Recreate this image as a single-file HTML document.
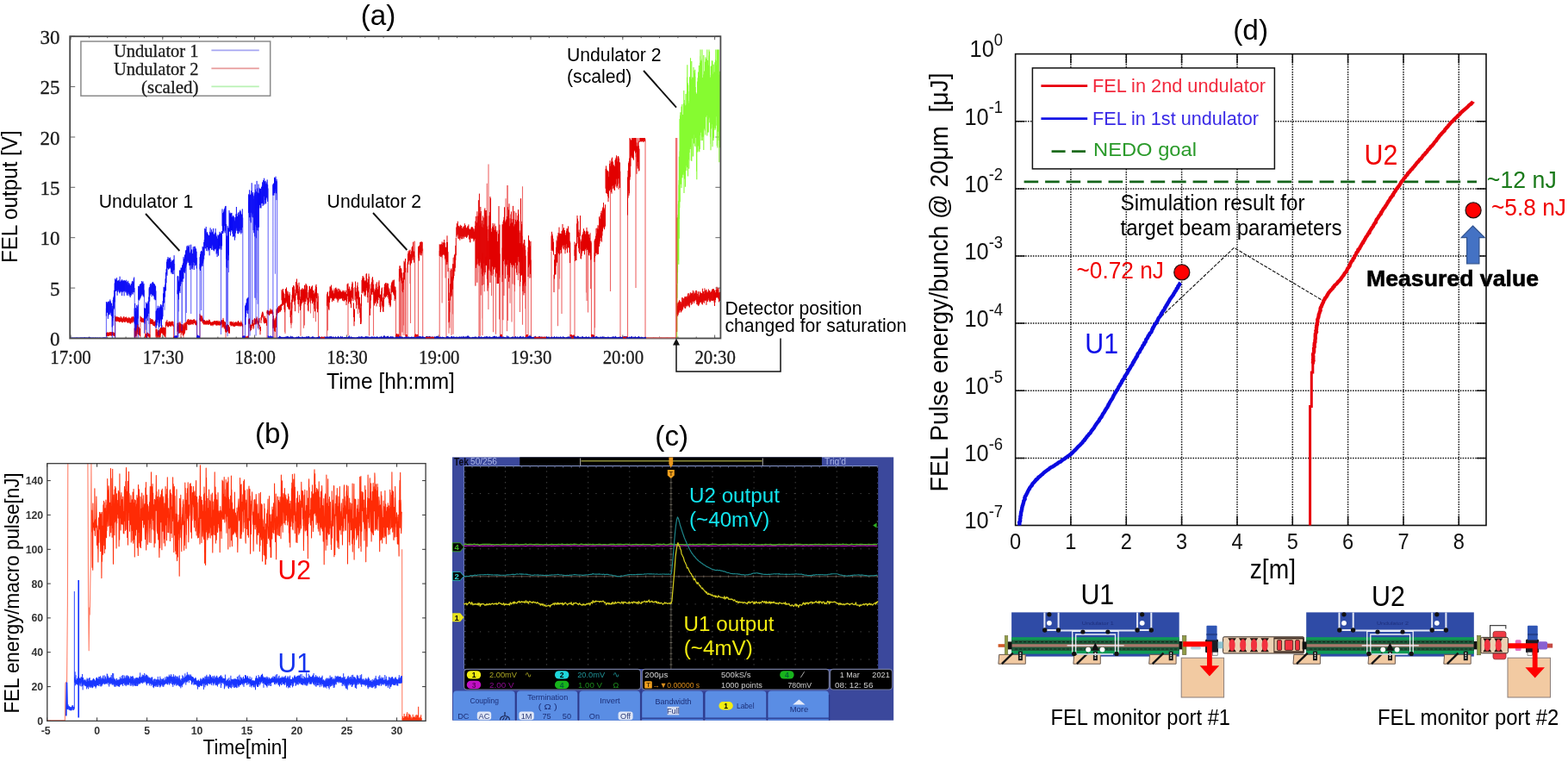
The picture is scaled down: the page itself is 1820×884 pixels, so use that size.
<!DOCTYPE html>
<html lang="en"><head><meta charset="utf-8"><title>FEL output figure</title>
<style>
html,body{margin:0;padding:0;background:#fff}
body{width:1820px;height:884px;overflow:hidden}
svg{display:block;filter:blur(.45px)}
.s{font-family:"Liberation Sans",Arial,Helvetica,sans-serif}
.r{font-family:"Liberation Serif","Times New Roman",Times,serif}
.t{fill:#1a1a1a;stroke:#1a1a1a;stroke-width:.3px}
.j{font-family:"Liberation Sans","Noto Sans CJK JP",sans-serif}
</style></head><body>
<svg width="1820" height="884" viewBox="0 0 1820 884">
<rect width="1820" height="884" fill="#fff"/>
<g id="pa">
<path d="M82 392.5v-4M82 42.2v4M188.8 392.5v-4M188.8 42.2v4M295.6 392.5v-4M295.6 42.2v4M402.4 392.5v-4M402.4 42.2v4M509.2 392.5v-4M509.2 42.2v4M616 392.5v-4M616 42.2v4M722.8 392.5v-4M722.8 42.2v4M829.6 392.5v-4M829.6 42.2v4M82 392.5v-2M82 42.2v2M103.4 392.5v-2M103.4 42.2v2M124.7 392.5v-2M124.7 42.2v2M146.1 392.5v-2M146.1 42.2v2M167.4 392.5v-2M167.4 42.2v2M188.8 392.5v-2M188.8 42.2v2M210.2 392.5v-2M210.2 42.2v2M231.5 392.5v-2M231.5 42.2v2M252.9 392.5v-2M252.9 42.2v2M274.2 392.5v-2M274.2 42.2v2M295.6 392.5v-2M295.6 42.2v2M317 392.5v-2M317 42.2v2M338.3 392.5v-2M338.3 42.2v2M359.7 392.5v-2M359.7 42.2v2M381 392.5v-2M381 42.2v2M402.4 392.5v-2M402.4 42.2v2M423.8 392.5v-2M423.8 42.2v2M445.1 392.5v-2M445.1 42.2v2M466.5 392.5v-2M466.5 42.2v2M487.8 392.5v-2M487.8 42.2v2M509.2 392.5v-2M509.2 42.2v2M530.6 392.5v-2M530.6 42.2v2M551.9 392.5v-2M551.9 42.2v2M573.3 392.5v-2M573.3 42.2v2M594.6 392.5v-2M594.6 42.2v2M616 392.5v-2M616 42.2v2M637.4 392.5v-2M637.4 42.2v2M658.7 392.5v-2M658.7 42.2v2M680.1 392.5v-2M680.1 42.2v2M701.4 392.5v-2M701.4 42.2v2M722.8 392.5v-2M722.8 42.2v2M744.2 392.5v-2M744.2 42.2v2M765.5 392.5v-2M765.5 42.2v2M786.9 392.5v-2M786.9 42.2v2M808.2 392.5v-2M808.2 42.2v2M829.6 392.5v-2M829.6 42.2v2M81.2 392.5h6M836.4 392.5h-6M81.2 334.1h6M836.4 334.1h-6M81.2 275.7h6M836.4 275.7h-6M81.2 217.3h6M836.4 217.3h-6M81.2 159h6M836.4 159h-6M81.2 100.6h6M836.4 100.6h-6M81.2 42.2h6M836.4 42.2h-6" stroke="#666" stroke-width="1" fill="none"/>
<path d="M133.6 392.5V371.5M156.5 392.5V371.5M159 392.5V375M163 392.5V371.5M168.7 392.5V371.5M174.3 392.5V373.8M181.1 392.5V375M186 392.5V380.8M192.4 392.5V376.2M201.5 392.5V376.2M206 392.5V378.5M210 392.5V380.8M213 392.5V377.3M228.6 392.5V373.8M232 392.5V369.1M262 392.5V378.5M281.8 392.5V376.2M288.6 392.5V375M310 392.5V362.1M316.9 392.5V362.1M319 392.5V369.1M321 392.5V359.8M369.5 392.5V343.5M379.5 392.5V348.1M459.5 392.5V336.5M463.4 392.5V322.4M465.5 392.5V320.1M468 389V316.6M471 392.5V310.8M473 392.5V306.1M476.5 375V303.8M481.6 392.5V296.8M485.5 392.5V292.1M490.7 392.5V288.6M510.2 392.5V290.9M518 392.5V294.4M521 386.7V310.8M524 389V310.8M526 387.8V299.1M556 392.5V293.2M560 389V293.2M580.5 392.5V294.4M583 392.5V287.4M610.4 392.5V296.8M613 392.5V292.1M616.5 392.5V301.4M567 275.7V190.5M565.2 275.7V212.7M606.5 287.4V216.2M587 287.4V230.2M640 392.5V292.1M662 392.5V281.6M667 392.5V289.7M686.5 392.5V281.6M690 392.5V293.2M720 392.5V198.7M728.5 392.5V234.9M749 392.5V161.3M330.5 385V362.3M331 387V360.1M338 380.7V377M339 374.7V357.8M346.5 363.2V353M349 389.7V358.7M352.5 380.8V350.7M353.5 377.4V350.4M360.5 363.6V352.3M364 369.1V350.4M366.5 373.2V344.5M380.5 383.4V350.5M404 389.5V347M415.5 364.2V347.9M419.5 375.7V355.1M428.5 389.5V335M433.5 389.6V341.6M464.4 390.1V321.9M464.9 378.7V322.8M466.9 385.4V337.9M468.5 377.6V327.8M470 388.9V316.2M476 328.9V307.3M513.1 351.5V299.1M517 322.4V302M521.5 346.4V372.9M522 380.4V362.1M525.5 364.4V335.7M555.9 316.3V308.3M557.3 389.7V301.7M558.3 342.5V310.4M559.8 369.5V331M561.3 330V316.5M562.3 338.3V308.8M563.8 297.4V307.8M566.9 359V334.5M570.5 343.2V317.7M572.5 385.2V318.5M575.5 387.7V315.9M578.5 317.5V328.9M579.5 370.4V314.3M583 358V327.1M584 371.2V301.3M585 343V296.9M588.5 384.3V307.2M589 323.5V318.9M589.5 371.9V302.2M591 334.4V311.7M592 351.8V310.2M594 373.6V304.3M595 329.4V310.7M597 391.7V330.5M597.5 338.3V306.1M601.5 324.9V298.4M603.5 361.9V332.6M606.5 376.7V325.5M609.9 358.2V331.8M614.5 322.8V306M647.5 378.2V292.9M649 335.5V288.1M649.5 323.4V295.8M652 364V289.3M680.5 339.5V287.8M681 349.1V287.6M682.5 362.5V290.3M685.5 335.1V301.8M690.5 380.3V298.9M708.5 338V219.9M738 333.9V182.3" fill="none" stroke="#e20000" stroke-width="1.1" opacity="0.6"/>
<path d="M123.6 385.9V390.3M124.1 385.8V389.6M124.6 385.5V389.8M125.1 386.2V389.6M125.6 385.5V390M126.1 386.2V389.8M126.6 385.8V389.6M127.1 385.7V389.1M127.6 385.1V389.1M128.1 385.5V389.5M128.6 385.6V389.3M129.1 385.2V389.2M129.6 385.5V389.8M130.1 385V388.6M130.6 385.4V388.7M131.1 385.7V389.2M131.6 385.4V389.3M132.1 385.7V389.5M132.6 386.4V389.9M133.1 386.2V390.3M133.6 366.1V372.9M134.1 367.6V372.7M134.6 367.8V372.3M135.1 367.8V372.3M135.6 367.2V373.3M136.1 367.5V371.7M136.6 367.8V372.6M137.1 368.5V372.6M137.6 367.8V373.1M138.1 368.9V373.3M138.6 368.2V373.7M139.1 368.9V373.4M139.6 369V373.4M140.1 367V372.9M140.6 367.5V373.1M141.1 368.4V373.1M141.6 369.2V374M142.1 369.7V374.4M142.6 369.4V373.7M143.1 367.6V373.2M143.6 367.3V373.1M144.1 367.4V373M144.6 369.3V373.9M145.2 368.9V374M145.7 368.1V372.7M146.2 367.8V372.6M146.7 367.6V372.7M147.2 368.8V373.6M147.7 369.4V374.3M148.2 369.3V374.1M148.7 369.4V374.8M149.2 367.8V373.5M149.7 369.4V374.3M150.2 369.1V373.1M150.7 368.5V374.9M151.2 369.6V375.6M151.7 369.6V375.5M152.2 369.1V374.1M152.7 367.6V373.8M153.2 368.9V374.8M153.7 367.8V373.7M154.2 366.9V373.7M154.7 367.4V372.4M155.2 367.8V372.2M155.7 368.6V373.7M156.2 380.7V391.3M156.7 380.5V392.2M157.2 381.6V390.2M157.7 382.1V390.4M158.1 379.9V389.9M158.6 380.3V388.5M159.1 376.2V387.6M159.6 377.5V385.2M160.1 375.8V386.8M160.6 379.7V388.1M161.1 379.2V387.7M161.5 379.8V388.9M162 381.1V388.8M162.5 381V389.8M163 366.6V372.8M163.5 367.6V373M164 368.2V372.9M164.6 368.3V374.1M165.1 369.1V373.4M165.6 369.5V373.5M166.1 369.4V374M166.6 369.8V374.3M167.1 368.5V373.7M167.7 369.2V373.8M168.2 369.1V373.4M168.7 388.1V391.5M169.2 386.9V391.1M169.7 387.4V392.5M170.2 387.7V391.6M170.7 385.4V392.4M171.2 386.5V389.9M171.8 386.1V390.3M172.3 387.1V390.4M172.8 387.5V390.5M173.3 387.2V392M173.8 388V391.5M174.3 369V375.6M174.8 371.2V375.6M175.3 371V375.6M175.8 370.2V375.9M176.2 370.1V375.7M176.7 370.7V376.2M177.2 371.5V376.4M177.7 370.9V377.5M178.2 372.9V377.7M178.7 373.8V378.1M179.2 372.8V378M179.6 373.1V378.7M180.1 372.6V376.6M180.6 371.2V377.4M181.1 382.1V390.6M181.6 381.8V389.1M182.1 382.2V391.8M182.6 384.6V392.5M183.1 385V391.4M183.6 383.1V390.4M184 383.3V389.7M184.5 383.3V392.5M185 384.8V391.1M185.5 381.7V390.8M186 383V391.2M186.5 380V388.4M187 380.2V386.2M187.5 377.4V386.3M188 377.3V386.7M188.5 380.2V386.7M189 381.5V388.3M189.5 379.6V388.3M189.9 381.3V388.5M190.4 379.6V388.9M190.9 381V390.4M191.4 380V390.8M191.9 380.4V387.4M192.4 373.8V379.5M192.9 373.1V378.1M193.4 372.8V377.2M193.9 371.1V377.9M194.4 373.9V378.8M194.9 374.1V379.6M195.4 374.8V379.2M195.9 373.2V378.4M196.4 372.7V378.2M196.9 372.9V378.1M197.5 373.6V378.4M198 373.6V378.1M198.5 373.9V378.9M199 372.6V377.8M199.5 373.2V377.2M200 373.1V377.7M200.5 372.7V377.7M201 373.3V379M201.5 390.8V392.5M202 390.5V392.4M202.5 390.1V392M203 389.9V392.3M203.5 389.9V392M204 390.3V392.4M204.5 390.6V392.5M205 390.7V392.5M205.5 390.4V392.4M206 374.9V384.9M206.5 374.4V383.9M207 374.9V384.3M207.5 376.8V386.8M208 373.9V386.6M208.5 375V386.3M208.9 373.3V384.1M209.4 375.1V386M209.9 376.1V384.4M210.4 375.9V385.8M210.9 378.8V388.3M211.4 376.2V386M211.9 378.6V386.5M212.4 377.2V389.4M212.9 375.7V389M213.4 378.8V387.6M213.9 374.8V387.7M214.4 376.5V386.7M214.8 374.5V384.4M215.3 374.4V382.7M215.8 373.5V380.9M216.3 373.7V383.2M216.8 373.2V382.9M217.3 371.2V375.9M217.8 371.9V375.8M218.3 370V376.1M218.8 370.3V376.9M219.3 371.6V377.3M219.8 372V375.8M220.2 370.8V376.3M220.7 370.9V376.5M221.2 370.7V376.9M221.7 371.2V375.7M222.2 370.8V376.3M222.7 371.5V375.5M223.2 371.3V376.2M223.7 371.6V376M224.2 371.1V376.8M224.7 370.7V375.2M225.2 370.2V374.8M225.7 370.7V375.1M226.1 371.6V375.1M226.6 371.9V376.4M227.1 372.3V377.2M227.6 373.4V377.3M228.1 371.4V376.6M228.6 389.9V392.2M229.1 389.9V391.9M229.6 390.4V392.5M230.1 390.6V392.5M230.5 390V392.5M231 390.6V392.5M231.5 390.1V392.2M232 364.2V371.5M232.5 365.7V372.6M233 366.2V372.6M233.5 366.6V372.9M234 365.9V371.5M234.5 366.8V372.6M235 368.4V374.3M235.5 369.6V375.1M236 372.2V375.6M236.5 371.2V376.6M237 371V375.2M237.5 371.5V376.4M238 372.3V376.3M238.5 372.6V376.1M239 372.5V376.8M239.5 372.5V376.5M240 371.6V376.5M240.5 371.7V375.5M241 372.5V376M241.5 372V377M242 372.2V376.7M242.5 370.6V375.9M243 372.1V375.6M243.5 371V375.8M244 372.9V377.2M244.5 373.8V377.4M245 373.6V377.7M245.5 373.9V377.4M246 373.8V377.3M246.5 373.4V377M247 373.6V378.3M247.5 373.4V377.1M248 372.7V376.4M248.5 372.2V376.3M249 373V376.5M249.5 372.3V376.4M250 372.3V376.2M250.5 372.5V376.7M251 373.2V377.8M251.5 372.1V377.1M252 373.6V377.7M252.5 372.6V376.6M253 371.8V377.3M253.5 373.4V377.2M254 373.2V376.4M254.5 372.6V377.5M255 372.4V377.2M255.5 373.7V377.2M256 373.1V377.5M256.5 372.4V376.2M257 371.1V376.7M257.5 371.5V375.7M258 372.6V380.4M258.5 371.4V379.3M259 368.9V377.9M259.5 371V378.9M260 373V380.8M260.5 372.8V380.5M261 373V382M261.5 374V384.5M262 377.2V385.1M262.5 378.3V386M263 377.3V384.4M263.5 376.5V384.8M264 376.5V384.4M264.5 376.8V383.9M265 377.4V384.7M265.5 377.3V386.4M266 378.8V386.5M266.5 379.6V386.8M267 373.1V377.2M267.5 373.3V376.7M268 373.6V378.6M268.5 372.9V377.7M269 373.2V378M269.5 373.9V377.2M270 374.3V378.4M270.5 374.6V377.7M270.9 373V378.6M271.4 374.8V378.4M271.9 374.9V379M272.4 373.9V378.8M272.9 373.9V378.4M273.4 373.5V378.1M273.9 373.5V377.2M274.4 373.9V377.9M274.9 373.8V378M275.4 374.4V377.7M275.9 373.2V378.2M276.4 372.1V378.1M276.9 372.7V378.6M277.4 373.8V377.6M277.9 374.8V377.8M278.3 374V378.4M278.8 374.6V378.6M279.3 374.1V378.3M279.8 372.4V378.1M280.3 374.2V377.5M280.8 374.3V378.2M281.3 375.7V379.3M281.8 390.8V392.5M282.3 389.4V392.1M282.8 390V392M283.3 390.4V392M283.7 390.4V392.5M284.2 390.4V392.1M284.7 390.7V392.3M285.2 390.4V392.5M285.7 390.6V392.5M286.2 390.6V392.5M286.7 390.5V392.5M287.1 390.5V392.5M287.6 389.7V392.2M288.1 389.8V392.1M288.6 370.6V375.5M289.1 369.9V375.3M289.6 369.4V375.9M290.1 375.7V380.6M290.6 376.5V384.3M291.1 377.1V382.5M291.6 376.8V383.1M292.1 376.6V380.9M292.6 373.5V378.4M293.1 371.3V375.9M293.6 371.2V378.2M294.1 375.3V381.8M294.6 375.2V380.5M295.1 369.8V376.7M295.6 369.1V376.4M296.1 369.8V374.5M296.6 370.5V376.3M297.1 371.4V376.3M297.6 369.2V375.3M298.1 367.5V375.5M298.6 369.5V373.9M299.1 371.5V376.4M299.5 372.9V380.7M300 373.4V377.7M300.5 369.3V375.6M301 368.9V374.5M301.5 376.6V382M302 381.8V388.3M302.5 379V384.1M303 367.9V374.9M303.5 365.7V371.4M304 363.5V368.6M304.5 361.8V367.1M305 361.7V367.5M305.5 363.4V369.4M306 366.3V373.7M306.5 369.6V374.7M307 368.8V375.4M307.5 366.7V374.7M308 369.1V374.8M308.5 368.9V374.7M309 369.6V374.3M309.5 371.2V377.8M310 360.3V363.4M310.5 359.8V364.4M311 359.9V364.7M311.5 361.2V364.5M312 360.3V364.8M312.5 361.2V366M313 361.1V365.1M313.4 359.9V363.7M313.9 358.1V364M314.4 360.2V364.1M314.9 359.6V363.7M315.4 360.1V363.6M315.9 358.9V364.1M316.4 360.4V365.3M316.9 370.1V380.9M317.4 366.1V378.8M317.9 370.2V380.7M318.4 371.4V384.3M318.9 373.4V383.2M319.5 370.6V384.9M320 368.6V377.2M320.5 366.6V379.9M321 358.2V366.1M321.5 359.5V365.8M322 357.7V364.2M322.5 356.7V362.8M323 356.4V362.9M323.5 355V362.8M324 355.8V362.2M324.5 355.4V360.9M325 354V362.1M325.5 354V361.2M326 353V360.2M326.5 352.7V359.7M327 335.8V348.3M327.5 337.3V355M328 339.6V354.2M328.5 335V353.5M329 338.4V350.9M329.5 339.9V353.6M330 341V359.3M330.5 346V362.3M331 345.3V360.1M331.5 335.2V351.4M332 335.5V351.9M332.5 333.4V349.8M333 337.3V351.2M333.5 339.3V355.8M334 337.8V352.4M334.5 341.4V357.3M335 344.4V358.7M335.5 343V359.2M336 338.9V356.9M336.5 341.2V358.9M337 350.8V368M337.5 361V374.8M338 359.6V377M338.5 347.7V365.3M339 342.1V357.8M339.5 333.4V350.4M340 333.3V350M340.5 331.3V345.8M341 331.2V347.7M341.5 332.4V349.5M342 340.2V353.7M342.5 342.7V361.2M343 335.8V348.7M343.5 327V342.9M344 326.7V339.6M344.5 323.5V340.1M345 328.5V342.5M345.5 330.8V347.7M346 335.2V352.7M346.5 337.8V353M347 327.7V348M347.5 332.6V347.6M348 336.2V355.6M348.5 346.8V360.1M349 344.1V358.7M349.5 335.9V354.5M350 335.3V350.9M350.5 336.4V352.2M351 334.1V350.9M351.5 335.3V348.5M352 336.6V350.3M352.5 335.7V350.7M353 334.8V347.1M353.5 330.8V350.4M354 331V352.9M354.5 335.5V350.1M355 328.9V349.7M355.5 330V345.4M356 331V346.6M356.5 332V347.6M357 339.1V354.2M357.5 345.6V360.2M358 347.5V361.3M358.5 336.6V351.6M359 332.1V346.3M359.5 331.8V345.1M360 334.5V350.1M360.5 335.9V352.3M361 335V348.7M361.5 332.6V346.3M362 332.9V348.5M362.5 331.3V352.3M363 336.6V350.8M363.5 336.9V349.6M364 337.2V350.4M364.5 341.2V353.6M365 340.2V358.3M365.5 339.4V361.3M366 335.3V350.5M366.5 331.5V344.5M367 329.8V345.6M367.5 333.2V346.1M368 339.8V358.3M368.5 350V362.3M369 340.4V358.9M369.5 391.4V392.5M370 391.4V392.5M370.5 391.2V392.5M371 391.5V392.5M371.5 391.5V392.5M372 391.4V392.5M372.5 391.6V392.5M373 391.7V392.5M373.5 391.6V392.5M374 391.4V392.5M374.5 391.4V392.4M375 391.3V392.5M375.5 391.2V392.5M376 391.2V392.5M376.5 391.4V392.5M377 391.4V392.5M377.5 391.1V392.5M378 391.2V392.5M378.5 390.9V392.5M379 391.2V392.3M379.5 341.3V354.8M380 339.2V350.3M380.5 338.5V350.5M381 343V356M381.5 344.1V358.6M382 347.6V359.8M382.5 337.6V351.1M383 332.4V347.7M383.5 332.6V345.7M384 333.6V343.9M384.5 330.6V345.9M385 334.3V346.2M385.5 338.1V350.2M386 336.4V345.9M386.5 337.4V348.1M387 339.8V348.7M387.5 340.6V348.9M388 334.6V346.8M388.5 337.2V345.8M389 336.2V346.6M389.5 334V345.5M390 333.5V344.7M390.5 335.5V346.2M391 337.5V347.5M391.5 336.1V346.8M392 334.6V350.9M392.5 338.7V349.1M393 337.8V348.2M393.5 334.9V345.9M394 338.4V347.1M394.5 337V346.3M395 336.2V347.1M395.5 338V345.8M396 338.2V346.2M396.5 339V346.3M397 338.8V345.8M397.5 337.7V348.3M398 336.6V349.2M398.5 338.8V346.2M399 338.2V349.1M399.5 337.1V349.5M400 339.8V348.4M400.5 339V348.1M401 338.8V348M401.5 336.8V348.3M402 342V354.1M402.5 341V349.8M403 329.6V343.2M403.5 329.6V343.6M404 328.6V347M404.5 335V352.3M405 335.4V349.7M405.5 332.5V350.1M406 335.1V348.5M406.5 337.4V352.4M407 338.4V351.2M407.5 336.8V357.2M408 332.8V349M408.5 329.4V345.4M409 326.8V342.3M409.5 328.5V346.9M410 334.1V349.4M410.5 351.4V368M411 362.9V378.3M411.5 358.6V373M412 333.1V347.8M412.5 326.5V343.6M413 333.9V349.7M413.5 339V358.1M414 337.9V353.9M414.5 331.4V346.6M415 327.5V345.7M415.5 333V347.9M416 337.1V357.8M416.5 338.6V353.6M417 344.5V359.2M417.5 345.1V362.8M418 351.7V368.8M418.5 357.5V376M419 352.8V373.4M419.5 341.4V355.1M420 325V340.3M420.5 323V339.1M421 320.3V340.3M421.5 320.4V338M422 323.4V337.6M422.5 322.1V338.8M423 325V343.2M423.5 326.3V342.4M424 331V344.2M424.5 325.5V342.1M425 317.7V336.6M425.5 317.3V334.2M426 323.1V337.5M426.5 327.5V345M427 328.4V351.1M427.5 324.1V339.3M428 317.5V335.8M428.5 320.8V335M429 329.7V345.6M429.5 345.8V365.9M430 342.5V357.8M430.5 334.7V348.4M431 328.7V341M431.5 327.1V341.7M432 322.7V338.5M432.5 321.2V339M433 324.7V342.2M433.5 329.8V341.6M434 334.8V351.8M434.5 338.7V354.5M435 337.3V352M435.5 336V351.8M436 329.3V346.4M436.5 334.2V349.8M437 336.3V355.4M437.5 327.3V347.7M438 335.2V351M438.5 335.9V352.1M439 332.7V348M439.5 327.3V344.8M440 325.3V341.3M440.5 331.5V345.9M441 343.8V356M441.5 341.7V362.1M442 341.7V359.3M442.5 337.8V349.7M443 334.5V347.7M443.5 333.5V354.6M444 344.9V356.6M444.5 348.8V361.4M445 345.6V362M445.5 340.6V355.7M446 333.1V347M446.5 329.4V343.9M447 330.3V341.6M447.5 328.2V345.3M448 328.6V343.1M448.5 330.6V343.9M449 328.1V341.7M449.5 329V342.1M450 329.7V345M450.5 328.9V342.6M451 333.4V346.9M451.5 336.7V351.5M452 334.7V354.1M452.5 338.8V352.1M453 341.3V356.3M453.5 341.5V354.6M454 331.2V348.1M454.5 328.4V339.7M455 326.8V337.8M455.5 326.6V338.8M456 324.8V338M456.5 325.9V340.4M457 325.3V342M457.5 324.5V343.1M458 332V349.2M458.5 333.4V346.7M459 332.7V347.2M459.5 388.5V391.6M460 387.7V390.9M460.5 387.3V390.8M461 387.1V391.5M461.4 388.2V392.3M461.9 388.3V392.1M462.4 387.5V392.5M462.9 388.1V391.3M463.4 312V326.6M463.9 308.4V320.5M464.4 308.4V321.9M464.9 311.3V322.8M465.4 311V324.9M465.9 312.3V325.6M466.4 316.4V328.6M466.9 321.9V337.9M467.5 326.1V339.2M468 322.6V336M468.5 316V327.8M469 302.6V320.3M469.5 304.4V324.4M470 304.6V316.2M470.5 300V316.2M471 388.5V390.4M471.5 388V390.3M472 388.1V390.5M472.5 388.6V391M473 304.2V316.3M473.5 294.3V305.7M474 291.3V306.8M474.5 292.7V303.2M475 290.4V301.8M475.5 291.3V302.3M476 289.7V307.3M476.5 294.9V307.6M477 295V305.1M477.6 291.3V305.5M478.1 286.8V302.3M478.6 285.7V299M479.1 287V300.8M479.6 280.7V297.7M480.1 291.3V302M480.6 291.9V304.7M481.1 279.7V297.5M481.6 388.3V391.2M482.1 388.6V390.9M482.6 387.4V391.6M483.1 389V391.6M483.6 388.3V390.6M484 387.8V390.7M484.5 388.1V390.4M485 388.4V390.9M485.5 286.3V296.9M486 285.8V299.4M486.5 284.8V302.6M487.1 285.4V295.8M487.6 281.1V293M488.1 280.7V294.7M488.6 281V296.4M489.1 280.1V296.3M489.7 280.9V293.9M490.2 280.8V291.4M490.7 391.4V392.4M491.2 391.5V392.3M491.7 391V392.5M492.2 391.3V392.3M492.7 391.2V392.5M493.2 391.5V392.5M493.7 391.3V392.5M494.2 391.2V392.4M494.7 391.3V392.5M495.2 391.5V392.5M495.7 391.6V392.5M496.2 391.8V392.6M496.7 391.7V392.5M497.2 391.6V392.5M497.7 391.5V392.5M498.2 391.6V392.4M498.7 391.5V392.5M499.2 391.6V392.5M499.7 391.7V392.5M500.2 391.5V392.5M500.7 391.3V392.5M501.2 391.5V392.4M501.7 391.5V392.4M502.2 391.4V392.5M502.7 391.4V392.4M503.2 391.4V392.5M503.7 391.5V392.5M504.2 391.5V392.5M504.7 391.6V392.5M505.2 391.2V392.5M505.7 391.7V392.5M506.2 391.6V392.5M506.7 391.6V392.5M507.2 391.5V392.5M507.7 391.5V392.5M508.2 391.7V392.5M508.7 391.5V392.5M509.2 391.4V392.5M509.7 391.7V392.5M510.2 283.3V296.8M510.7 283.8V297.3M511.2 284.1V295.3M511.7 283.7V298.1M512.1 282.9V295.3M512.6 283.3V297.6M513.1 280.4V299.1M513.6 284.1V296.3M514.1 281.9V295.7M514.6 281.7V295.3M515.1 280.9V293.8M515.6 278V295.6M516 281.5V296.6M516.5 281.8V300.3M517 286.9V302M517.5 287V299.8M518 286.6V307.2M518.5 281V304M519 273.4V306.6M519.5 280.9V303.9M520 292.2V315.2M520.5 322.9V349.1M521 349.9V374.2M521.5 351.9V372.9M522 339.6V362.1M522.5 329.4V348.6M523 313.8V343.3M523.5 311.8V339.1M524 320.6V344.3M524.5 321.7V342.7M525 312.9V334.2M525.5 306.2V335.7M526 308.9V325.4M526.5 306.4V323M527 298.4V320.1M527.4 296V313.8M527.9 294.9V315.2M528.4 294.1V310.8M528.8 284.9V301.9M529.3 275.8V296.3M529.8 263.5V275.4M530.3 259.1V273.5M530.8 260.2V272M531.3 256.7V271.5M531.8 261.9V276.9M532.3 262.5V273.4M532.8 262.2V277.1M533.3 264.2V276.6M533.8 262.8V278.8M534.3 260.8V276.4M534.8 262.3V274.2M535.3 262.1V274.2M535.8 261.8V277.4M536.3 264.6V277.1M536.8 265.1V277.2M537.3 264.9V274.6M537.8 263V274.2M538.3 263.8V276.8M538.8 262.1V275.1M539.3 259.2V274.7M539.8 261.5V272.7M540.3 261.3V274.5M540.8 263.9V274.7M541.4 264.4V276M541.9 265.8V275.3M542.4 263.5V274.6M542.9 262.2V272.6M543.4 262.2V271.8M543.9 260.4V273.1M544.4 264.9V277.6M544.9 266.1V275.6M545.4 266.2V280.9M545.9 265.9V281.4M546.4 265.4V276.5M546.9 264V275.2M547.4 263.1V276.9M547.9 263.9V275.2M548.4 263.4V276.8M548.9 264.2V275.9M549.4 265.4V277.4M549.9 266.5V280.3M550.4 268.5V278.7M550.9 265.4V277.4M551.4 262V277M551.9 256.5V331.7M552.4 250.9V310.9M552.9 258.5V307.7M553.4 258.3V306.5M553.9 245.3V327.8M554.4 250.6V300.3M554.9 256.5V306.6M555.4 232.2V305.4M555.9 247.4V308.3M556.4 224.6V308.4M556.9 261.4V303.1M557.3 247.3V301.7M557.8 240V304.8M558.3 245V310.4M558.8 259.3V311.6M559.3 263.1V318M559.8 255.9V331M560.3 250.4V320.4M560.8 264V313.9M561.3 260.3V316.5M561.8 252.4V305.6M562.3 243.3V308.8M562.8 241.4V318.6M563.3 244.1V316M563.8 246.9V307.8M564.4 244V307.4M564.9 250.5V308.3M565.4 262.6V323.6M565.9 275.8V337.6M566.4 279.4V331.2M566.9 266.1V334.5M567.4 261.6V311.8M567.9 250.3V313.8M568.5 246V300.9M569 228.1V327.9M569.5 229.9V315.2M570 273.2V319.2M570.5 268.9V317.7M571 264.9V319.8M571.5 262.9V309.4M572 258.9V308.4M572.5 264.5V318.5M573 261.4V303.5M573.5 263.7V312.5M574 259.4V305.1M574.5 266.7V310.3M575 270.3V321.5M575.5 262.3V315.9M576 272V315.1M576.5 269.1V317.3M577 267.3V329.1M577.5 280.1V329.1M578 281.3V329M578.5 271.3V328.9M579 239.1V319.3M579.5 266.7V314.3M580 260.6V322M580.5 388.8V392.5M581 388.9V392.5M581.5 387.8V392.2M582 388.1V392.5M582.5 388.1V391.1M583 260.3V327.1M583.5 260.3V318.8M584 257.1V301.3M584.5 255.3V303M585 251.8V296.9M585.5 240.3V301.1M586 256.2V306.6M586.5 257.7V323.3M587 259.6V309M587.5 255.4V307.1M588 254.2V303.5M588.5 251V307.2M589 215V318.9M589.5 240.2V302.2M590 253V306.9M590.5 243.5V326.8M591 236.3V311.7M591.5 262.3V322M592 253.3V310.2M592.5 259.3V305.2M593 248.5V302.3M593.5 245.4V307.3M594 254V304.3M594.5 258.5V310.3M595 258.3V310.7M595.5 238.9V307.4M596 254V302.1M596.5 262.5V308.3M597 244.7V330.5M597.5 260.3V306.1M598 260.3V311.6M598.5 254.9V304.7M599 246.7V305M599.5 256.8V316.3M600 267V319.1M600.5 255.1V307.7M601 250.1V294.8M601.5 243.2V298.4M602 248.2V303.1M602.5 256.7V304.2M603 267.4V317.2M603.5 282.1V332.6M604 269.8V327M604.5 230.2V320M605 256.8V307.4M605.5 260V319.4M606 273.8V316.1M606.5 287.1V325.5M606.9 283.3V338.1M607.4 283.6V331.5M607.9 281.9V342.4M608.4 278.1V328.9M608.9 278.3V340M609.4 285V327.2M609.9 289.8V331.8M610.4 388.9V391.3M610.9 388.7V391.5M611.4 388.1V391.4M612 388.4V390.8M612.5 388.1V390.5M613 286.7V321M613.5 273.2V310.2M614 278.6V308.3M614.5 278.8V306M615 280.3V306.9M615.5 285.3V317.8M616 279.9V322.4M616.5 391.5V392.5M617 391.4V392.3M617.5 391.5V392.4M618 391.4V392.4M618.5 391.4V392.4M619 391.5V392.5M619.5 391.5V392.5M620 391.6V392.5M620.5 391.5V392.5M621 391.5V392.5M621.5 391.5V392.5M622 391.2V392.4M622.5 391.2V392.4M623 391.3V392.4M623.5 391.6V392.4M624 391.7V392.5M624.5 391.7V392.5M625 391.6V392.5M625.5 391.4V392.4M626 391.6V392.5M626.5 391.6V392.4M627 391.6V392.5M627.5 391.7V392.5M628 391.6V392.5M628.5 391.7V392.5M629 391.7V392.5M629.5 391.8V392.6M630 391.7V392.5M630.5 391.5V392.5M631 391.6V392.5M631.5 391.5V392.5M632 391.4V392.5M632.5 391V392.5M633 391.3V392.3M633.5 391.3V392.5M634 391.4V392.4M634.5 391.4V392.5M635 391.6V392.5M635.5 391.5V392.5M636 391.3V392.5M636.5 391.7V392.5M637 391.8V392.6M637.5 391.7V392.5M638 391.7V392.5M638.5 391.6V392.5M639 391.1V392.5M639.5 391.7V392.5M640 273.4V291.2M640.5 268.8V289.4M641 271.5V291.6M641.5 273.6V290.6M642 276.8V290.6M642.5 280.7V295.7M643 318.7V339.1M643.5 301.3V323.6M644 295.1V315.2M644.5 295V318.5M645 298.8V318.5M645.5 286.8V308.5M646 278.6V300.5M646.5 280.1V304.6M647 273.4V295.1M647.5 275.1V292.9M648 269.9V289.9M648.5 270.7V294.1M649 263.6V288.1M649.5 270.8V295.8M650 274.8V294.3M650.5 270.9V290M651 271.1V288.7M651.5 271.3V293.7M652 268.1V289.3M652.5 267.6V286.5M653 260V282.9M653.5 266.5V284.6M654 265.3V288.2M654.5 264.2V289.4M655 267.4V287.2M655.5 267.2V284.4M656 272.5V294.3M656.5 272.7V290.2M657 270V288.6M657.5 267.7V283.3M658 264.9V288M658.5 265.5V293.3M659 265.9V286.1M659.5 262.4V287.3M660 268.5V283.8M660.5 269.7V287.7M661 269.9V293M661.5 279.7V305.1M662 388V390.4M662.5 388.5V390.8M663 388.4V391.1M663.5 388.3V391.1M664 388.7V391.4M664.5 389.4V391.4M665 389.2V391.9M665.5 388.7V391.6M666 388.7V391.7M666.5 388.7V391.2M667 280.6V296.9M667.5 284V303.1M668 284.5V299.4M668.5 282.3V302M669 283.3V302M669.5 259.4V285.4M670 250V274.7M670.5 253.6V274.8M671 256.6V282.6M671.5 268.9V287.8M672 266.5V292.2M672.5 275.4V294M673 269.9V289.5M673.5 250.1V273.9M674 277.7V300M674.5 279.9V300.5M675 280.1V297.1M675.5 273V293.8M676 271.9V290.8M676.5 271.5V291.3M677 269.1V288.9M677.5 265.2V290.9M678 268.9V291.5M678.5 267.7V295.4M679 273.1V288M679.5 271.5V289.1M680 268.8V290.6M680.5 268.2V287.8M681 263.9V287.6M681.5 268.9V289.8M682 267.8V287.3M682.5 269.1V290.3M683 273.2V292.3M683.5 271.9V295.8M684 272.1V296.7M684.5 275.9V293.4M685 270.3V291.4M685.5 279.6V301.8M686 279.6V300.8M686.5 388.1V390.6M687 387.8V390.7M687.5 388.3V390.7M688 387.9V391.7M688.5 388.5V391M689 388.9V391M689.5 388.8V391M690 279.2V303.9M690.5 277.6V298.9M691 276.8V297M691.5 273.7V293.6M692 265V289.9M692.5 270.8V293.8M693 264.3V295.6M693.5 265.5V294.7M694 261.1V289.1M694.5 265.7V294.9M695 262V283.2M695.5 251.4V286.1M696 263.1V282.7M696.5 253.7V280M697 249.8V272.7M697.5 247V275.9M698 244.8V279.5M698.5 248.1V280.6M699 244.1V273.5M699.5 241.5V268.4M700 240.1V263.3M700.5 235.1V263.3M701 240.9V264.9M701.5 242.7V266.2M702 243.5V263.7M702.5 237.3V262.3M703 195.9V218.8M703.5 192.4V223.9M704 195.7V223.7M704.5 197.5V224.8M705 198V220.8M705.5 198.2V227.7M706 199.4V234.1M706.5 205V229.7M707 198.6V220M707.5 190V221.4M708 186.3V217.2M708.5 192.7V219.9M709 189.3V217.5M709.5 187.7V222.9M710 184.1V224.7M710.5 182.6V216.1M711 187V219.4M711.5 188.3V215.1M712 194.8V218.4M712.5 191.4V218.4M713 196.9V220.5M713.5 192.9V221M714 185.9V214.5M714.5 184.7V213.5M715 182.9V216.5M715.5 180.3V207.6M716 183.7V217.9M716.5 187.4V215.8M717 181.7V213.8M717.5 181V207.4M718 182.1V219.6M718.5 183.9V207.1M719 188.4V212.7M719.5 188.5V218M720 390.6V392.4M720.5 390.9V392.4M721 391V392.5M721.5 391V392.3M722 391.1V392.5M722.5 390.9V392.5M723 391.2V392.3M723.5 390.8V392.5M724 390.6V392.5M724.5 391V392.3M725 390.7V392.5M725.5 390.7V392.4M726 390.8V392.5M726.5 390.8V392.1M727 390.4V391.9M727.5 390.4V392M728 390.4V392.3M728.5 205.4V249.6M729 197.9V229.6M729.5 189.2V221.1M730 187.3V226.9M730.5 183.6V224.3M731 160.1V208.7M731.5 160.7V205.3M732 164.3V192.9M732.5 162.4V180.6M733 163V182.9M733.5 160.1V181.8M734 160.1V183.4M734.5 160.7V183.6M735 160.1V178.4M735.5 160.1V185.7M736 160.1V174.9M736.5 160.1V174.4M737 160.1V175.8M737.5 160.1V177.6M738 160.1V182.3M738.5 160.1V176.6M739 169V201.8M739.5 170V192.9M740 165.4V195.5M740.5 160.1V187.8M741 163.6V195.5M741.5 169.4V198.6M742 172.6V197.9M742.5 160.1V164.9M743 160.1V164.4M743.5 160.1V163.8M744 160.1V163.4M744.5 160.1V164.6M745 160.4V164M745.5 160.1V163.6M746 160.1V163.6M746.5 160.1V165.1M747 160.1V164.4M747.5 160.1V163.1M748 160.1V164M748.5 160.1V164.3M749 391.5V392.3M749.5 391.6V392.4M750 391.6V392.4M750.5 391.6V392.4M751 391.6V392.4M751.5 391.6V392.4M752 391.5V392.4M752.5 391.7V392.5M753 391.6V392.5M753.5 391.8V392.6M754 391.7V392.5M754.5 391.8V392.6M755 391.6V392.4M755.5 391.7V392.5M756 391.7V392.5M756.5 391.7V392.5M757 391.7V392.5M757.5 391.7V392.5M758 391.5V392.3M758.5 391.1V392.4M759 391.6V392.4M759.5 391.5V392.5M760 391.6V392.4M760.5 391.6V392.4M761 391.5V392.5M761.5 391.6V392.4M762 391.7V392.5M762.5 391.8V392.6M763 391.8V392.6M763.5 391.8V392.6M764 391.8V392.6M764.5 391.7V392.5M765 391.8V392.6M765.5 391.7V392.5M766 391.5V392.5M766.5 391.4V392.3M767 391.6V392.4M767.5 391.4V392.3M768 391.6V392.4M768.5 391.6V392.5M769 391.6V392.4M769.5 391.7V392.5M770 391.7V392.5M770.5 391.6V392.5M771 391.7V392.5M771.5 391.7V392.5M772 391.7V392.5M772.5 391.7V392.5M773 391.4V392.5M773.5 391.6V392.4M774 391.5V392.4M774.5 391.4V392.2M775 391.5V392.3M775.5 391.6V392.5M776 391.5V392.4M776.5 391.7V392.5M777 391.8V392.6M777.5 391.6V392.5M778 391.8V392.6M778.5 391.7V392.5M779 391.8V392.6M779.5 391.6V392.4M780 391.6V392.4M780.5 391.6V392.4M781 391.6V392.4M781.5 391.5V392.3M782 391.5V392.3M782.5 391.7V392.5M783 391.7V392.5M783.5 391.7V392.5M784 391.7V392.5" fill="none" stroke="#e20000" stroke-width="1"/>
<path d="M123.4 392.5V357.5M130.2 392.5V357.5M133.6 392.5V331.8M156.2 392.5V334.1M158 392.5V363.3M160.7 392.5V335.3M167.5 386.7V336.5M170.5 392.5V359.8M173.2 387.8V335.3M181.1 380.8V337.6M184 389V366.8M202.6 392.5V306.1M206 392.5V336.5M228.6 392.5V299.1M232 392.5V306.1M264.5 348.1V287.4M281.8 392.5V252.4M284.5 392.5V363.3M288.6 392.5V233.7M296 345.8V264.1M297.5 348.1V264.1M311.2 392.5V218.5M316.9 392.5V215M321.6 392.5V210.3M130.7 392.3V372.4M131.2 377.6V369M131.7 377.7V361.3M156.7 377.4V375.7M157.2 384.1V380M158.2 370.2V375.9M168 374.1V375.4M169.1 382.8V369.5M172.7 376.1V364M191 359.7V351.1M207 391.2V344.5M207.5 361.4V347.7M211 384V326.4M211.5 374.9V325.9M215.4 373.4V311.5M216.3 362.9V307.2M221.7 363.9V307.4M233.6 360.1V310.3M236.1 372.7V303.3M256.5 388V288.1M262.6 383.3V300.9M263.6 372.7V311M264.1 390.3V302.1M264.5 378.1V294.4M265.5 316V296.6M290.1 389.5V256.2M290.6 376.2V252.3M292.7 375.4V249M295.7 345.5V274.5M296.6 279.8V261.1M297.1 389.5V263.2M297.6 339.8V276.3M299.1 352.7V261.6M300 382.5V260.9M319.5 317.7V219.8" fill="none" stroke="#0a0af5" stroke-width="1.1" opacity="0.6"/>
<path d="M82 391.8V392.6M82.5 391.8V392.6M83 391.8V392.6M83.5 391.8V392.6M84 391.7V392.5M84.5 391.6V392.4M85 391.7V392.5M85.5 391.8V392.6M86 391.8V392.6M86.5 391.6V392.5M87 391.8V392.6M87.5 391.7V392.5M88 391.7V392.5M88.5 391.6V392.4M89 391.7V392.5M89.5 391.6V392.5M90 391.7V392.5M90.5 391.7V392.5M91 391.7V392.5M91.5 391.8V392.6M92 391.6V392.5M92.5 391.7V392.5M93 391.8V392.6M93.5 391.5V392.5M94 391.7V392.5M94.5 391.6V392.4M95 391.6V392.4M95.5 391.6V392.4M96 391.6V392.4M96.5 391.7V392.5M97 391.6V392.4M97.5 391.5V392.3M98 391.5V392.3M98.5 391.4V392.3M99 391.4V392.5M99.5 391.7V392.5M100 391.8V392.6M100.5 391.5V392.5M101 391.7V392.5M101.5 391.7V392.5M102 391.7V392.5M102.5 391.6V392.4M102.9 391.6V392.4M103.4 391.5V392.3M103.9 391.6V392.4M104.4 391.4V392.4M104.9 391.6V392.4M105.4 391.5V392.5M105.9 391.8V392.6M106.4 391.7V392.5M106.9 391.8V392.6M107.4 391.7V392.5M107.9 391.5V392.5M108.4 391.7V392.5M108.9 391.7V392.5M109.4 391.8V392.6M109.9 391.7V392.5M110.4 391.6V392.5M110.9 391.7V392.5M111.4 391.6V392.5M111.9 391.8V392.6M112.4 391.7V392.5M112.9 391.8V392.6M113.4 391.6V392.5M113.9 391.7V392.5M114.4 391.8V392.6M114.9 391.8V392.6M115.4 391.7V392.5M115.9 391.6V392.5M116.4 391.7V392.5M116.9 391.8V392.6M117.4 391.8V392.6M117.9 391.8V392.6M118.4 391.8V392.6M118.9 391.7V392.5M119.4 391.7V392.5M119.9 391.5V392.4M120.4 391.5V392.5M120.9 391.6V392.4M121.4 391.5V392.5M121.9 391.5V392.4M122.4 391.6V392.4M122.9 391.6V392.5M123.4 350.1V366.7M123.9 350.3V362.4M124.4 352.2V362.6M124.9 351V362.7M125.3 350V369.9M125.8 349.7V366.6M126.3 350.9V364.9M126.8 349.5V364.7M127.3 349.5V362.8M127.8 347.4V365.1M128.3 349.3V361.5M128.7 351.1V363.2M129.2 352V366.4M129.7 351.8V366.9M130.2 359V379.5M130.7 354.9V372.4M131.2 347.8V369M131.7 345.2V361.3M132.1 343.5V358.8M132.6 336.8V357.5M133.1 328.4V350.5M133.6 323.4V337.9M134.1 323.5V338M134.6 324.9V338M135.1 324.7V336.5M135.6 322.2V337.2M136.1 326V342.8M136.6 325.6V338.9M137.1 326V338.3M137.6 325.3V336.5M138.1 324.6V336.6M138.6 326.2V339.3M139.1 320.7V340.5M139.6 327V338.7M140.1 326.5V337.2M140.6 325.5V338.2M141.1 325.6V339M141.6 324.1V343.1M142.1 325.5V339.1M142.6 325.6V337.9M143.1 326V338.5M143.6 325.3V337.6M144.1 326.5V343.3M144.6 325.1V337.8M145.2 325.7V337.3M145.7 325.8V338.7M146.2 327V339.6M146.7 324.7V338M147.2 328.2V342.6M147.7 326.8V340.9M148.2 330.5V342.9M148.7 325.8V339.4M149.2 328V339.4M149.7 329.6V341.2M150.2 328.7V343.4M150.7 330.3V342.3M151.2 331.1V345M151.7 331.1V342.3M152.2 329.2V342.9M152.7 329.2V340.2M153.2 326.9V341.3M153.7 325.9V338.8M154.2 326.5V341.5M154.7 327.4V339.1M155.2 323.1V337.4M155.7 321.5V339.2M156.2 357.6V375.3M156.7 351.9V375.7M157.2 361.2V380M157.7 357.2V382.7M158.2 357.7V375.9M158.7 353.9V380.4M159.2 358.8V376.8M159.7 355.4V376.6M160.2 353.4V369.5M160.7 331.8V347.7M161.2 332.4V347.3M161.7 332V348.6M162.2 330.3V347.4M162.6 330V345.7M163.1 329V345.7M163.6 328.8V343.9M164.1 329.4V343.3M164.6 326.1V341.5M165.1 328.2V341.6M165.6 327.6V341.7M166 326.4V343.6M166.5 329.8V343.2M167 328.9V344.7M167.5 357.3V372.6M168 357.3V375.4M168.5 358V371.3M169.1 357.7V369.5M169.6 350.6V369.7M170.1 354.1V368M170.6 352.2V368.6M171.1 352.7V372.1M171.6 350.4V367.1M172.2 349.1V363.3M172.7 344.5V364M173.2 333.6V347.1M173.7 333V349.8M174.2 330.6V342.7M174.7 329.1V341M175.2 328.8V341.2M175.7 330.3V341.2M176.2 330.4V344.3M176.7 327.7V341.8M177.1 327.8V342M177.6 326.9V342.8M178.1 328.4V341.7M178.6 328.9V344M179.1 329.4V347.3M179.6 329.9V346.3M180.1 331.4V348.3M180.6 331.9V348M181.1 360.8V380.2M181.6 360.2V378.1M182.1 358.4V377.5M182.6 357.7V374M183.1 354.7V371.5M183.6 357.3V371.1M184.1 357.2V374.6M184.6 358.5V379M185 355.1V379.8M185.5 356.4V375.3M186 357.1V372.4M186.5 353.1V370.6M187 354.2V378.4M187.5 355.6V380.3M188 353.6V366.3M188.5 356.6V370.5M189 349.2V367.3M189.5 340.3V355.9M190 332.7V351.9M190.5 333.3V351.2M191 335.9V351.1M191.5 330.3V344.6M192 323.3V337.9M192.5 316.1V337M193 312.1V328.2M193.5 303.6V317.8M194 301.1V319.8M194.5 300.3V311.2M195 298V311.1M195.5 301V312.5M196 299.1V312.3M196.5 299.9V311.1M197 299.7V311.4M197.5 298.6V310.3M198.1 300.9V311.7M198.6 304V315.9M199.1 304.3V317.7M199.6 302.9V316.1M200.1 301.7V314.2M200.6 302.2V318M201.1 301.8V318.1M201.6 300.8V313.7M202.1 296.2V313.1M202.6 390.4V392.5M203.1 389.7V392.5M203.6 389.8V392.2M204.1 389.3V392.1M204.5 389.7V392.2M205 389.4V391.8M205.5 389.6V392.5M206 320.7V341.2M206.5 319.9V341.3M207 324.8V344.5M207.5 326.5V347.7M208 320.7V338.3M208.5 313.5V337.6M209 313.9V340.1M209.5 313.5V331.9M210 310.5V329.6M210.5 310.7V326.8M211 311.1V326.4M211.5 307.8V325.9M212 306.8V327.1M212.5 305V323.5M213 298.1V323.3M213.4 300.6V315.6M213.9 299.8V315.5M214.4 296V316.8M214.9 295.1V314.7M215.4 291.2V311.5M215.9 290.1V309.1M216.3 290V307.2M216.8 285.6V306.4M217.3 288V302.8M217.8 284.7V304.7M218.3 285.8V302.4M218.8 285.8V304.7M219.3 286.2V304.8M219.8 284.2V308.2M220.2 293.2V307.6M220.7 293.7V313M221.2 291.5V308.1M221.7 283.7V307.4M222.2 289.6V305M222.7 289.5V311.8M223.2 294.4V312.5M223.7 294.1V310.3M224.2 286.4V307.9M224.7 289.4V304M225.2 286V313.1M225.7 289.2V305M226.1 285.6V305.3M226.6 286.6V308.3M227.1 292.2V305.8M227.6 288.4V307.5M228.1 291.7V311.6M228.6 390V392.5M229.1 389.8V392.5M229.6 388.6V392M230.1 389.2V391.6M230.5 389.7V392M231 390.1V392.3M231.5 389.7V392.4M232 298.2V312.4M232.5 294.8V314M233 292.2V310.3M233.6 290.9V310.3M234.1 292V308.7M234.6 291.5V307.7M235.1 285.8V308.9M235.6 287V305.5M236.1 286.3V303.3M236.7 280.9V300.8M237.2 278.2V296.4M237.7 265V288.2M238.2 267.8V284.8M238.7 265.5V288.3M239.2 263V288.4M239.7 270.7V291.1M240.2 269.6V286.8M240.7 269.3V287M241.2 271.4V291.4M241.7 272.4V288.9M242.2 273.7V289.5M242.7 273V290.3M243.1 273.5V296.4M243.6 268.9V288M244.1 264.3V287.2M244.6 270V288.1M245.1 269.8V285.7M245.6 266.2V289.9M246.1 268.7V289.7M246.6 270V284.5M247.1 268.9V286.1M247.6 264.9V290.4M248.1 271.8V287.8M248.6 271.5V291.4M249.1 272.2V289.1M249.6 269.7V289.3M250.1 265.1V289.2M250.6 270V288.1M251.1 274.3V294.7M251.6 274.5V293.4M252.1 272.3V298.1M252.6 276.7V290.9M253 277.2V294.3M253.5 273.2V296.7M254 272.4V288.8M254.5 271.7V288.2M255 268.9V289.6M255.5 270.6V285.3M256 269.5V288.2M256.5 270.9V288.1M257 272.5V289.8M257.5 268V285.4M258 242.4V262.4M258.5 247.1V270.9M259 248.1V270.7M259.5 245.5V267.7M260 243.2V268.7M260.6 242.2V262M261.1 240.5V270.4M261.6 239.2V267.6M262.1 238.9V262.4M262.6 260V300.9M263.1 277.7V309.8M263.6 273.5V311M264.1 262V302.1M264.5 264.3V294.4M265 263.9V301.8M265.5 265.2V296.6M266 244V266.6M266.5 247.4V268.7M267 246.5V264.1M267.5 247.6V273.5M268 248V268.9M268.5 247.2V267.1M269 246.9V267.2M269.5 252V267.5M269.9 251.3V271.1M270.4 250.3V274.8M270.9 250.3V268.5M271.4 251.5V274.3M271.9 254.5V273.7M272.4 256.3V278.7M272.9 252.2V275.6M273.4 252V270.6M273.9 248.3V266.6M274.4 240V264.7M274.9 248V267.8M275.4 251V267.6M275.9 251.9V271M276.4 246.5V271.3M276.9 249.3V270.6M277.4 249.4V268.3M277.9 246.2V267.5M278.3 245.1V269.8M278.8 243.6V265.4M279.3 245.2V267.1M279.8 247.8V271.5M280.3 248.6V266.8M280.8 249V270.2M281.3 242.4V263.9M281.8 390V392.5M282.3 389.9V392.5M282.9 389.6V392.4M283.4 389.9V392.2M284 389.3V391.9M284.5 354.4V376.9M285 355.5V376.7M285.5 352.3V367.9M286 350.9V363.2M286.6 346.6V360.3M287.1 346.5V359.4M287.6 345.6V364M288.1 344.8V359.8M288.6 225.3V247.1M289.1 226.8V245.8M289.6 220.3V252.3M290.1 226.7V256.2M290.6 226V252.3M291.1 224.7V258.4M291.7 221.3V246.9M292.2 212.2V251.6M292.7 225.4V249M293.2 224.3V247.7M293.7 223V252.4M294.2 230.7V267M294.7 227.3V270.3M295.2 225.4V267.2M295.7 223.5V274.5M296.1 213.9V259.5M296.6 219.7V261.1M297.1 226.1V263.2M297.6 222.3V276.3M298.1 209.9V267.1M298.6 218.4V264M299.1 223.1V261.6M299.5 224.1V267.7M300 213.6V260.9M300.5 224.2V263.7M301 217.8V238.1M301.5 219.1V237.8M302 221.5V241.5M302.5 218.8V241M303 222.2V241.5M303.6 217V236M304.1 215.6V236.1M304.6 211.3V235.4M305.1 216.9V239M305.6 209.1V236.5M306.1 212.5V237.8M306.6 206.7V227.9M307.1 210V236.9M307.6 210.9V232.1M308.1 209.6V235.1M308.6 213.3V236.4M309.2 211.3V229.2M309.7 213.2V229.5M310.2 208.4V231.6M310.7 214.2V234M311.2 389.3V392M311.7 389.8V392.2M312.2 390.1V392.5M312.8 390.3V392.5M313.3 390.5V392.5M313.8 389.4V392.5M314.3 390.2V392.3M314.8 389.8V392.4M315.3 390.3V392.4M315.9 390.4V392.5M316.4 390.7V392.5M316.9 213.8V226.7M317.4 212.7V226.4M317.9 212.8V226.6M318.5 205.8V224.1M319 206.5V223.7M319.5 206.6V219.8M320 204.7V222M320.6 209.9V224.3M321.1 207.8V232.1" fill="none" stroke="#0a0af5" stroke-width="1"/>
<path d="M785.7 392V330M786 345.8V252.4M786.3 268.2V328.8M786.5 262.5V316.3M786.8 251.7V302.2M787 249.1V294.8M787.3 236.7V301.7M787.5 233V287.8M787.8 214.6V306.8M788 209V266.8M788.3 181.7V276.8M788.5 191.5V254M788.8 175.5V241.3M789 138.1V208.7M789.3 153.6V234.2M789.5 133.8V206.2M789.8 130.2V207.3M790 151.2V213.7M790.3 145.8V210.5M790.5 142.6V206M790.8 135.4V202.8M791 123.6V218M791.3 153.9V195.7M791.5 146.2V203.7M791.8 121.1V191.1M792 133.8V206.3M792.3 136.9V198.6M792.5 154.4V196.1M792.8 133.1V202.8M793 146.8V198.9M793.3 151.1V191.2M793.5 120.1V200.1M793.8 104.9V196.4M794 124.5V224M794.3 116.1V174.1M794.5 120.3V174.1M794.8 125.4V196.1M795 122.3V207.4M795.3 136.7V205.2M795.5 139.9V216.7M795.8 140.7V189.2M796 109.1V189.2M796.3 136.9V184.3M796.5 135V192.2M796.8 126.8V197.9M797 121.6V183.7M797.3 107.4V163M797.5 89.5V194.2M797.8 75.2V158.5M798 111.6V168.8M798.3 96.2V167.6M798.5 98.5V204.6M798.8 120.3V177.8M799 119.5V178.1M799.3 129V185.3M799.5 128.5V172.5M799.8 116.9V195.7M800 106.1V186.4M800.3 98.8V176.9M800.5 89.2V155.5M800.8 112.5V162.3M801 116.9V172.9M801.3 102.8V170.4M801.5 67.3V164.1M801.8 124.3V166.7M802 125.9V167.5M802.3 91.9V186M802.5 99.2V182.1M802.8 71.1V187M803 96.6V181.4M803.3 89.4V158.7M803.5 90.8V153.3M803.8 95.7V160.7M804 92.3V154.7M804.3 98.9V149.4M804.5 89.8V181.4M804.8 90V158M805 78.1V149.8M805.3 101.2V166.5M805.5 81.8V151.8M805.8 84.8V150.6M806 92V148.6M806.3 94.1V156.3M806.5 96.3V169.7M806.8 80.8V144M807 89V143.2M807.3 100.9V155.5M807.5 107.1V160.1M807.8 108.1V159.7M808 107.4V169.7M808.3 118.9V171M808.5 114.7V198.7M808.8 109.1V208.2M809 117.8V165.3M809.3 110.1V167.3M809.5 94.4V147.9M809.8 104.1V176.4M810 90.2V147.9M810.3 96.1V161.4M810.5 83.6V154.1M810.8 98.5V169.4M811 87.7V169.4M811.3 76.1V175.3M811.5 100.4V162.8M811.8 96.3V176.3M812 91.7V138.4M812.3 88.2V172.9M812.5 72.8V156.9M812.8 65.3V138.5M813 57.4V153.2M813.3 69.7V127M813.5 76V153.7M813.8 76.8V151.8M814 89.9V163.1M814.3 70.4V154.6M814.5 97.5V156.6M814.8 68.2V158.5M815 57.4V154.8M815.3 105.3V163.1M815.5 99.5V140.6M815.8 97.1V154.1M816 89.9V152.4M816.3 91.4V158.7M816.5 86.6V145.4M816.8 64.1V174.1M817 93.7V145.8M817.3 95.7V148M817.5 82.5V148.3M817.8 100V149.6M818 83.5V144.2M818.3 84.2V151.6M818.5 71.7V141.1M818.8 72.3V156.4M819 66.3V124.8M819.3 68V124.3M819.5 71.2V135.8M819.8 68.6V133.8M820 70.8V134.1M820.3 84V127.7M820.5 76.3V132.4M820.8 57.4V157.5M821 82.4V154.4M821.3 90.2V153.4M821.5 69.9V150.7M821.8 82.4V140.1M822 85.7V147.1M822.3 79.6V153.5M822.5 75.7V138.6M822.8 64.4V133.2M823 57.4V136.5M823.3 71.1V125.2M823.5 59.7V130.4M823.8 76.9V142.1M824 87.1V133.1M824.3 90.1V142.9M824.5 104.7V158.8M824.8 110.6V167M825 107.8V174.3M825.3 89.3V145.6M825.5 76.4V149.6M825.8 81V140.4M826 78.9V144.3M826.3 70.2V135.9M826.5 86.7V134.9M826.8 90.7V148.3M827 70.6V170.2M827.3 85.8V149.5M827.5 87.5V157.2M827.8 99.2V154.4M828 106.3V163.1M828.3 74.7V153.8M828.5 96.1V160.3M828.8 83.5V148.8M829 88.1V144.1M829.3 84.3V131.3M829.5 83.6V146.4M829.8 72.3V143.6M830 98.6V151M830.3 86V147.8M830.5 69.2V149.2M830.8 57.5V135.2M831 78.7V134.1M831.3 89.6V133.2M831.5 84.8V126.9M831.8 75.8V145.6M832 70.2V145.7M832.3 57.4V169.3M832.5 98.3V143.9M832.8 72.3V171.4M833 90.2V152M833.3 57.4V152.8M833.5 79.3V135.4M833.8 79V147.8M834 70.5V144.3M834.3 57.4V163.1M834.5 86.8V146.7M834.8 90.8V188.2M835 96.7V147.1M835.3 89.4V153.8M835.5 82.8V156.9M835.8 95.8V171.3M836 83V162.7" fill="none" stroke="#86fb30" stroke-width="1.1"/>
<path d="M784.6 392V160.1M785.6 160.1V385" fill="none" stroke="#e20000" stroke-width="1.5" opacity=".55"/>
<path d="M786.2 351.8V364.7M786.7 354.6V366.8M787.2 350.5V365.1M787.7 350.9V362.4M788.2 349.3V362.9M788.7 348.1V361.6M789.2 349.4V359.9M789.7 350.1V360.1M790.2 352.6V362.5M790.7 350.3V362.2M791.2 351.9V361M791.7 345.2V359.4M792.2 345.2V359.6M792.7 348.8V358.5M793.2 346.4V355.1M793.7 346.3V356.4M794.2 345.9V355M794.8 344.1V357.3M795.3 345V358M795.8 343.9V357.5M796.3 344.1V355.1M796.8 345.7V354.2M797.3 344.9V355.6M797.8 343.3V353.1M798.3 340.5V354.7M798.8 344.2V353.4M799.3 340.1V354.6M799.8 343.9V355.7M800.3 342.9V356.7M800.8 341.5V351.9M801.3 339.3V351.3M801.8 339.6V350.9M802.3 341.1V353.9M802.8 340.1V349.6M803.3 340.4V352.7M803.8 339.6V352.3M804.3 336.8V349.6M804.8 342.4V349.6M805.3 340.5V350.1M805.8 338.3V351.8M806.3 340.7V348.9M806.8 340.2V349.3M807.3 339.3V347.8M807.8 337V347.8M808.3 336.9V349.9M808.8 339.4V352.9M809.3 341V353.5M809.8 343.7V352.1M810.3 337.9V354.3M810.8 338.9V355.1M811.4 343.9V353.5M811.9 342.1V352.6M812.4 338.1V350.8M812.9 340V350.8M813.4 339.5V350.5M813.9 340.3V349.8M814.4 340.1V352.6M814.9 340.9V350.5M815.4 334.7V353.5M815.9 340.9V351M816.4 338.4V348.7M816.9 337.9V350.6M817.4 340.7V351.8M817.9 334.4V349.1M818.4 337.2V348.6M818.9 339.8V348M819.4 336.3V349M819.9 335.8V353.9M820.4 339.3V347.8M820.9 337.7V349.5M821.4 339.4V350.2M821.9 338.8V348.4M822.4 335.4V346.1M822.9 337.3V347.8M823.4 337.5V349.2M823.9 337V350.5M824.4 339.3V350.2M824.9 339V348.6M825.4 338.5V348.7M825.9 337.8V346.3M826.4 336.1V348.9M826.9 335.5V348.6M827.4 335V349.1M828 337.2V348.3M828.5 335.1V348.5M829 337.6V350.9M829.5 336.8V355M830 340V350.9M830.5 339.2V348.1M831 335.8V345.8M831.5 335.8V345.2M832 332.7V343.2M832.5 335.6V344.9M833 334.5V345.7M833.5 335.9V345.6M834 334.1V347.2M834.5 339.8V350.4M835 338.9V348.2M835.5 338.8V348.9M836 339.1V349.2" fill="none" stroke="#e20000" stroke-width="1"/>
<rect x="81.2" y="42.2" width="755.2" height="350.3" fill="none" stroke="#4a4a4a" stroke-width="1.8"/>
<rect x="93.9" y="48" width="219.8" height="63.2" fill="#fff" stroke="#8a8a8a" stroke-width="1.5"/>
<text class="r t" x="230.6" y="65.6" font-size="21.5" text-anchor="end" textLength="98.6" lengthAdjust="spacingAndGlyphs">Undulator 1</text>
<path d="M245.4 58.4H300.8" stroke="#a6a6f2" stroke-width="1.6"/>
<text class="r t" x="230.6" y="86.7" font-size="21.5" text-anchor="end" textLength="98.6" lengthAdjust="spacingAndGlyphs">Undulator 2</text>
<path d="M245.4 79.4H300.8" stroke="#e79a9a" stroke-width="1.6"/>
<text class="r t" x="230.6" y="107.8" font-size="21.5" text-anchor="end" textLength="66.5" lengthAdjust="spacingAndGlyphs">(scaled)</text>
<path d="M245.4 100.4H300.8" stroke="#b9f2b4" stroke-width="1.6"/>
<text class="r t" x="69.6" y="401" font-size="23" text-anchor="end">0</text>
<text class="r t" x="69.6" y="342.6" font-size="23" text-anchor="end">5</text>
<text class="r t" x="69.6" y="284.2" font-size="23" text-anchor="end">10</text>
<text class="r t" x="69.6" y="225.8" font-size="23" text-anchor="end">15</text>
<text class="r t" x="69.6" y="167.5" font-size="23" text-anchor="end">20</text>
<text class="r t" x="69.6" y="109.1" font-size="23" text-anchor="end">25</text>
<text class="r t" x="69.6" y="50.7" font-size="23" text-anchor="end">30</text>
<text class="r t" x="82" y="421.5" font-size="23" text-anchor="middle" textLength="47.5" lengthAdjust="spacingAndGlyphs">17:00</text>
<text class="r t" x="189.4" y="421.5" font-size="23" text-anchor="middle" textLength="47.5" lengthAdjust="spacingAndGlyphs">17:30</text>
<text class="r t" x="296.2" y="421.5" font-size="23" text-anchor="middle" textLength="47.5" lengthAdjust="spacingAndGlyphs">18:00</text>
<text class="r t" x="403" y="421.5" font-size="23" text-anchor="middle" textLength="47.5" lengthAdjust="spacingAndGlyphs">18:30</text>
<text class="r t" x="509.8" y="421.5" font-size="23" text-anchor="middle" textLength="47.5" lengthAdjust="spacingAndGlyphs">19:00</text>
<text class="r t" x="616.6" y="421.5" font-size="23" text-anchor="middle" textLength="47.5" lengthAdjust="spacingAndGlyphs">19:30</text>
<text class="r t" x="723.4" y="421.5" font-size="23" text-anchor="middle" textLength="47.5" lengthAdjust="spacingAndGlyphs">20:00</text>
<text class="r t" x="830.2" y="421.5" font-size="23" text-anchor="middle" textLength="47.5" lengthAdjust="spacingAndGlyphs">20:30</text>
<text class="s" transform="translate(19.8 228.2) rotate(-90) scale(1 1.05)" font-size="24.2" text-anchor="middle">FEL output [V]</text>
<text transform="translate(453.5 450.5) scale(1 1.05)" class="s" font-size="24.5" text-anchor="middle">Time [hh:mm]</text>
<text class="s n" x="439" y="28.8" font-size="33.2" text-anchor="middle">(a)</text>
<text class="s n" x="114.8" y="240.6" font-size="21.2">Undulator 1</text>
<text class="s n" x="379.6" y="240.6" font-size="21.2">Undulator 2</text>
<text class="s n" x="658" y="71.2" font-size="21.2">Undulator 2</text>
<text class="s n" x="658" y="96" font-size="21.2">(scaled)</text>
<text transform="translate(841.5 365) scale(1 1.05)" class="s" font-size="21.2">Detector position</text>
<text transform="translate(841.5 385) scale(1 1.05)" class="s" font-size="21.2">changed for saturation</text>
<path d="M169 248L208.4 291M433 247L472.4 290M747 82L785 124.6" stroke="#111" stroke-width="1.9" fill="none"/>
<path d="M785 398V431H906V392.5" stroke="#111" stroke-width="1.5" fill="none"/>
<path d="M785 392.5l-4 8h8z" fill="#111"/>
<path d="M322.5 392.6L322.5 391.3L323.5 390.9L324.5 389.6L325.5 390.3L326.5 391.1L327.5 390.8L328.5 391.2L329.5 390.7L330.5 391.1L331.5 390.6L332.5 390.6L333.5 389.7L334.5 390.6L335.5 390.4L336.5 391.2L337.5 389.2L338.5 390.9L339.5 390L340.5 391L341.5 391.4L342.5 391.3L343.5 391.3L344.5 390.5L345.5 390.9L346.5 389.8L347.5 390.9L348.5 390.8L349.5 391.4L350.5 390.3L351.5 390.7L352.5 391L353.5 390.7L354.5 391.2L355.5 390.1L356.5 390.7L357.5 390.1L358.5 390.1L359.5 391.5L360.5 391.4L361.5 390.9L362.5 390.3L363.5 390.2L364.5 391.3L365.5 391.2L366.5 391.4L367.5 391.2L368.5 391L369.5 390.9L370.5 389.4L371.5 391.2L372.5 391L373.5 390.5L374.5 391.5L375.5 391.1L376.5 390.8L377.5 390.3L378.5 391.3L379.5 389.8L380.5 391L381.5 390.7L382.5 390.2L383.5 390.3L384.5 390.1L385.5 390.7L386.5 390.8L387.5 390.6L388.5 391.5L389.5 389.9L390.5 391.3L391.5 391.3L392.5 389.4L393.5 390.9L394.5 391.4L395.5 389.5L396.5 391L397.5 390.1L398.5 391.4L399.5 391L400.5 391L401.5 390.9L402.5 391.5L403.5 390.9L404.5 390.2L405.5 389.1L406.5 391.5L407.5 390.1L408.5 391.2L409.5 390.9L410.5 391.2L411.5 391.2L412.5 391.3L413.5 391.4L414.5 390.8L415.5 391.3L416.5 389.9L417.5 390.7L418.5 390.7L419.5 390L420.5 390.4L421.5 390.8L422.5 390.9L423.5 390.9L424.5 390L425.5 390.3L426.5 390.5L427.5 390.2L428.5 391.2L429.5 390.4L430.5 391.2L431.5 389.9L432.5 390.7L433.5 390.7L434.5 390.4L435.5 390.8L436.5 391L437.5 390L438.5 390.7L439.5 391.4L440.5 390.5L441.5 391L442.5 389.6L443.5 390.9L444.5 390.8L445.5 389.2L446.5 389.3L447.5 390.7L448.5 390.4L449.5 390L450.5 389.6L451.5 390.9L452.5 390.7L453.5 389.9L454.5 390.6L455.5 390.3L456.5 390.4L457.5 391.4L458.5 391.4L459.5 390.4L460.5 391L461.5 389.9L462.5 391.4L463.5 389.9L464.5 390.1L465.5 390.8L466.5 390.8L467.5 390.7L468.5 391.4L469.5 391L470.5 390.8L471.5 390.4L472.5 390.2L473.5 391.3L474.5 390.2L475.5 391.3L476.5 390.9L477.5 390.5L478.5 390.8L479.5 390.9L480.5 390.6L481.5 391.2L482.5 391.3L483.5 390.9L484.5 390.1L485.5 390.9L486.5 389.5L487.5 390.6L488.5 390.1L489.5 391.1L490.5 389.6L491.5 390.8L492.5 391.1L493.5 391.4L494.5 389.9L495.5 390.1L496.5 390.3L497.5 390.5L498.5 389.8L499.5 390.2L500.5 391.3L501.5 390.3L502.5 390.7L503.5 390.9L504.5 390.3L505.5 390.8L506.5 390.1L507.5 389.7L508.5 390.1L509.5 390.9L510.5 391.1L511.5 390.6L512.5 391.3L513.5 390.6L514.5 391L515.5 391L516.5 391.4L517.5 391.3L518.5 390L519.5 389.9L520.5 390.4L521.5 390.8L522.5 391.4L523.5 390.3L524.5 389.7L525.5 391.1L526.5 390L527.5 390.7L528.5 391L529.5 390.5L530.5 391.2L531.5 391.1L532.5 390.7L533.5 390.2L534.5 391.1L535.5 389.9L536.5 391.3L537.5 389.6L538.5 390.7L539.5 390.6L540.5 390.4L541.5 390.6L542.5 389.5L543.5 389.3L544.5 390.4L545.5 390.9L546.5 391.4L547.5 391.3L548.5 390.8L549.5 390.9L550.5 390.8L551.5 390.8L552.5 390.5L553.5 391.3L554.5 391.5L555.5 390L556.5 390.2L557.5 391.2L558.5 389.9L559.5 391.3L560.5 391L561.5 390.9L562.5 390.2L563.5 390.8L564.5 390L565.5 390.3L566.5 390.7L567.5 390.7L568.5 390L569.5 390.9L570.5 390.9L571.5 390.7L572.5 390.2L573.5 390.1L574.5 389.4L575.5 390.8L576.5 389.9L577.5 391.2L578.5 390.4L579.5 390.7L580.5 389.6L581.5 390.3L582.5 391.1L583.5 390.4L584.5 390.5L585.5 391L586.5 391L587.5 391.4L588.5 388.8L589.5 390.7L590.5 390.1L591.5 391.4L592.5 391.5L593.5 390.9L594.5 390.9L595.5 390.2L596.5 391.5L597.5 390.4L598.5 389.7L599.5 391.4L600.5 390.1L601.5 391.4L602.5 390.5L603.5 390.5L604.5 389.5L605.5 391.2L606.5 390.6L607.5 390L608.5 391.4L609.5 390.8L610.5 391.4L611.5 391.3L612.5 390.3L613.5 390.3L614.5 389L615.5 389.8L616.5 389.9L617.5 390.9L618.5 391L619.5 390.7L620.5 390.6L621.5 389.6L622.5 391.2L623.5 391.5L624.5 391.1L625.5 390.2L626.5 389.9L627.5 391L628.5 390.5L629.5 390.8L630.5 391.5L631.5 390.7L632.5 390.8L633.5 391.1L634.5 390L635.5 391.1L636.5 390.6L637.5 391.5L638.5 391.4L639.5 391.3L640.5 390.3L641.5 391.3L642.5 390.9L643.5 389.7L644.5 391.3L645.5 390.8L646.5 390.3L647.5 391.2L648.5 390.5L649.5 391.2L650.5 390.3L651.5 390.7L652.5 391.4L653.5 389.8L654.5 390.9L655.5 391L656.5 391.4L657.5 391.1L658.5 390.9L659.5 390.7L660.5 390L661.5 391.3L662.5 391L663.5 390L664.5 390.7L665.5 390.5L666.5 389.7L667.5 390.6L668.5 390.5L669.5 390.8L670.5 389.6L671.5 390.1L672.5 391.3L673.5 390.4L674.5 391.4L675.5 390L676.5 390.3L677.5 390.9L678.5 391.1L679.5 390.9L680.5 390.3L681.5 390.9L682.5 391L683.5 390.3L684.5 391.3L685.5 391.2L686.5 391.3L687.5 391.3L688.5 389.1L689.5 390.9L690.5 391L691.5 390.2L692.5 390L693.5 390.8L694.5 390.8L695.5 391.5L696.5 390.5L697.5 390.8L698.5 390.8L699.5 390.2L700.5 390.6L701.5 391.2L702.5 390.9L703.5 390.9L704.5 391.3L705.5 390.6L706.5 390.7L707.5 391.2L708.5 391L709.5 391.2L710.5 390.6L711.5 390.4L712.5 390.2L713.5 391L714.5 389.5L715.5 391.1L716.5 391.2L717.5 390.7L718.5 391L719.5 390.6L720.5 390.8L721.5 391.3L722.5 390.5L723.5 391.4L724.5 389.7L725.5 390.4L726.5 389.9L727.5 391.3L728.5 391L729.5 391.5L730.5 390.6L731.5 390.9L732.5 390.6L733.5 389.7L734.5 391.5L735.5 390.4L736.5 391.1L737.5 390.1L738.5 391.2L739.5 390.9L740.5 390.8L741.5 389.7L742.5 390.9L743.5 391.2L744.5 391.3L745.5 390.7L746.5 391.5L747.5 391.2L748.5 390.9L749.5 390.4L750 392.6z" fill="#1414c8" stroke="none"/>
<path d="M372 391.6h5M494 391.6h10M620 391.6h14M663 391.6h3M723 391.6h4" stroke="#d01010" stroke-width="1.6" fill="none"/>
<path d="M750 391.8h34" stroke="#e07a7a" stroke-width="1.2" fill="none"/>
</g>
<g id="pb">
<path d="M106.5 592.9L106.7 592L106.9 616.3L107.1 658.2L107.3 604.3L107.5 614.4L107.7 661.2L107.9 584L108.1 606.4L108.3 611.5L108.5 606.6L108.7 608.6L108.9 607.9L109.1 612.3L109.3 615.3L109.5 604.6L109.7 607.2L109.9 566.7L110.1 609L110.3 620.5L110.5 621.6L110.7 603L110.9 608.4L111.1 605.7L111.3 611.9L111.5 607.9L111.7 587.4L111.9 576.1L112.1 598.5L112.3 610.4L112.5 632.1L112.7 632.5L112.9 610L113.1 616.2L113.3 615.3L113.5 636.3L113.7 618.1L113.9 651.9L114.1 636.1L114.3 627.3L114.5 600.7L114.7 623.6L114.9 629.3L115.1 605.5L115.3 612.7L115.5 594.3L115.7 606.2L115.9 607.7L116.1 613.9L116.3 596.7L116.5 623.2L116.7 639.5L116.9 594.6L117.1 621.5L117.3 612.9L117.5 603.6L117.7 596.7L117.9 670.6L118.1 635.9L118.3 594.3L118.5 651.2L118.7 610.1L118.9 624.2L119.1 631L119.3 614.3L119.5 643.3L119.7 602.6L119.9 585.8L120.1 632.5L120.3 616.5L120.5 581.2L120.7 598.9L120.9 614.8L121.1 582.9L121.3 641.6L121.5 613.4L121.7 604.4L121.9 610.9L122.1 589.7L122.3 636.8L122.5 603.6L122.7 618.3L122.9 579.9L123.1 583L123.3 617.3L123.5 623.7L123.7 602.3L123.9 615.4L124.1 607L124.3 585.7L124.5 600.5L124.7 555.6L124.9 588.2L125.1 599.3L125.3 610.6L125.5 599.4L125.7 568.8L125.9 579.5L126.1 563.7L126.3 567.9L126.5 584.6L126.7 609.6L126.9 598.6L127.1 592L127.3 622.1L127.5 583.2L127.7 609.4L127.9 592.2L128.1 601.1L128.3 581L128.5 543.4L128.7 617.7L128.9 596.1L129.1 555.1L129.3 609.2L129.5 595.3L129.7 594.3L129.9 587.4L130.1 623.2L130.3 585L130.5 578.7L130.7 544.3L130.9 599L131.1 612.6L131.3 601.2L131.5 654.3L131.7 598.5L131.9 573.9L132.1 602L132.3 600.1L132.5 602.2L132.7 594.1L132.9 620.7L133.1 568.1L133.3 606.1L133.5 605.4L133.7 564.3L133.9 595.1L134.1 604.2L134.3 566L134.5 595L134.7 582.1L134.9 612.4L135.1 636.1L135.3 598.7L135.5 572.8L135.7 606.8L135.9 590.5L136.1 584.4L136.3 593.8L136.5 596.4L136.7 580.6L136.9 588.9L137.1 601.1L137.3 569.2L137.5 572.8L137.7 579.5L137.9 571.1L138.1 633.8L138.3 579.6L138.5 585.8L138.7 625.9L138.9 549.7L139.1 583.4L139.3 600.4L139.5 600.9L139.7 588.1L139.9 589.8L140.1 615.1L140.3 589.4L140.5 574.8L140.7 574.8L140.9 571.5L141.1 607.8L141.3 598.7L141.5 579.8L141.7 600.8L141.9 587.8L142.1 608.2L142.3 579.4L142.5 586.9L142.7 576.2L142.9 588.6L143.1 607.8L143.3 618.4L143.5 594.1L143.7 604.5L143.9 618.9L144.1 599.7L144.3 573.1L144.5 564.4L144.7 575.4L144.9 567.9L145.1 604.5L145.3 601.9L145.5 615.4L145.7 607.9L145.9 558.5L146.1 579.1L146.3 576.2L146.5 542.5L146.7 559.1L146.9 614.3L147.1 578.3L147.3 607.3L147.5 570.3L147.7 623.5L147.9 606.9L148.1 610.1L148.3 558.3L148.5 632.1L148.7 577.2L148.9 577.4L149.1 594.6L149.3 580.2L149.5 547.3L149.7 592.6L149.9 603.5L150.1 572.4L150.3 581.9L150.5 616.2L150.7 587.8L150.9 583.6L151.1 608.8L151.3 603.2L151.5 596.5L151.7 606.8L151.9 574.7L152.1 579.8L152.3 629L152.5 595L152.7 584L152.9 613L153.1 592.1L153.3 579.8L153.5 615.4L153.7 586.9L153.9 626.9L154.1 571L154.3 604.4L154.5 621.8L154.7 630.2L154.9 625.1L155.1 567.4L155.3 607.4L155.5 603L155.7 601.8L155.9 625.4L156.1 583.3L156.3 646L156.5 579.7L156.7 610.5L156.9 595.4L157.1 591.1L157.3 580.5L157.5 620.9L157.7 587.7L157.9 604.5L158.1 610.6L158.3 614.2L158.5 584.7L158.7 593.1L158.9 574.6L159.1 579.9L159.3 635.3L159.5 599.4L159.7 577.9L159.9 614.7L160.1 630.8L160.3 644.4L160.5 562.6L160.7 617.5L160.9 594.5L161.1 617L161.3 588.8L161.5 567.7L161.7 629.8L161.9 602.7L162.1 614.4L162.3 634.2L162.5 614.5L162.7 597.5L162.9 576L163.1 577.1L163.3 603.5L163.5 635.4L163.7 589.9L163.9 602L164.1 602.7L164.3 627.2L164.5 611.6L164.7 572.1L164.9 579.2L165.1 578.7L165.3 585.6L165.5 603.4L165.7 595.6L165.9 593.6L166.1 589.1L166.3 602.5L166.5 611.9L166.7 574.8L166.9 606.6L167.1 586.6L167.3 608.3L167.5 591.2L167.7 591.8L167.9 584.7L168.1 584.6L168.3 616.5L168.5 625.6L168.7 600.2L168.9 566.1L169.1 613.8L169.3 617.5L169.5 559.6L169.7 637.9L169.9 620.4L170.1 614.5L170.3 614.7L170.5 609.7L170.7 574.2L170.9 591.5L171.1 594.1L171.3 631.6L171.5 585.4L171.7 598.2L171.9 599.6L172.1 587.4L172.3 597L172.5 603L172.7 593.8L172.9 615.5L173.1 620L173.3 628.9L173.5 582.8L173.7 612.3L173.9 595.4L174.1 577.3L174.3 564.4L174.5 607.3L174.7 598.7L174.9 601.7L175.1 629.4L175.3 612.5L175.5 547.7L175.7 601.5L175.9 565.9L176.1 585.2L176.3 564.8L176.5 570.6L176.7 588.5L176.9 614L177.1 561.5L177.3 575.4L177.5 579.7L177.7 572.1L177.9 603.6L178.1 585L178.3 586.7L178.5 614.9L178.7 610.3L178.9 591.9L179.1 634.7L179.3 579.6L179.5 579.4L179.7 595.3L179.9 588.7L180.1 630.1L180.3 592.3L180.5 580.4L180.7 583.8L180.9 574.5L181.1 592.3L181.3 551.4L181.5 580.7L181.7 574.5L181.9 570.5L182.1 607.9L182.3 616.3L182.5 580L182.7 618.7L182.9 606L183.1 576.2L183.3 617.8L183.5 618.2L183.7 625.9L183.9 623.9L184.1 568L184.3 592L184.5 582L184.7 636.8L184.9 646.4L185.1 623.1L185.3 580.8L185.5 576.9L185.7 635.5L185.9 629.3L186.1 581.4L186.3 586.7L186.5 580.1L186.7 573.7L186.9 605.7L187.1 584.9L187.3 594.7L187.5 569L187.7 603.2L187.9 637.8L188.1 578.7L188.3 567.2L188.5 580.8L188.7 604.3L188.9 616.2L189.1 578.6L189.3 606.5L189.5 583.3L189.7 576L189.9 593.1L190.1 630L190.3 583.8L190.5 614.2L190.7 625L190.9 595.1L191.1 591.2L191.3 596.3L191.5 583.7L191.7 633.3L191.9 584.7L192.1 564.6L192.3 599.1L192.5 608.9L192.7 602.6L192.9 573.8L193.1 598.6L193.3 609L193.5 626.8L193.7 567.7L193.9 567.3L194.1 594.3L194.3 553.8L194.5 600.3L194.7 577.9L194.9 617.4L195.1 613.2L195.3 597.2L195.5 591L195.7 589.7L195.9 618.1L196.1 609.1L196.3 598.5L196.6 600L196.8 598.3L197 576.3L197.2 568.9L197.4 627.4L197.6 567.9L197.8 590.5L198 587.1L198.2 585.4L198.4 572.3L198.6 575.8L198.8 618.6L199 573.9L199.2 614.7L199.4 587.7L199.6 591.4L199.8 623.6L200 591.4L200.2 595.7L200.4 604.4L200.6 553.7L200.8 590.3L201 601L201.2 561.8L201.4 598.3L201.6 602.9L201.8 640.6L202 591L202.2 582.7L202.4 564.4L202.6 620.7L202.8 581.8L203 575.6L203.2 590.2L203.4 605.6L203.6 638.9L203.8 605.2L204 620.3L204.2 642.7L204.4 596.1L204.6 608.3L204.8 609.6L205 567.8L205.2 617.3L205.4 647.9L205.6 650.6L205.8 596.9L206 609.9L206.2 619.9L206.4 646.1L206.6 621L206.8 626.2L207 605.7L207.2 619L207.4 619L207.6 603.6L207.8 618.5L208 597.1L208.2 668.2L208.4 625.7L208.6 578.4L208.8 597.7L209 623.2L209.2 607.1L209.4 614.3L209.6 609.2L209.8 574.3L210 610.1L210.2 600L210.4 624.1L210.6 624.4L210.8 639.6L211 620.6L211.2 612.3L211.4 605.9L211.6 596.7L211.8 596.6L212 588.6L212.2 608.8L212.4 581.4L212.6 594.7L212.8 579.6L213 608L213.2 585L213.4 606.5L213.6 638.3L213.8 604.8L214 607.1L214.2 632.6L214.4 624.9L214.6 617.5L214.8 560.1L215 595.6L215.2 566.2L215.4 585L215.6 585.7L215.8 593.2L216 636.2L216.2 580.2L216.4 620.2L216.6 591.7L216.8 603.6L217 572.2L217.2 580.2L217.4 566.8L217.6 591.7L217.8 601.2L218 588.5L218.2 559.7L218.4 596.7L218.6 605.7L218.8 628.8L219 617.5L219.2 602.4L219.4 585.9L219.6 585.6L219.8 598.3L220 593.3L220.2 566.6L220.4 561.4L220.6 574.9L220.8 569.2L221 573.9L221.2 560.8L221.4 617.1L221.6 601.1L221.8 585.7L222 582.4L222.2 564.2L222.4 624.3L222.6 586.3L222.8 584.7L223 603.8L223.2 594.1L223.4 571.5L223.6 578.3L223.8 585.1L224 576.1L224.2 582.6L224.4 564.4L224.6 587.9L224.8 571.1L225 602L225.2 592.3L225.4 611.7L225.6 591.9L225.8 569.8L226 603.6L226.2 590.6L226.4 583.4L226.6 595.2L226.8 575.2L227 616L227.2 575.2L227.4 564.7L227.6 557.5L227.8 590.7L228 605.7L228.2 621.1L228.4 578.3L228.6 576.3L228.8 587.9L229 588.6L229.2 583L229.4 602.8L229.6 624.1L229.8 623.1L230 610.2L230.2 611.5L230.4 623.4L230.6 600.8L230.8 612L231 579.1L231.2 591.8L231.4 575.4L231.6 618.6L231.8 618.7L232 631.1L232.2 595L232.4 539.7L232.6 590.3L232.8 601.4L233 590L233.2 595.7L233.4 576.6L233.6 593.9L233.8 609.5L234 629.4L234.2 588.9L234.4 580.3L234.6 600.2L234.8 622.1L235 613.2L235.2 610L235.4 593L235.6 606.7L235.8 585.8L236 614.3L236.2 623.2L236.4 573.7L236.6 625.5L236.8 619.9L237 564.9L237.2 600L237.4 571.9L237.6 653.3L237.8 581.1L238 604.5L238.2 601.8L238.4 593.6L238.6 655.5L238.8 621.1L239 596.4L239.2 543.1L239.4 617.1L239.6 554.3L239.8 584L240 575.3L240.2 614.6L240.4 587.3L240.6 618.1L240.8 626.1L241 578.2L241.2 615.4L241.4 612.3L241.6 589.7L241.8 617.3L242 623.8L242.2 593.5L242.4 591.9L242.6 568.1L242.8 618.1L243 581.4L243.2 580.6L243.4 603.9L243.6 601.4L243.8 600L244 620.6L244.2 624.1L244.4 581.8L244.6 612.1L244.8 608L245 573.8L245.2 600.7L245.4 600.5L245.6 620.7L245.8 617.6L246 620.5L246.2 621.1L246.4 572.1L246.6 615.1L246.8 640.9L247 617.5L247.2 582.1L247.4 616L247.6 591.7L247.8 605.8L248 620L248.2 598.1L248.4 609.3L248.6 587.9L248.8 579.2L249 596.5L249.2 547.7L249.4 620.5L249.6 574.6L249.8 588.6L250 565.1L250.2 578L250.4 630.1L250.6 595.2L250.8 574L251 597.4L251.2 626.2L251.4 613.4L251.6 597L251.8 579.8L252 613.6L252.2 597.7L252.4 614.4L252.6 617.6L252.8 604.8L253 571.4L253.2 586.4L253.4 607.4L253.6 603.5L253.8 593.2L254 605.7L254.2 612.1L254.4 611.1L254.6 595.3L254.8 616.1L255 592.6L255.2 640.6L255.4 616.7L255.6 608L255.8 587.6L256 616.1L256.2 608.4L256.4 592.4L256.6 601.6L256.8 614.2L257 610.2L257.2 624.6L257.4 593.7L257.6 600L257.8 588.3L258 557.1L258.2 573.6L258.4 588.7L258.6 602.3L258.8 558.4L259 595.5L259.2 602.3L259.4 573.4L259.6 590.3L259.8 601.9L260 585.8L260.2 553.6L260.4 585.8L260.6 580.8L260.8 606L261 600.4L261.2 576.4L261.4 596L261.6 590.2L261.8 567.7L262 591.9L262.2 556.6L262.4 600.5L262.6 604.6L262.8 606.1L263 618.3L263.2 577.7L263.4 586.8L263.6 560.4L263.8 599.1L264 570L264.2 558.9L264.4 589.7L264.6 590.9L264.8 636.9L265 553.7L265.2 593L265.4 577.1L265.6 599.3L265.8 583L266 613L266.2 579.5L266.4 594L266.6 604.1L266.8 589.9L267 634.2L267.2 599.5L267.4 612L267.6 575.3L267.8 587.1L268 606.3L268.2 611.5L268.4 552L268.6 626.8L268.8 568.1L269 582.3L269.2 582.6L269.4 633.6L269.6 583.4L269.8 610.6L270 619.4L270.2 591.6L270.4 617L270.6 592.5L270.8 620.3L271 590.4L271.2 592.6L271.4 616.7L271.6 618.8L271.8 613.1L272 610L272.2 613.3L272.4 571L272.6 601.9L272.8 616.8L273 613.3L273.2 617.8L273.4 595.1L273.6 603.3L273.8 617.7L274 619.4L274.2 613.1L274.4 622.7L274.6 597.7L274.8 615.9L275 588.9L275.2 607.2L275.4 593.5L275.6 616.6L275.8 640.6L276 627.8L276.2 605.2L276.4 588.9L276.6 585.3L276.8 581.3L277 578.7L277.2 587.2L277.4 589.1L277.6 603.9L277.8 589.7L278 602.4L278.2 601.3L278.4 595.6L278.6 554.6L278.8 624.4L279 604.6L279.2 599.6L279.4 585.6L279.6 592.5L279.8 562.3L280 624.4L280.2 561.8L280.4 619.8L280.6 608.1L280.8 582.6L281 591.1L281.2 593L281.4 590.8L281.6 584.6L281.8 573.9L282 584.8L282.2 617.1L282.4 607.2L282.6 567.4L282.8 558.2L283 578.6L283.2 577.1L283.4 591L283.6 556.4L283.8 605.8L284 602.4L284.2 612.4L284.4 569L284.6 609.2L284.8 590.3L285 627.3L285.2 630.3L285.4 583.8L285.6 586.8L285.8 580L286 588.3L286.2 595.9L286.4 598.8L286.6 613.5L286.8 600.4L287 567.7L287.2 596.9L287.4 620.4L287.6 601.7L287.8 616.6L288 620.2L288.2 601.4L288.4 614.2L288.6 623.2L288.8 569.2L289 564.1L289.2 593.3L289.4 567.7L289.6 603.8L289.8 594.5L290 567.6L290.2 585.8L290.4 575.4L290.6 642.2L290.8 585.1L291 599.3L291.2 593.3L291.4 619.5L291.6 605.7L291.8 581.1L292 583.3L292.2 581.1L292.4 578.6L292.6 570.8L292.8 580.7L293 590.8L293.2 597.4L293.4 595.4L293.6 606.9L293.8 608.8L294 594.1L294.2 639.2L294.4 623.2L294.6 617.5L294.8 592.2L295 580.1L295.2 592.9L295.4 599.6L295.6 608.6L295.8 579.5L296 587.9L296.2 613.8L296.4 601.7L296.6 593.9L296.8 584.7L297 608.2L297.2 573.6L297.4 579.7L297.6 611.5L297.8 611.2L298 629.4L298.2 631.3L298.4 608.5L298.6 586.6L298.8 584.8L299 607L299.2 616.3L299.4 620.5L299.6 600L299.8 617.5L300 595.8L300.2 610.9L300.4 602.2L300.6 618.1L300.8 572.5L301 593.6L301.2 618.4L301.4 639.4L301.6 610.6L301.8 602.2L302 632.7L302.2 607.4L302.4 571.3L302.6 609.2L302.8 622.9L303 606.6L303.2 584.5L303.4 626.1L303.6 623L303.8 615.7L304 607.1L304.2 585.5L304.4 602.1L304.6 650.9L304.8 601.9L305 605L305.2 603.7L305.4 614.2L305.6 624.2L305.8 611.2L306 629.4L306.2 643.6L306.4 616.6L306.6 633.1L306.8 584.4L307 621L307.2 589.9L307.4 644.8L307.6 643.6L307.8 614.5L308 654.7L308.2 632.7L308.4 654.5L308.6 607.7L308.8 646.9L309 616.8L309.2 648.2L309.4 606.8L309.6 595.9L309.8 612.1L310 630.5L310.2 601.9L310.4 591.6L310.6 597.4L310.8 590.1L311 579.1L311.2 610.5L311.4 618.8L311.6 624.6L311.8 611.9L312 616.2L312.2 622.9L312.4 607.2L312.6 575.5L312.8 626.3L313 619.9L313.2 618.9L313.4 634.3L313.6 596.9L313.8 619.8L314 605L314.2 646.5L314.4 606.7L314.6 621.1L314.8 646.6L315 601.5L315.2 596.8L315.4 606.5L315.6 599L315.8 624.9L316 587.9L316.2 611.1L316.4 595.5L316.6 591.4L316.8 593.3L317 617.5L317.2 600.3L317.4 603.7L317.6 583.7L317.8 618.7L318 584.1L318.2 589.9L318.4 595.2L318.6 560.9L318.8 584.4L319 614.4L319.2 601.6L319.4 621.8L319.6 628.4L319.8 615L320 614.8L320.2 573.1L320.4 589.5L320.6 648.7L320.8 603.6L321 612.9L321.2 603.5L321.4 599.9L321.6 605.1L321.8 598.9L322 620.2L322.2 576L322.4 603L322.6 576.6L322.8 602.9L323 593.3L323.2 621.1L323.4 580.4L323.6 593L323.8 602.5L324 585L324.2 582.7L324.4 621.5L324.6 607L324.8 611.3L325 576.4L325.2 588.2L325.4 603.2L325.6 601.7L325.8 585.6L326 624.7L326.2 582.6L326.4 551L326.6 609.7L326.8 607.3L327 607.3L327.2 579.5L327.4 604.6L327.6 557.8L327.8 599.5L328 606L328.2 617.3L328.4 583.9L328.6 577.1L328.8 594L329 572.6L329.2 574.1L329.4 590.8L329.6 596.2L329.8 606.8L330 590L330.2 599.6L330.4 566.5L330.6 583.1L330.8 603.4L331 608.7L331.2 591.5L331.4 576.2L331.6 588.3L331.8 574L332 603.5L332.2 593.3L332.4 587.3L332.6 596.5L332.8 591.9L333 578.7L333.2 597.8L333.4 580L333.6 609.1L333.8 589.5L334 605.5L334.2 603.5L334.4 585.2L334.6 573.1L334.8 600.4L335 597.6L335.2 576.2L335.4 617.9L335.6 584.8L335.8 620.2L336 629.3L336.2 584.5L336.4 595.9L336.6 600L336.8 634.7L337 581.3L337.2 596.6L337.4 610.5L337.6 590.7L337.8 610.4L338 600.8L338.2 600.4L338.4 566.8L338.6 587.4L338.8 560.2L339 598.7L339.2 604.9L339.4 550.3L339.6 613.5L339.8 568.5L340 614.8L340.2 580.5L340.4 606.5L340.6 563.6L340.8 556.1L341 574.4L341.2 586.1L341.4 597.2L341.6 573.4L341.8 549.8L342 601.8L342.2 618.5L342.4 565.2L342.6 602.7L342.8 583.5L343 593.9L343.2 593.7L343.4 604.6L343.6 601.5L343.8 629.1L344 607.7L344.2 614.9L344.4 578L344.6 606L344.8 596.8L345 629.4L345.2 596.3L345.4 570.1L345.6 596.8L345.8 583.2L346 605.7L346.2 612L346.4 583L346.6 609.9L346.8 620.1L347 599.9L347.2 603.1L347.4 574.5L347.6 579L347.8 618.1L348 579.8L348.2 614.9L348.4 589.2L348.6 585.5L348.8 608L349 607.8L349.2 581.3L349.4 599.2L349.6 613L349.8 559.2L350 571.5L350.2 577.8L350.4 580.6L350.6 569.2L350.8 588.5L351 575.8L351.2 583.7L351.4 602L351.6 569.7L351.8 588.7L352 609.8L352.2 603.5L352.4 638.4L352.6 621.2L352.8 615L353 574.8L353.2 578.9L353.4 574L353.6 591L353.8 568.2L354 609.7L354.2 614.4L354.4 616.1L354.6 593L354.8 606.5L355 609.5L355.2 600.5L355.4 586.4L355.6 615.1L355.8 594.9L356 599.3L356.2 569.3L356.4 597.3L356.6 621.2L356.8 588.3L357 586.8L357.2 613.2L357.4 647.8L357.6 578L357.8 597.7L358 607.4L358.2 594.2L358.4 564.4L358.6 555.7L358.8 600.1L359 565.5L359.2 597.1L359.4 595.9L359.6 597.2L359.8 596.3L360 597.2L360.2 606.2L360.4 591.3L360.6 609.1L360.8 578.1L361 600L361.2 578.3L361.4 590.8L361.6 624.1L361.8 570.6L362 590.1L362.2 598.5L362.4 603.7L362.6 562.8L362.8 600.2L363 576.3L363.2 589.7L363.4 616.4L363.6 573.6L363.8 612L364 572.7L364.2 573.5L364.4 577.6L364.6 595.9L364.8 553.6L365 544.7L365.2 595.1L365.4 586.3L365.6 549.8L365.8 589.2L366 562.3L366.2 598.1L366.4 590.9L366.6 574.2L366.8 571.2L367 608.6L367.2 604L367.4 578L367.6 566.5L367.8 581.3L368 581.9L368.2 577.2L368.4 606.3L368.6 575.5L368.8 567.7L369 577L369.2 613.3L369.4 610.4L369.6 570.6L369.8 616.2L370 608.8L370.2 558.8L370.4 606.3L370.6 603.2L370.8 578L371 576.9L371.2 596.3L371.4 620.7L371.6 603.3L371.8 589.9L372 610.1L372.2 611.6L372.4 570.1L372.6 584.5L372.8 581.4L373 579.6L373.2 613.3L373.4 581.1L373.6 563.6L373.8 570.4L374 605.5L374.2 615.9L374.4 606.2L374.6 586.5L374.8 605.4L375 598.9L375.2 627.9L375.4 586.9L375.6 614.6L375.8 578.4L376 599.7L376.2 654.7L376.5 600.9L376.7 611.9L376.9 609.7L377.1 596.4L377.3 574.7L377.5 581.1L377.7 572.9L377.9 601.9L378.1 638.3L378.3 612.9L378.5 618.5L378.7 613.9L378.9 551.1L379.1 588.9L379.3 625.4L379.5 585.8L379.7 613.5L379.9 632.6L380.1 583.7L380.3 612.8L380.5 598.7L380.7 555.8L380.9 617.9L381.1 579.1L381.3 605.3L381.5 620L381.7 601.3L381.9 590L382.1 587.3L382.3 619.4L382.5 576.6L382.7 612.7L382.9 593.6L383.1 595.1L383.3 606.8L383.5 582.4L383.7 606.5L383.9 611.9L384.1 622.7L384.3 631.5L384.5 608.8L384.7 637.6L384.9 604.3L385.1 609.3L385.3 569.7L385.5 624L385.7 580.3L385.9 594L386.1 593.6L386.3 608.5L386.5 610.2L386.7 599.3L386.9 592.5L387.1 579.8L387.3 600.8L387.5 563.4L387.7 564.4L387.9 645.8L388.1 596.7L388.3 599.6L388.5 613.4L388.7 643.5L388.9 625.7L389.1 598.9L389.3 584.5L389.5 589.2L389.7 586.2L389.9 598.3L390.1 574.7L390.3 587.2L390.5 577.3L390.7 602.5L390.9 612.1L391.1 626.9L391.3 566.6L391.5 605.1L391.7 613.1L391.9 635.1L392.1 587.8L392.3 628.9L392.5 604.2L392.7 600L392.9 575.9L393.1 613.8L393.3 636.4L393.5 584.3L393.7 596.9L393.9 613.8L394.1 601.6L394.3 564.4L394.5 599.3L394.7 614.9L394.9 606.9L395.1 596.3L395.3 599.6L395.5 597L395.7 593.3L395.9 619.9L396.1 588.1L396.3 583.7L396.5 594.3L396.7 609.4L396.9 608.4L397.1 600.1L397.3 599.9L397.5 632.1L397.7 604.5L397.9 579L398.1 608.7L398.3 611.6L398.5 589.8L398.7 600.6L398.9 616L399.1 598.2L399.3 566.9L399.5 562.8L399.7 594.4L399.9 601.2L400.1 576.3L400.3 590L400.5 586.5L400.7 594.3L400.9 613.9L401.1 615.5L401.3 591.5L401.5 614.7L401.7 582L401.9 580.4L402.1 569.6L402.3 595.9L402.5 563L402.7 577.4L402.9 593.8L403.1 584L403.3 605.8L403.5 654L403.7 575.3L403.9 586.6L404.1 564L404.3 586.4L404.5 598.8L404.7 604.7L404.9 607L405.1 591.7L405.3 628.6L405.5 615.2L405.7 577.9L405.9 632.2L406.1 623.4L406.3 606.2L406.5 604.2L406.7 596.6L406.9 583.4L407.1 595.9L407.3 591.8L407.5 614.8L407.7 602.1L407.9 613.8L408.1 599.9L408.3 584.5L408.5 585L408.7 630.8L408.9 618.2L409.1 561.1L409.3 640L409.5 601.7L409.7 626L409.9 608.2L410.1 614.8L410.3 601.8L410.5 624.1L410.7 583.3L410.9 561.4L411.1 649.1L411.3 618.3L411.5 631.8L411.7 602.2L411.9 578.9L412.1 579.1L412.3 579.8L412.5 599.1L412.7 612.5L412.9 579.6L413.1 611.9L413.3 615.3L413.5 600.1L413.7 626.1L413.9 607.7L414.1 624.1L414.3 606.2L414.5 590.2L414.7 617.9L414.9 596.3L415.1 586L415.3 620.4L415.5 610.1L415.7 618.6L415.9 579L416.1 622.3L416.3 608.6L416.5 635.8L416.7 624.7L416.9 594.2L417.1 610.2L417.3 590.5L417.5 603L417.7 553.4L417.9 606.1L418.1 582.9L418.3 615.4L418.5 611.9L418.7 633.5L418.9 552.6L419.1 639.6L419.3 597.1L419.5 609.4L419.7 588.6L419.9 616.2L420.1 570.3L420.3 583.2L420.5 592.7L420.7 591.7L420.9 579.8L421.1 591.7L421.3 571.3L421.5 587L421.7 605.3L421.9 595.6L422.1 599.3L422.3 580.1L422.5 607.7L422.7 601.4L422.9 627.1L423.1 589.2L423.3 596L423.5 611.4L423.7 563.6L423.9 593.1L424.1 613.2L424.3 568.6L424.5 594.5L424.7 651.8L424.9 589.1L425.1 598.1L425.3 597.2L425.5 603.2L425.7 615.8L425.9 599.1L426.1 633.9L426.3 604.8L426.5 583L426.7 577.3L426.9 601.5L427.1 551L427.3 579.6L427.5 594.6L427.7 586.3L427.9 606L428.1 578.5L428.3 612.3L428.5 605.7L428.7 612L428.9 604.3L429.1 594.2L429.3 554.7L429.5 587.2L429.7 571L429.9 593L430.1 576.3L430.3 614.2L430.5 616.3L430.7 560.7L430.9 589.7L431.1 627.9L431.3 587.7L431.5 603.2L431.7 603.6L431.9 580.8L432.1 617.8L432.3 570.4L432.5 589.2L432.7 603.7L432.9 619.8L433.1 560.6L433.3 601L433.5 620.4L433.7 596.8L433.9 584.2L434.1 581.2L434.3 564.8L434.5 581.7L434.7 592.8L434.9 548.8L435.1 553.8L435.3 615.2L435.5 576.8L435.7 607.4L435.9 567.9L436.1 613.7L436.3 588.2L436.5 561.8L436.7 584.1L436.9 569.1L437.1 603.6L437.3 614.2L437.5 612.8L437.7 578.1L437.9 601.7L438.1 561.5L438.3 596.1L438.5 565.3L438.7 586.1L438.9 615.3L439.1 595.5L439.3 588L439.5 587.7L439.7 599L439.9 576.4L440.1 580L440.3 581.4L440.5 615.1L440.7 639.7L440.9 586.6L441.1 611.1L441.3 602.6L441.5 595.5L441.7 585.6L441.9 626.7L442.1 597.3L442.3 570.3L442.5 625.5L442.7 605.6L442.9 575L443.1 588.3L443.3 592.2L443.5 600.4L443.7 630.1L443.9 600.6L444.1 621.1L444.3 600.7L444.5 616.8L444.7 623.3L444.9 600.5L445.1 580.9L445.3 611.5L445.5 598.6L445.7 587.8L445.9 590.5L446.1 623.7L446.3 610.8L446.5 594.7L446.7 601.8L446.9 569.2L447.1 592.4L447.3 621.9L447.5 593.2L447.7 584.9L447.9 592.9L448.1 594.6L448.3 630.8L448.5 605.6L448.7 593.7L448.9 611.3L449.1 606.9L449.3 588.4L449.5 607.3L449.7 611.8L449.9 599.2L450.1 600.3L450.3 583.7L450.5 602.5L450.7 620.3L450.9 589.2L451.1 614.4L451.3 586.7L451.5 612.6L451.7 590L451.9 592.8L452.1 600.3L452.3 619.8L452.5 603L452.7 568.2L452.9 590.7L453.1 571.5L453.3 591.7L453.5 593.3L453.7 613.2L453.9 588.7L454.1 612L454.3 611.3L454.5 574.3L454.7 611.4L454.9 547.8L455.1 591L455.3 602.4L455.5 569.1L455.7 617.1L455.9 600.1L456.1 604.4L456.3 587L456.5 570.2L456.7 594.5L456.9 625.1L457.1 626.6L457.3 612.1L457.5 588.6L457.7 602L457.9 599.4L458.1 610.3L458.3 577.6L458.5 623L458.7 564.4L458.9 578.6L459.1 588.8L459.3 602.6L459.5 606.9L459.7 600.3L459.9 611.3L460.1 611.8L460.3 622.4L460.5 594.7L460.7 607.3L460.9 599.7L461.1 621L461.3 630.7L461.5 626.1L461.7 605.1L461.9 631.3L462.1 597.2L462.3 626.5L462.5 618.3L462.7 605.9L462.9 631.9L463.1 645.1L463.3 580.5L463.5 603.7L463.7 611.9L463.9 569.1L464.1 557.4L464.3 596.8L464.5 590.8L464.7 548.3L464.9 612.3L465.1 580L465.3 584.8L465.5 613L465.7 618.8L465.9 613.5L466.1 596.4L466.3 593.7" fill="none" stroke="#ff2b05" stroke-width="1.05" stroke-linejoin="round"/>
<path d="M55 835.8L75.4 835.8L76 792.6L77.6 790.6L78.4 701L78.8 537.7M101.9 537.7L102.6 697L103.2 754.8L103.8 705L104.3 712.9L104.8 677.1L105.4 643.2L105.9 537.7L106.4 617.4M466.6 637.3L466.8 835.4" fill="none" stroke="#ff2b05" stroke-width="1.1" stroke-linejoin="round" opacity=".6"/>
<path d="M467.2 833.5V835.8M467.7 830.9V835.8M468.2 832.9V835.8M468.7 833.1V835.8M469.2 828V835.8M469.7 831.4V835.8M470.2 831.9V835.8M470.7 831.1V835.8M471.2 830.6V835.8M471.7 832.6V835.8M472.2 828V835.8M472.7 826.2V835.8M473.2 831.3V835.8M473.7 832.8V835.8M474.2 833.2V835.8M474.7 827.8V835.8M475.2 829.1V835.8M475.7 829.1V835.8M476.2 829.5V835.8M476.7 833.3V835.8M477.2 831.5V835.8M477.7 833.9V835.8M478.2 832.4V835.8M478.7 833.7V835.8M479.2 828.8V835.8M479.7 832.1V835.8M480.2 832.2V835.8M480.7 831.5V835.8M481.2 832.6V835.8M481.7 831.8V835.8M482.2 829.6V835.8M482.7 832.8V835.8M483.2 831.7V835.8M483.7 829.1V835.8M484.2 833.2V835.8M484.7 829.7V835.8M485.2 830V835.8M485.7 819.8V835.8M486.2 832.3V835.8M486.7 833.3V835.8M487.2 833.5V835.8M487.7 831.6V835.8M488.2 833.9V835.8M488.7 829.3V835.8M489.2 833.1V835.8" fill="none" stroke="#ff2b05" stroke-width="1"/>
<path d="M86.6 785.4V791.6M87.1 779.3V792.4M87.6 787.6V795.3M88.1 783.2V793.1M88.6 788.9V793.5M89.1 789V793.9M89.6 787V794.1M90.1 787.5V794.8M90.6 785V793.2M91.1 785.7V794M91.6 787.4V794M92.1 786.8V794.7M92.6 786.6V792.4M93.1 787.5V795.8M93.6 786.8V793.3M94.1 785V796.5M94.6 786.1V791.7M95.1 786.1V793.3M95.6 782V796.1M96.1 786.4V800.4M96.6 786.1V794.5M97.1 789.1V794.7M97.6 789.5V793.5M98.1 788V795.6M98.6 789.1V795.4M99.1 789.3V794.8M99.6 790.3V796.2M100.1 788.3V796.1M100.6 791V799.4M101.1 786.5V795.8M101.6 788V797.5M102.1 787.3V796.3M102.6 789.9V799.3M103.1 791.2V796.7M103.6 786.6V795.6M104.1 786.1V796.9M104.6 789.7V797.8M105.1 789.5V797.5M105.6 789.2V796M106.1 790.8V796.7M106.6 789.3V797.5M107.1 790.1V798.3M107.6 788.6V797.7M108.1 787.7V797.2M108.6 786.9V794.6M109.1 789V795.8M109.6 788V796.1M110.1 789.7V796.5M110.6 789.7V796.4M111.1 789.4V798.6M111.6 786.5V797.1M112.1 786.8V793.7M112.6 785.7V795.5M113.1 787V795M113.6 787.7V795.1M114.2 787.6V794.3M114.7 785.1V796M115.2 788V793.4M115.7 785.1V793.9M116.2 788.2V796.1M116.7 784.2V793.6M117.2 786.1V796.6M117.7 788.1V794.9M118.2 788.3V795.8M118.7 786.9V794.4M119.2 785.5V793M119.7 783.6V793.7M120.2 787.6V792.4M120.7 787.5V792.7M121.2 783.4V794.1M121.7 788.3V793.7M122.2 786.2V793.6M122.7 784.7V792.8M123.2 787V792.9M123.7 788.6V792.7M124.2 781.5V793.9M124.7 782V792.3M125.2 786V792.1M125.7 784.3V792.1M126.2 786.2V794.8M126.7 787.6V796.6M127.2 786.2V793.4M127.7 786.7V791.7M128.2 785.5V793.7M128.7 785.6V793.2M129.2 783V792M129.7 787.1V793.3M130.2 787.7V794.6M130.7 780.9V794.3M131.2 787.8V792.5M131.7 781.2V794.5M132.2 786.4V793.8M132.7 788.3V796.2M133.2 787.6V797M133.7 788V793.7M134.2 789.6V795.1M134.7 789.6V796.5M135.2 786.9V794.7M135.7 787.4V794.8M136.2 788.9V796.1M136.7 788.9V794.6M137.2 789.4V796.1M137.7 788.4V796.1M138.2 788.3V796.8M138.7 788.5V796.6M139.2 785.4V794.7M139.7 788V794.6M140.2 786.6V793.4M140.7 787.1V793.8M141.2 784V794.4M141.7 788.1V793.8M142.2 787.1V793.5M142.7 783V796M143.2 787.2V792.4M143.7 787.3V793.1M144.2 783.6V792.2M144.7 786.5V794.6M145.2 785.7V794.8M145.7 787.4V793.6M146.2 783.9V796.1M146.7 786.5V794.7M147.2 783.3V792.8M147.7 785.1V794.3M148.2 783.7V794.9M148.7 786.5V793.6M149.2 784.4V794.3M149.7 785.1V794.4M150.2 787.5V792M150.7 787.3V792.1M151.2 786.3V795.7M151.7 784.3V793.7M152.2 788.4V795.6M152.7 785V793.1M153.2 785.1V792.4M153.7 784.5V794.8M154.2 784.3V796.4M154.7 787.6V793.4M155.2 786.3V795.1M155.7 789.3V793.1M156.2 788.2V795.7M156.7 787.1V794.9M157.2 788.5V795.8M157.7 786.4V795.6M158.2 786V795.7M158.7 787.2V793.1M159.2 786V796M159.7 786.5V795.8M160.2 786.8V792.5M160.7 786.8V794.3M161.2 786.7V793.1M161.7 785.2V792.9M162.2 784.7V793.7M162.7 780.4V792.8M163.2 786V791.2M163.7 785.6V792.2M164.2 785.5V792.4M164.7 784.7V792M165.2 782.6V791.1M165.7 785V793.1M166.2 783.1V791.7M166.7 783.7V791.1M167.2 785.3V792M167.7 781V790.3M168.3 784.1V790.5M168.8 785.5V791.3M169.3 782.4V791.6M169.8 784V793.4M170.3 783.1V795.1M170.8 783.3V793M171.3 785.6V793M171.8 784.3V791.7M172.3 786.4V792.7M172.8 785.5V792.3M173.3 786.7V795.3M173.8 785.9V792.5M174.3 786.8V793.5M174.8 787.8V792.9M175.3 786.1V795.8M175.8 788.2V793.4M176.3 785.2V793.4M176.8 785.9V794.5M177.3 789.9V794.9M177.8 789.4V797.1M178.3 788V798.2M178.8 791V796.6M179.3 788.1V795.4M179.8 787.1V796.1M180.3 791V795.1M180.8 788.1V796.8M181.3 788.4V794.6M181.8 788.8V795.6M182.3 788.9V797M182.8 787.9V794.9M183.3 784.9V793.5M183.8 788.8V796.8M184.3 788.3V793.4M184.8 789.4V795.2M185.3 789.8V794.9M185.8 784.7V797.5M186.3 789.1V796.5M186.8 787V796M187.3 790.3V794.3M187.8 788V794.1M188.3 788.1V794.9M188.8 788.3V796.5M189.3 786.8V794.1M189.8 786.8V797M190.3 789.4V795.4M190.8 788.7V794.3M191.3 789.5V794.1M191.8 785.4V793.5M192.3 788.8V792.9M192.8 787.7V793.3M193.3 785.1V792.9M193.8 784.5V793.5M194.3 785.3V794.3M194.8 786V794.2M195.3 785.9V792.4M195.8 784.8V791.4M196.3 782.6V793.4M196.8 784.5V794.7M197.3 784.6V792.9M197.8 784.6V791.9M198.3 782.3V790.5M198.8 782.6V793M199.3 785.4V791.2M199.8 784.9V794.1M200.3 786.5V794.4M200.8 785V796.9M201.3 782.2V793.3M201.8 784.7V793.4M202.3 785.3V794.4M202.8 785.7V795.2M203.3 783.5V793.5M203.8 787.8V793.2M204.3 784.5V792.6M204.8 787V795.7M205.3 784.8V794.6M205.8 787.9V794.6M206.3 786.1V793.8M206.8 784.5V794.6M207.3 786.5V795.7M207.8 787.9V795.1M208.3 783.5V796.1M208.8 787V796.6M209.3 788.8V796.3M209.8 788.7V798.4M210.3 790.1V795.4M210.8 787.1V795.3M211.3 787.3V797.2M211.8 783.3V794.5M212.3 787.5V794.1M212.8 784.3V792.2M213.3 786.7V791.6M213.8 785.9V793.1M214.3 786.2V791M214.8 781.3V791.7M215.3 785V790.3M215.8 784.8V794.6M216.3 783.4V791M216.8 783.7V791.7M217.3 779.7V791.2M217.8 782.8V790.5M218.3 782.5V789.7M218.8 784.1V789M219.3 783.5V792.2M219.8 782.4V788.8M220.3 785V789.1M220.8 783.5V788.9M221.3 782.4V789.4M221.8 783.9V790.1M222.4 784.6V794.2M222.9 785.7V793.8M223.4 785.1V791.9M223.9 785.7V790.6M224.4 785.7V790.7M224.9 787.4V794.7M225.4 787.5V793.6M225.9 787.3V794.4M226.4 787V794M226.9 785.7V793.6M227.4 786.9V794.1M227.9 788.9V794.7M228.4 789.9V794.4M228.9 789.7V796M229.4 790.2V799.6M229.9 789.2V795.4M230.4 788.5V796.3M230.9 790.1V797.1M231.4 790.4V797.1M231.9 790V794.4M232.4 788.3V795.4M232.9 786.7V794.8M233.4 789.7V795.7M233.9 787.6V796M234.4 788.2V794.3M234.9 789.2V795.6M235.4 786.6V793.2M235.9 786.1V793.2M236.4 787.3V799.9M236.9 786.7V793M237.4 788.3V793.4M237.9 784.6V797.4M238.4 787.6V795M238.9 785V792.5M239.4 784.3V794.3M239.9 782.8V792.3M240.4 787.8V795.5M240.9 785.3V795.3M241.4 785.4V792.5M241.9 784.4V793.2M242.4 788V793.1M242.9 785.4V792.6M243.4 782.4V793.8M243.9 784V793.5M244.4 783.2V792.7M244.9 786.3V792.4M245.4 785.5V794.9M245.9 785.5V792.5M246.4 787V791.4M246.9 784.1V792.4M247.4 787V795.3M247.9 784.9V793.9M248.4 787.4V792.9M248.9 783.7V792.4M249.4 787.5V791.5M249.9 785.3V795.2M250.4 785.8V793.5M250.9 786.5V794.2M251.4 783.8V795.1M251.9 784.2V794.2M252.4 786V796.5M252.9 787.8V793.7M253.4 786.3V792.4M253.9 787.9V794.2M254.4 785V792.6M254.9 785.5V793.4M255.4 784.9V791.2M255.9 784V792.5M256.4 783.2V798M256.9 785.4V795.1M257.4 785.8V792.1M257.9 784.6V791.3M258.4 786.8V792.2M258.9 787.3V793.2M259.4 786.7V791.7M259.9 787.9V793.7M260.4 787.1V799.3M260.9 787.4V797.5M261.4 782.6V793.5M261.9 786.6V795.5M262.4 789.8V795.2M262.9 790V796.5M263.4 789.1V795.3M263.9 788.5V794.8M264.4 787.4V795.7M264.9 791.3V797.9M265.4 790V799.1M265.9 786.2V795.7M266.4 788.9V797.1M266.9 790V794.8M267.4 790.5V797.7M267.9 783.8V794.1M268.4 787.8V798.5M268.9 789.5V794.9M269.4 787.8V793.2M269.9 789.4V797.3M270.4 788V794.2M270.9 789.1V796.5M271.4 788.3V795M271.9 787V798M272.4 787.8V797.7M272.9 788.2V794.6M273.4 787.3V797.1M273.9 788.1V796.5M274.4 788.3V798.2M274.9 788V796.5M275.4 785V793.7M275.9 788.4V797.8M276.5 788.6V795.5M277 784.1V794.4M277.5 787.8V796.8M278 782.7V793.8M278.5 789.6V794.6M279 788.9V795.1M279.5 785.4V794.3M280 785.8V793.8M280.5 787.2V793.2M281 787.8V792.7M281.5 788.4V793.7M282 786V795.2M282.5 784.8V792.8M283 787.2V796.9M283.5 787.6V792.2M284 787.3V793.5M284.5 783V792.5M285 786.3V791.1M285.5 783.5V792M286 786.4V792.4M286.5 786V794.7M287 784.5V791.5M287.5 784.2V791.4M288 786.2V794.3M288.5 787.4V793.2M289 787V793.1M289.5 787.7V792.4M290 784.7V796.9M290.5 788V793.6M291 788.8V794.5M291.5 787.9V796M292 785.9V797.6M292.5 789.6V795.2M293 790.2V794.4M293.5 789.2V794.9M294 789.8V796.4M294.5 789.9V797.1M295 789.2V797.5M295.5 790.1V794.5M296 790.5V796.7M296.5 787.3V800.3M297 786V795.5M297.5 783.9V793.6M298 786.5V793.4M298.5 786.8V796.7M299 786.8V794.2M299.5 787.5V797M300 783V791.4M300.5 785.7V793.9M301 784.9V795.6M301.5 786.5V790.9M302 785.1V794.2M302.5 786V792.6M303 783.6V790.4M303.5 782.8V791.1M304 785.1V792.4M304.5 781.7V790.4M305 783.7V792.8M305.5 785.8V792.7M306 785.3V797.8M306.5 786.4V792.2M307 785.7V793.5M307.5 786.1V794.2M308 785.8V792.6M308.5 787.3V795.2M309 785.3V793.8M309.5 787.2V796M310 784.7V797.6M310.5 786.1V793.8M311 789.1V795.6M311.5 787.8V793M312 785.7V795.2M312.5 786.4V795M313 788V795.7M313.5 787.5V793M314 787.4V792.3M314.5 787.6V796M315 787V791.7M315.5 786.2V792.1M316 785.6V792.1M316.5 787.1V791M317 784.4V791.7M317.5 787V791M318 784.8V792M318.5 785.3V794M319 786.6V792.4M319.5 784.6V792.1M320 782.7V794.3M320.5 787.4V793.1M321 786.4V791.6M321.5 782.1V791.7M322 787V793.2M322.5 787.5V791.4M323 785.9V794.7M323.5 784.5V794.6M324 783.7V791.8M324.5 787.1V796.5M325 787.5V794M325.5 786.5V793.2M326 785.8V791.6M326.5 786.8V795M327 786V791.6M327.5 784.6V791.5M328 787V794.2M328.5 786.1V793.7M329 786.8V790.8M329.5 785.2V793.5M330 784.5V792.6M330.5 786.3V794.9M331.1 785.8V792M331.6 783.8V791.6M332.1 786.4V794M332.6 787.5V797.5M333.1 787V795.4M333.6 785.6V795.9M334.1 784.2V793.8M334.6 786.4V798.4M335.1 785.1V794.7M335.6 787.3V797.2M336.1 788.4V794.9M336.6 783.7V797.9M337.1 788.3V794.7M337.6 788V795.2M338.1 787.9V795.3M338.6 788.2V792.9M339.1 787.7V792.8M339.6 785.5V797.4M340.1 787.5V792.8M340.6 787.1V795.8M341.1 786.1V792.7M341.6 784.5V791.3M342.1 783.3V790.6M342.6 784.7V792.1M343.1 786V795.9M343.6 785.3V795M344.1 786.6V794.3M344.6 784.5V792.9M345.1 784.6V790.7M345.6 783.9V793.9M346.1 786.7V794.7M346.6 783.5V791.1M347.1 784.7V793.4M347.6 783.6V792M348.1 784.2V793.3M348.6 782.3V791.8M349.1 786.8V792.7M349.6 786.4V794.2M350.1 781.9V791.2M350.6 786.7V794.4M351.1 787V793.7M351.6 787.4V794.9M352.1 784.1V792.2M352.6 787.6V793M353.1 787.2V794.6M353.6 785.1V793.2M354.1 786.5V794.7M354.6 786.7V793.5M355.1 786.5V795.3M355.6 780.3V794.6M356.1 788.3V795.8M356.6 786.2V792.4M357.1 787.7V794.7M357.6 786.2V793.1M358.1 781.6V792.4M358.6 786.4V791M359.1 784.1V790.9M359.6 783.5V793.7M360.1 785V792.7M360.6 785.7V793.7M361.1 785.2V792.4M361.6 785.4V793.6M362.1 785.6V792.3M362.6 784.2V791M363.1 782.8V790.5M363.6 783.9V793.2M364.1 781V793.7M364.6 786.5V794.8M365.1 785.5V794M365.6 785.3V791.9M366.1 786.2V796.2M366.6 783.1V794.3M367.1 786.9V796.7M367.6 785.2V791.8M368.1 784.3V795M368.6 785.2V795.1M369.1 786.4V795.1M369.6 786V792.4M370.1 787.9V794.9M370.6 784.5V792.1M371.1 786.1V797.2M371.6 786.8V793.8M372.1 788.5V792.4M372.6 786.1V794.7M373.1 787.9V796.5M373.6 785.3V793M374.1 783.7V794.1M374.6 789.2V794M375.1 788.6V795.8M375.6 788.4V797.6M376.1 789.5V796.1M376.6 790V796.4M377.1 788.8V797.6M377.6 790.2V797.3M378.1 787.8V796.2M378.6 787.4V796.3M379.1 786.4V798.6M379.6 789.2V795.9M380.1 787.5V794.5M380.6 787.2V796.1M381.1 786.4V795.9M381.6 788.1V798M382.1 788.2V799.6M382.6 787.2V795.3M383.1 783.6V793.3M383.6 786.3V796.7M384.1 787.7V793.9M384.6 785.4V796M385.2 788.5V794.8M385.7 785.5V793.7M386.2 787.8V795.6M386.7 787.9V793.3M387.2 788.7V798M387.7 786.6V794.5M388.2 788.6V797.6M388.7 787.8V794.8M389.2 783.9V792M389.7 786.6V793.6M390.2 785.9V794.3M390.7 784.8V791.1M391.2 784.7V791.2M391.7 785.2V791.4M392.2 783.9V790.3M392.7 785.3V791.4M393.2 785.7V792.5M393.7 785.1V790.9M394.2 784.9V790M394.7 785.1V791.5M395.2 784.6V792.3M395.7 786.1V791.8M396.2 785.8V791.9M396.7 787.6V791.8M397.2 787.5V796M397.7 786V793.2M398.2 785.8V793.7M398.7 781.2V794.1M399.2 787.8V795.6M399.7 785.7V792.5M400.2 784.9V793.4M400.7 787.8V795.6M401.2 787.7V797.7M401.7 788.2V798.8M402.2 788.4V795.6M402.7 786.8V798.8M403.2 788V800.3M403.7 785.1V793.7M404.2 783.9V795.4M404.7 786.5V794.2M405.2 788.3V792.9M405.7 785.7V793.2M406.2 788V795.1M406.7 785.2V793.7M407.2 787.8V793.8M407.7 785.4V793.9M408.2 783.2V796.5M408.7 787.3V797M409.2 788.2V795.5M409.7 782.8V794.5M410.2 787.8V794M410.7 785.2V792.3M411.2 785.4V794.3M411.7 785.6V792.7M412.2 786V797.6M412.7 787V798M413.2 787.9V794.9M413.7 788.3V799M414.2 784.3V794.8M414.7 782.9V792.7M415.2 786.4V793.9M415.7 784.2V791.9M416.2 786.8V794.2M416.7 786.8V792.2M417.2 787V793.3M417.7 787.8V792M418.2 783.2V792.3M418.7 786V794.3M419.2 787.3V793.6M419.7 782.2V796.8M420.2 789.2V794.1M420.7 787.7V793.4M421.2 787.8V794.1M421.7 789.5V793.5M422.2 787.4V794.6M422.7 789.5V793.9M423.2 789.7V794.7M423.7 788.9V793.9M424.2 787.6V796.2M424.7 786.6V794.9M425.2 787.8V794.7M425.7 788.9V794.5M426.2 787.7V794.3M426.7 789.3V797.3M427.2 786.7V799.2M427.7 785.5V795M428.2 787.1V797.3M428.7 788V797.3M429.2 789.8V796.7M429.7 789.8V795M430.2 790.4V796.3M430.7 789V797.2M431.2 790.7V797.8M431.7 790.8V795.5M432.2 788V798.2M432.7 790.8V797.2M433.2 789.7V797.1M433.7 789.1V794.3M434.2 787.5V796.2M434.7 789.1V796.1M435.2 786.5V798.8M435.7 790.1V795.3M436.2 783.9V796.8M436.7 786.8V798.3M437.2 789.3V793.9M437.7 788.1V795M438.2 788.2V794.9M438.7 789.1V793.9M439.3 788.1V795.4M439.8 784.8V794.8M440.3 787.9V795.6M440.8 783.3V794M441.3 787.5V792.4M441.8 786.8V793.4M442.3 787.5V795.8M442.8 785.4V792.9M443.3 787.3V792.9M443.8 787.4V794.6M444.3 785.8V793.9M444.8 786V794M445.3 788.6V792.5M445.8 788.8V794.6M446.3 789V793M446.8 783V793.1M447.3 788.8V794.5M447.8 787.7V796.2M448.3 784.6V794.6M448.8 788V796M449.3 789.9V794.6M449.8 789.5V794.2M450.3 788.8V797.9M450.8 789.5V796.1M451.3 785.3V793.7M451.8 789.4V794.7M452.3 785.7V799.1M452.8 788.6V793.3M453.3 786.5V796.3M453.8 787.7V797M454.3 786.1V795.4M454.8 785.4V794M455.3 785V793.7M455.8 786.2V793.4M456.3 788.1V794.2M456.8 787V794.9M457.3 788.2V794.8M457.8 787.9V794.1M458.3 786.1V794.9M458.8 787V795.1M459.3 785.3V793.4M459.8 787.5V793.5M460.3 787.7V792.7M460.8 787.8V795.3M461.3 788.6V795.3M461.8 788.4V795.6M462.3 788.3V792.4M462.8 786.3V792.7M463.3 783.2V793M463.8 787.5V792.1M464.3 787.1V793M464.8 786V792.5M465.3 784.6V792.8M465.8 784.4V791.9M466.3 784V792.5" fill="none" stroke="#1432ff" stroke-width="1"/>
<path d="M78.2 819.5V823.1M78.7 819V822.6M79.2 817.4V821M79.7 819.3V822.8M80.2 820.4V824M80.7 819.2V822.8M81.2 820V823.6M81.7 820.5V824.1M82.2 820.9V824.5M82.7 820.2V823.7M83.2 820.5V824.1M83.7 818.4V822M84.2 820V823.6M84.7 818.2V821.8M85.2 820.4V824M85.7 819.9V823.5" fill="none" stroke="#1432ff" stroke-width="1"/>
<path d="M76.8 830.4L77.5 791.6L78.2 822.5M91.2 832.4L91.2 673.1" fill="none" stroke="#1432ff" stroke-width="1.6"/>
<path d="M86.4 822.5L86.4 686.1" fill="none" stroke="#1432ff" stroke-width="1.2" opacity=".75"/>
<path d="M54.6 836.4v-4M54.6 537.7v4M112.6 836.4v-4M112.6 537.7v4M170.6 836.4v-4M170.6 537.7v4M228.6 836.4v-4M228.6 537.7v4M286.6 836.4v-4M286.6 537.7v4M344.6 836.4v-4M344.6 537.7v4M402.6 836.4v-4M402.6 537.7v4M460.6 836.4v-4M460.6 537.7v4M54.8 836.4h4M494.1 836.4h-4M54.8 796.6h4M494.1 796.6h-4M54.8 756.7h4M494.1 756.7h-4M54.8 716.9h4M494.1 716.9h-4M54.8 677.1h4M494.1 677.1h-4M54.8 637.3h4M494.1 637.3h-4M54.8 597.4h4M494.1 597.4h-4M54.8 557.6h4M494.1 557.6h-4" stroke="#333" stroke-width="1" fill="none"/>
<rect x="54.8" y="537.7" width="439.3" height="298.7" fill="none" stroke="#3a3a3a" stroke-width="1.3"/>
<text class="s n" x="50.2" y="840.8" font-size="12.3" font-weight="700" fill="#333" text-anchor="end">0</text>
<text class="s n" x="50.2" y="801" font-size="12.3" font-weight="700" fill="#333" text-anchor="end">20</text>
<text class="s n" x="50.2" y="761.1" font-size="12.3" font-weight="700" fill="#333" text-anchor="end">40</text>
<text class="s n" x="50.2" y="721.3" font-size="12.3" font-weight="700" fill="#333" text-anchor="end">60</text>
<text class="s n" x="50.2" y="681.5" font-size="12.3" font-weight="700" fill="#333" text-anchor="end">80</text>
<text class="s n" x="50.2" y="641.7" font-size="12.3" font-weight="700" fill="#333" text-anchor="end">100</text>
<text class="s n" x="50.2" y="601.8" font-size="12.3" font-weight="700" fill="#333" text-anchor="end">120</text>
<text class="s n" x="50.2" y="562" font-size="12.3" font-weight="700" fill="#333" text-anchor="end">140</text>
<text class="s n" x="53.1" y="851.9" font-size="12.3" font-weight="700" fill="#333" text-anchor="middle">-5</text>
<text class="s n" x="112.6" y="851.9" font-size="12.3" font-weight="700" fill="#333" text-anchor="middle">0</text>
<text class="s n" x="170.6" y="851.9" font-size="12.3" font-weight="700" fill="#333" text-anchor="middle">5</text>
<text class="s n" x="228.6" y="851.9" font-size="12.3" font-weight="700" fill="#333" text-anchor="middle">10</text>
<text class="s n" x="286.6" y="851.9" font-size="12.3" font-weight="700" fill="#333" text-anchor="middle">15</text>
<text class="s n" x="344.6" y="851.9" font-size="12.3" font-weight="700" fill="#333" text-anchor="middle">20</text>
<text class="s n" x="402.6" y="851.9" font-size="12.3" font-weight="700" fill="#333" text-anchor="middle">25</text>
<text class="s n" x="460.6" y="851.9" font-size="12.3" font-weight="700" fill="#333" text-anchor="middle">30</text>
<text class="s" transform="translate(21.6 688) rotate(-90) scale(1 1.05)" font-size="22.4" text-anchor="middle">FEL energy/macro pulse[nJ]</text>
<text transform="translate(284.5 875) scale(1 1.05)" class="s" font-size="22.5" text-anchor="middle">Time[min]</text>
<text class="s n" x="316.3" y="513.6" font-size="33.2" text-anchor="middle">(b)</text>
<text transform="translate(322.5 672.4) scale(1 1.05)" class="s" font-size="30" fill="#f80000">U2</text>
<text transform="translate(322.5 780.2) scale(1 1.05)" class="s" font-size="30" fill="#1432ee">U1</text>
</g>
<g id="pc">
<rect x="525" y="530.4" width="512.2" height="305.3" fill="#3b489c"/>
<rect x="603.3" y="530.4" width="350.6" height="10.4" fill="#000"/>
<path d="M673.6 531.5V540M885.3 531.5V540" stroke="#9a9a9a" stroke-width="1.2" fill="none"/>
<path d="M674.4 534.8H884.6" stroke="#8d8d3a" stroke-width="1.4" fill="none"/>
<text class="s" x="527" y="539.6" font-size="12" font-weight="700" fill="#0a0a18" textLength="17" lengthAdjust="spacingAndGlyphs">Tek</text>
<text class="s" x="546" y="539.4" font-size="10" fill="#a9b4e6" textLength="31" lengthAdjust="spacingAndGlyphs">50/256</text>
<text class="s" x="957" y="539.4" font-size="10" fill="#a9b4e6" textLength="25" lengthAdjust="spacingAndGlyphs">Trig'd</text>
<rect x="538.4" y="540.6" width="480.8" height="235.4" fill="#000"/>
<path d="M538.4 540.6H1019.2" stroke="#8f9fd8" stroke-width="1"/>
<path d="M538.4 540.6V776" stroke="#6f7fc0" stroke-width="1"/>
<path d="M1018.7 540.6V776" stroke="#56609a" stroke-width="1" stroke-dasharray="1 5.4"/>
<path d="M547.3 572.6H1019.2M547.3 604.7H1019.2M547.3 636.8H1019.2M547.3 668.8H1019.2M547.3 700.9H1019.2M547.3 732.9H1019.2M547.3 765H1019.2" stroke="#4a4a4a" stroke-width="1" stroke-dasharray="1.3 8.3" fill="none"/>
<path d="M586.5 546.3V776M634.6 546.3V776M682.7 546.3V776M730.8 546.3V776M827 546.3V776M875.1 546.3V776M923.2 546.3V776M971.3 546.3V776" stroke="#4a4a4a" stroke-width="1" stroke-dasharray="1.3 5.1" fill="none"/>
<path d="M547.4 541.8H1019.2" stroke="#4a5070" stroke-width="2" stroke-dasharray="1.2 8.4" fill="none"/>
<path d="M539.6 546.4V776" stroke="#4a5070" stroke-width="2" stroke-dasharray="1.2 5.2" fill="none"/>
<path d="M778.9 552.6V776" stroke="#5a564c" stroke-width="1" fill="none"/>
<path d="M778.9 546.5V776" stroke="#6a665c" stroke-width="3" stroke-dasharray="1 5.4" fill="none"/>
<path d="M538.4 668.8H1019.2" stroke="#5a4a40" stroke-width="1" fill="none"/>
<path d="M547.5 668.8H1019.2" stroke="#5f5a52" stroke-width="2.6" stroke-dasharray="1 8.6" fill="none"/>
<path d="M538.4 633.1L540.4 633.5L542.4 633.2L544.4 633L546.4 633.1L548.4 633.2L550.4 633.5L552.4 633.2L554.4 633.2L556.4 633.3L558.4 633.2L560.4 633.5L562.4 633.1L564.4 633.3L566.4 633.2L568.4 633.3L570.4 633L572.4 633.5L574.4 633.2L576.4 633.2L578.4 633.1L580.4 633.1L582.4 633.3L584.4 633.3L586.4 633.3L588.4 633.4L590.4 633.3L592.4 633.2L594.4 633.3L596.4 633.3L598.4 633.2L600.4 633.3L602.4 633.4L604.4 633.2L606.4 633.1L608.4 633.3L610.4 633.5L612.4 633.2L614.4 633.2L616.4 633.2L618.4 633.4L620.4 632.9L622.4 633.3L624.4 633.4L626.4 633.1L628.4 633.4L630.4 633.3L632.4 633.1L634.4 633.2L636.4 633L638.4 633.1L640.4 633.5L642.4 633.1L644.4 633.5L646.4 633.2L648.4 633.3L650.4 633.2L652.4 632.9L654.4 633.1L656.4 633.2L658.4 633L660.4 633L662.4 633.3L664.4 633.1L666.4 632.9L668.4 633.1L670.4 633.3L672.4 633.1L674.4 633.3L676.4 633.4L678.4 633.2L680.4 633L682.4 633L684.4 633.2L686.4 633.3L688.4 633.2L690.4 633.3L692.4 633.1L694.4 633.2L696.4 633.1L698.4 633.2L700.4 633L702.4 633L704.4 633.1L706.4 633L708.4 633.1L710.4 633.3L712.4 633.2L714.4 633.6L716.4 633.3L718.4 633.1L720.4 633.3L722.4 633.3L724.4 633.1L726.4 633.4L728.4 633.1L730.4 632.7L732.4 633.3L734.4 633.1L736.4 633.4L738.4 633.1L740.4 633L742.4 633.4L744.4 633L746.4 633.2L748.4 633.4L750.4 633.2L752.4 633.2L754.4 633.2L756.4 633.3L758.4 633.1L760.4 633.3L762.4 633.3L764.4 633.5L766.4 633.1L768.4 633.1L770.4 633.3L772.4 633.1L774.4 633.2L776.4 633.2L778.4 633.4L780.4 633.1L782.4 633.2L784.4 632.8L786.4 633.1L788.4 633.4L790.4 633.1L792.4 633.1L794.4 633L796.4 633.3L798.4 633.2L800.4 633L802.4 633.3L804.4 633.2L806.4 633.3L808.4 633.1L810.4 633.5L812.4 633.3L814.4 633.2L816.4 633.1L818.4 633.2L820.4 633.3L822.4 633.2L824.4 633.4L826.4 633.3L828.4 633.4L830.4 633.3L832.4 633.2L834.4 632.9L836.4 633.2L838.4 633.3L840.4 633.2L842.4 633.3L844.4 633.1L846.4 633.1L848.4 633.1L850.4 633.4L852.4 633.2L854.4 633.1L856.4 633L858.4 633.2L860.4 633.4L862.4 633.3L864.4 633.1L866.4 633.4L868.4 633.4L870.4 633.3L872.4 633.3L874.4 633.4L876.4 633.3L878.4 633.3L880.4 633.1L882.4 633.4L884.4 633.2L886.4 633.5L888.4 632.9L890.4 633.3L892.4 633.3L894.4 633.1L896.4 633.3L898.4 633.3L900.4 633.3L902.4 633.1L904.4 633.2L906.4 633.4L908.4 633.4L910.4 633.2L912.4 633.2L914.4 633.2L916.4 633.4L918.4 633L920.4 633L922.4 633.2L924.4 633L926.4 633.1L928.4 633.2L930.4 633.3L932.4 633L934.4 633.3L936.4 632.9L938.4 633.3L940.4 633L942.4 633L944.4 633.3L946.4 633.1L948.4 633.1L950.4 633.1L952.4 633.3L954.4 633.2L956.4 633.2L958.4 633.4L960.4 633.1L962.4 633.1L964.4 633.1L966.4 633.4L968.4 633.3L970.4 633.4L972.4 633.2L974.4 633.2L976.4 633.3L978.4 633.1L980.4 633.3L982.4 633.3L984.4 633.1L986.4 633.2L988.4 633.2L990.4 633.5L992.4 633.6L994.4 633.2L996.4 633.2L998.4 632.9L1000.4 633.2L1002.4 633.2L1004.4 633L1006.4 633.3L1008.4 633L1010.4 633.2L1012.4 633.2L1014.4 633L1016.4 633.3L1018.4 633.4" stroke="#a80fae" stroke-width="1.3" fill="none"/>
<path d="M538.4 632L540.4 631.1L542.4 631.7L544.4 631.5L546.4 631.5L548.4 631.6L550.4 631.2L552.4 631.6L554.4 631.4L556.4 632.2L558.4 631.6L560.4 631.5L562.4 631.5L564.4 631.5L566.4 631.4L568.4 631.5L570.4 631.7L572.4 631.6L574.4 631.8L576.4 631.6L578.4 631.6L580.4 631.9L582.4 631.7L584.4 631.5L586.4 631.6L588.4 631.7L590.4 631.9L592.4 631.6L594.4 631.6L596.4 631.8L598.4 631.4L600.4 631.5L602.4 631.8L604.4 631.7L606.4 631.6L608.4 631.7L610.4 631.1L612.4 631.8L614.4 631.4L616.4 631.3L618.4 631.6L620.4 631.7L622.4 631.5L624.4 631.4L626.4 631.6L628.4 631.6L630.4 631.9L632.4 631.7L634.4 631.6L636.4 631.8L638.4 631.6L640.4 631.4L642.4 631.7L644.4 631.7L646.4 631.6L648.4 631.5L650.4 631.6L652.4 631.2L654.4 631.7L656.4 631.7L658.4 631.3L660.4 631.6L662.4 631.4L664.4 631.7L666.4 631.2L668.4 631.4L670.4 631.7L672.4 631.8L674.4 631.2L676.4 631.5L678.4 631.7L680.4 631.5L682.4 631.9L684.4 631.4L686.4 631.7L688.4 631.4L690.4 631.9L692.4 631.6L694.4 631.5L696.4 631.3L698.4 631.9L700.4 631.7L702.4 631.7L704.4 631.8L706.4 631.7L708.4 631.5L710.4 631.5L712.4 631.5L714.4 631.8L716.4 631.3L718.4 631.5L720.4 631.5L722.4 631.6L724.4 631.7L726.4 631.4L728.4 631.3L730.4 631.6L732.4 631.8L734.4 631.7L736.4 631.6L738.4 631.5L740.4 631.7L742.4 631.6L744.4 631.7L746.4 631.5L748.4 631.6L750.4 631.6L752.4 631.7L754.4 631.6L756.4 632.1L758.4 631.9L760.4 631.9L762.4 631.2L764.4 631.5L766.4 631.5L768.4 631.7L770.4 631.2L772.4 631.8L774.4 631.8L776.4 631.4L778.4 631.4L780.4 631.5L782.4 631.6L784.4 631.7L786.4 632L788.4 631.6L790.4 631.7L792.4 631.6L794.4 631.9L796.4 631.7L798.4 631.8L800.4 631.4L802.4 631.6L804.4 631.5L806.4 631.9L808.4 631.7L810.4 631.5L812.4 631.5L814.4 631.7L816.4 631.5L818.4 631.4L820.4 631.7L822.4 632L824.4 631.6L826.4 631.5L828.4 631.4L830.4 631.4L832.4 631.7L834.4 631.8L836.4 631.6L838.4 631.7L840.4 631.6L842.4 631.6L844.4 631.3L846.4 631.5L848.4 631.6L850.4 631.5L852.4 631.5L854.4 631.5L856.4 631.5L858.4 631.8L860.4 631.5L862.4 631.6L864.4 631.7L866.4 631.7L868.4 631.9L870.4 631.2L872.4 631.8L874.4 631.5L876.4 631.6L878.4 631.8L880.4 631.8L882.4 631.8L884.4 631.6L886.4 631.9L888.4 631.5L890.4 631.6L892.4 631.7L894.4 631.5L896.4 632L898.4 631.8L900.4 632L902.4 631.6L904.4 631.5L906.4 631.6L908.4 631.7L910.4 631.5L912.4 631.7L914.4 631.6L916.4 631.9L918.4 631.5L920.4 631.8L922.4 631.5L924.4 631.4L926.4 631.5L928.4 631.4L930.4 631.6L932.4 631.8L934.4 631.6L936.4 631.7L938.4 631.9L940.4 631.6L942.4 631.6L944.4 631.6L946.4 631.3L948.4 631.7L950.4 631.3L952.4 631.7L954.4 631.6L956.4 631.8L958.4 631.6L960.4 631.5L962.4 631.7L964.4 631.5L966.4 631.6L968.4 631.6L970.4 631.6L972.4 631.6L974.4 631.5L976.4 631.6L978.4 631.2L980.4 631.6L982.4 631.4L984.4 631.8L986.4 631.8L988.4 631.2L990.4 631.6L992.4 631.6L994.4 631.4L996.4 631.7L998.4 631.5L1000.4 631.3L1002.4 631.6L1004.4 631.6L1006.4 631.6L1008.4 631.4L1010.4 631.7L1012.4 631.7L1014.4 631.4L1016.4 631.5L1018.4 631.6" stroke="#58b22c" stroke-width="1.3" fill="none"/>
<path d="M538.4 668.6L539.4 668.3L540.4 669L541.4 668.4L542.4 668.5L543.4 668.5L544.4 668.4L545.4 668.1L546.4 667.6L547.4 667.7L548.4 667.9L549.4 667.6L550.4 667.4L551.4 667.1L552.4 667.6L553.4 667.4L554.4 667L555.4 667L556.4 666.9L557.4 666.7L558.4 666.7L559.4 666.7L560.4 666.8L561.4 666.8L562.4 666.6L563.4 666.6L564.4 666.7L565.4 666.5L566.4 666.4L567.4 666.8L568.4 666.6L569.4 666.7L570.4 666.9L571.4 666.7L572.4 667L573.4 667L574.4 666.9L575.4 667.1L576.4 666.9L577.4 666.8L578.4 667.1L579.4 667.1L580.4 667.4L581.4 667.3L582.4 667.2L583.4 667.3L584.4 667.4L585.4 667.3L586.4 667.2L587.4 667.1L588.4 666.9L589.4 666.8L590.4 666.9L591.4 666.7L592.4 666.7L593.4 666.5L594.4 666.3L595.4 666.3L596.4 666.4L597.4 666.6L598.4 666.4L599.4 666L600.4 665.9L601.4 666.2L602.4 666L603.4 665.7L604.4 666.1L605.4 665.9L606.4 666.1L607.4 666L608.4 666.2L609.4 666.2L610.4 666.1L611.4 666.4L612.4 666.4L613.4 666.8L614.4 666.7L615.4 666.7L616.4 667.2L617.4 667.3L618.4 667.4L619.4 667.3L620.4 666.9L621.4 667L622.4 667L623.4 667.1L624.4 666.8L625.4 667.1L626.4 667.2L627.4 667L628.4 667.2L629.4 667.4L630.4 667.3L631.4 667.5L632.4 667.5L633.4 667.4L634.4 667.4L635.4 667.3L636.4 667.5L637.4 667.2L638.4 667.1L639.4 667.2L640.4 666.9L641.4 667L642.4 667L643.4 666.8L644.4 666.7L645.4 666.8L646.4 666.7L647.4 666.4L648.4 666.5L649.4 667L650.4 667L651.4 666.8L652.4 667L653.4 667.3L654.4 667.3L655.4 667.5L656.4 667.5L657.4 667.6L658.4 667.3L659.4 667.5L660.4 667.6L661.4 667.1L662.4 667.3L663.4 667.1L664.4 667L665.4 666.8L666.4 666.5L667.4 666.6L668.4 666.8L669.4 666.9L670.4 667L671.4 667L672.4 667.1L673.4 667L674.4 667L675.4 667.3L676.4 667.3L677.4 667.3L678.4 667L679.4 667.1L680.4 666.8L681.4 667L682.4 666.7L683.4 666.6L684.4 666.5L685.4 666.3L686.4 666.4L687.4 665.9L688.4 665.6L689.4 666L690.4 666.1L691.4 666.1L692.4 666L693.4 666.1L694.4 666.1L695.4 665.9L696.4 666.1L697.4 666.3L698.4 666.2L699.4 666.6L700.4 666.1L701.4 666.4L702.4 666.6L703.4 666.4L704.4 666.4L705.4 666.4L706.4 666.6L707.4 667L708.4 667L709.4 667.1L710.4 667.2L711.4 667.6L712.4 667.7L713.4 667.8L714.4 668.1L715.4 668.4L716.4 668.7L717.4 668.6L718.4 668.7L719.4 668.8L720.4 668.3L721.4 668.1L722.4 668.2L723.4 668L724.4 667.7L725.4 667.5L726.4 667.3L727.4 667.2L728.4 666.9L729.4 666.9L730.4 666.5L731.4 666.5L732.4 666.6L733.4 666.5L734.4 666.7L735.4 666.6L736.4 666.5L737.4 666.7L738.4 666.5L739.4 666.4L740.4 666.4L741.4 666.4L742.4 666.3L743.4 666.3L744.4 666.4L745.4 666.2L746.4 666.3L747.4 666.1L748.4 665.8L749.4 666L750.4 665.9L751.4 665.7L752.4 665.8L753.4 665.9L754.4 665.8L755.4 665.9L756.4 665.9L757.4 666L758.4 665.9L759.4 666L760.4 666L761.4 666.2L762.4 665.8L763.4 666.2L764.4 666.3L765.4 666.2L766.4 666.1L767.4 666.2L768.4 666L769.4 666L770.4 666L771.4 666.1L772.4 666.3L773.4 666L774.4 666.3L775.4 666L776.4 666.1L777.4 666.3L778.4 666.5L779.4 665.2L780.4 655.5L781.4 644L782.4 631.5L783.4 619.9L784.4 610.3L785.4 603.4L786.4 599.9L787.4 601.5L788.4 604.9L789.4 609L790.4 612L791.4 615.2L792.4 618.3L793.4 621L794.4 624L795.4 626.4L796.4 628.6L797.4 630.9L798.4 633.1L799.4 635.1L800.4 637.2L801.4 638.8L802.4 640.8L803.4 642.1L804.4 643.5L805.4 645L806.4 645.8L807.4 647.1L808.4 648.4L809.4 649.3L810.4 650.2L811.4 651.1L812.4 651.8L813.4 652.7L814.4 653.2L815.4 653.9L816.4 655L817.4 655.3L818.4 655.9L819.4 656.8L820.4 657.4L821.4 657.7L822.4 658.2L823.4 658.8L824.4 659.2L825.4 659.9L826.4 660.2L827.4 660.5L828.4 660.9L829.4 661.1L830.4 661.5L831.4 661.6L832.4 661.2L833.4 661.7L834.4 661.5L835.4 661.6L836.4 662.1L837.4 662.1L838.4 662.3L839.4 662.8L840.4 662.8L841.4 663.1L842.4 663.6L843.4 664.1L844.4 664.3L845.4 664.3L846.4 664.7L847.4 665L848.4 665.5L849.4 665.5L850.4 665.6L851.4 665.8L852.4 665.6L853.4 665.7L854.4 665.8L855.4 665.7L856.4 665.9L857.4 666.1L858.4 666L859.4 666.5L860.4 666.6L861.4 666.8L862.4 666.6L863.4 666.8L864.4 667.1L865.4 667L866.4 666.7L867.4 666.8L868.4 666.8L869.4 666.4L870.4 666.2L871.4 666.3L872.4 665.6L873.4 665.4L874.4 665L875.4 664.9L876.4 665.1L877.4 664.8L878.4 664.7L879.4 664.9L880.4 665.1L881.4 665.4L882.4 665.4L883.4 665.8L884.4 665.8L885.4 666.1L886.4 666.3L887.4 666.4L888.4 666.3L889.4 666.4L890.4 666.5L891.4 666.2L892.4 666.4L893.4 666.4L894.4 666.3L895.4 666.1L896.4 666L897.4 665.9L898.4 665.7L899.4 665.8L900.4 665.8L901.4 665.8L902.4 665.7L903.4 665.9L904.4 665.6L905.4 666.2L906.4 666L907.4 666.2L908.4 666L909.4 666.2L910.4 666.3L911.4 666.4L912.4 666.1L913.4 666.4L914.4 666.3L915.4 666.2L916.4 666.4L917.4 666.2L918.4 666.2L919.4 666.1L920.4 666.2L921.4 666.1L922.4 666L923.4 665.9L924.4 665.9L925.4 666L926.4 666.1L927.4 666L928.4 666.3L929.4 666.1L930.4 666.1L931.4 666.5L932.4 666.5L933.4 666.9L934.4 667.2L935.4 667.1L936.4 667.3L937.4 667.8L938.4 667.5L939.4 667.6L940.4 667.6L941.4 667.5L942.4 667.4L943.4 667.4L944.4 666.8L945.4 667.3L946.4 666.7L947.4 666.6L948.4 666.8L949.4 666.7L950.4 666.5L951.4 666.8L952.4 666.6L953.4 666.7L954.4 666.6L955.4 666.7L956.4 666.9L957.4 666.9L958.4 666.8L959.4 666.8L960.4 666.6L961.4 666.3L962.4 666.2L963.4 666.3L964.4 665.9L965.4 665.9L966.4 665.7L967.4 665.7L968.4 665.7L969.4 665.7L970.4 665.7L971.4 665.8L972.4 666L973.4 666.4L974.4 666.7L975.4 667L976.4 667.1L977.4 667.2L978.4 667.6L979.4 667.7L980.4 667.6L981.4 668L982.4 668L983.4 668.3L984.4 667.9L985.4 667.8L986.4 668L987.4 667.5L988.4 667.6L989.4 667.4L990.4 667.2L991.4 667L992.4 667.1L993.4 667.2L994.4 667L995.4 667L996.4 666.8L997.4 667.1L998.4 667L999.4 667.2L1000.4 666.9L1001.4 667.3L1002.4 667.2L1003.4 667.5L1004.4 667.6L1005.4 667.6L1006.4 667.8L1007.4 668.1L1008.4 668L1009.4 668L1010.4 667.8L1011.4 667.8L1012.4 667.7L1013.4 667.8L1014.4 667.8L1015.4 667.6L1016.4 667.5L1017.4 667.2L1018.4 667.4" stroke="#1f8a8e" stroke-width="1.15" fill="none" stroke-linejoin="round"/>
<path d="M538.4 700L539.1 700.7L539.8 700.9L540.5 700.1L541.2 699.8L541.9 701.8L542.6 700.8L543.3 700.1L544 699.9L544.7 698.3L545.4 699.2L546.1 700L546.8 701.2L547.5 698.7L548.2 699.8L548.9 701.8L549.6 700.9L550.3 700.7L551 701.4L551.7 700.5L552.4 700.5L553.1 701.2L553.8 701.4L554.5 700L555.2 702L555.9 699.6L556.6 700.4L557.3 703.3L558 700.6L558.7 701.5L559.4 700.3L560.1 700.8L560.8 700.5L561.5 700.7L562.2 701.5L562.9 702.2L563.6 701.5L564.3 702L565 700.4L565.7 701.8L566.4 701.1L567.1 701.7L567.8 700.3L568.5 700.4L569.2 701.6L569.9 701L570.6 700.6L571.3 700L572 700.4L572.7 700.9L573.4 701L574.1 700.1L574.8 700.3L575.5 700.8L576.2 699.7L576.9 701.3L577.6 700.6L578.3 700.5L579 698.9L579.7 699.6L580.4 700L581.1 700.4L581.8 700.1L582.5 701.3L583.2 701.1L583.9 700.9L584.6 699.6L585.3 702.2L586 700.9L586.7 701.6L587.4 700.6L588.1 701.1L588.8 701.5L589.5 701.1L590.2 701.5L590.9 700.6L591.6 702.1L592.3 699L593 699.9L593.7 700.9L594.4 699.8L595.1 699.5L595.8 698.4L596.5 700.4L597.2 698L597.9 699.6L598.6 699.3L599.3 699.6L600 700L600.7 698.3L601.4 698.1L602.1 698.4L602.8 697.3L603.5 699.2L604.2 698.3L604.9 698.7L605.6 697.7L606.3 698.6L607 698.2L607.7 698.6L608.4 697.8L609.1 699.4L609.8 698.2L610.5 696.7L611.2 699.1L611.9 698.4L612.6 697.9L613.3 700.4L614 698.5L614.7 697.5L615.4 698L616.1 698.7L616.8 698.3L617.5 699.4L618.2 699.3L618.9 697.9L619.6 698.6L620.3 699.2L621 698.5L621.7 698.7L622.4 699.9L623.1 699.8L623.8 698.6L624.5 699.5L625.2 699.9L625.9 700.5L626.6 700.3L627.3 702.2L628 700.7L628.7 700.9L629.4 702.1L630.1 700.5L630.8 701.6L631.5 703L632.2 701.7L632.9 702.1L633.6 703.6L634.3 703.1L635 702.8L635.7 702.9L636.4 702.1L637.1 702.7L637.8 702.2L638.5 704L639.2 702.3L639.9 701.5L640.6 701.5L641.3 701.3L642 700L642.7 700.2L643.4 701.8L644.1 699.4L644.8 699.8L645.5 700.9L646.2 701.1L646.9 699.1L647.6 701L648.3 699.6L649 701.1L649.7 700.2L650.4 699.7L651.1 700.5L651.8 700.4L652.5 699.5L653.2 701.8L653.9 700L654.6 701.2L655.3 700L656 699.1L656.7 699.6L657.4 700.4L658.1 701L658.8 701.8L659.5 700.6L660.2 700.3L660.9 699.6L661.6 700.4L662.3 700.6L663 698.7L663.7 701.3L664.4 701.1L665.1 701.9L665.8 699.5L666.5 700.2L667.2 700.2L667.9 699.2L668.6 699.5L669.3 699.5L670 700.7L670.7 700.7L671.4 701.5L672.1 700.3L672.8 699.7L673.5 701.2L674.2 701.3L674.9 701.7L675.6 702.2L676.3 700.9L677 702L677.7 700.7L678.4 701.6L679.1 702L679.8 701.3L680.5 701.5L681.2 700.1L681.9 700.5L682.6 701L683.3 699.7L684 699.8L684.7 702L685.4 700.1L686.1 699L686.8 698.6L687.5 700.1L688.2 696.7L688.9 698.3L689.6 698.8L690.3 697.7L691 698.3L691.7 697L692.4 697.7L693.1 697.7L693.8 697.6L694.5 697.7L695.2 697.7L695.9 698.6L696.6 697.6L697.3 697.5L698 697.9L698.7 698.1L699.4 697.3L700.1 697.2L700.8 697.8L701.5 699.2L702.2 698.7L702.9 699L703.6 701.6L704.3 700.5L705 699.6L705.7 699.4L706.4 700.9L707.1 699.4L707.8 700.9L708.5 700.4L709.2 701L709.9 699.4L710.6 700.6L711.3 698.5L712 699.7L712.7 700.5L713.4 700.1L714.1 698.1L714.8 699.9L715.5 699.7L716.2 699.2L716.9 698.6L717.6 698.9L718.3 698.6L719 699.7L719.7 699.3L720.4 699.8L721.1 699.5L721.8 698L722.5 699L723.2 700.6L723.9 698.1L724.6 699.2L725.3 698.5L726 698.4L726.7 699.3L727.4 699.8L728.1 699.8L728.8 699.5L729.5 699.9L730.2 698L730.9 699.8L731.6 699.5L732.3 699L733 699.1L733.7 698.5L734.4 700L735.1 698.5L735.8 697.9L736.5 699L737.2 698.5L737.9 698.9L738.6 700L739.3 698.7L740 698.9L740.7 700.5L741.4 697.7L742.1 699L742.8 699.6L743.5 699.8L744.2 700.3L744.9 698.1L745.6 699L746.3 698.4L747 698.1L747.7 697.8L748.4 697.2L749.1 698.5L749.8 698.7L750.5 697.3L751.2 698.6L751.9 697.6L752.6 697.2L753.3 696L754 698.8L754.7 698.5L755.4 697.8L756.1 697.8L756.8 697.2L757.5 698.6L758.2 698.3L758.9 698.9L759.6 698.7L760.3 697.7L761 697.7L761.7 699.3L762.4 697.9L763.1 699.5L763.8 700L764.5 698.5L765.2 700L765.9 699.6L766.6 700L767.3 699.2L768 699.7L768.7 700L769.4 701.1L770.1 700.3L770.8 700.2L771.5 698.8L772.2 700L772.9 699.3L773.6 699.7L774.3 699.9L775 700.4L775.7 700.1L776.4 699.8L777.1 699.6L777.8 700.7L778.5 699L779.2 699.7L779.9 697.2L780.6 688.7L781.3 681L782 672.2L782.7 664.1L783.4 655.1L784.1 645.3L784.8 640.1L785.5 635.2L786.2 632L786.9 629.7L787.6 631.7L788.3 633.5L789 634.2L789.7 636.9L790.4 638L791.1 643L791.8 643.6L792.5 645.6L793.2 646.4L793.9 649.1L794.6 651.5L795.3 652.5L796 654.2L796.7 655.5L797.4 659L798.1 658.5L798.8 659.2L799.5 661.2L800.2 662.6L800.9 664L801.6 665.1L802.3 665.5L803 667.3L803.7 668.8L804.4 668.5L805.1 672L805.8 672.8L806.5 671.1L807.2 673.1L807.9 675.1L808.6 676.2L809.3 677.4L810 675.5L810.7 676.9L811.4 678.2L812.1 679.8L812.8 679.3L813.5 681.2L814.2 682L814.9 683L815.6 682.1L816.3 684L817 684.5L817.7 684.8L818.4 686.7L819.1 686.1L819.8 688L820.5 687L821.2 689.2L821.9 689.6L822.6 688.2L823.3 689.4L824 689.7L824.7 689.1L825.4 690.7L826.1 690.8L826.8 690L827.5 691L828.2 691.8L828.9 691.2L829.6 691L830.3 692.9L831 691.1L831.7 692.2L832.4 692.9L833.1 692.8L833.8 690.9L834.5 692.2L835.2 692.4L835.9 692.4L836.6 693.2L837.3 693.2L838 693L838.7 693.2L839.4 693.8L840.1 694.1L840.8 691.8L841.5 695L842.2 693.1L842.9 694.2L843.6 692.6L844.3 693.6L845 693.2L845.7 695.2L846.4 695.3L847.1 694.9L847.8 695L848.5 695.6L849.2 694.8L849.9 695.3L850.6 695.5L851.3 696.9L852 696.5L852.7 695.8L853.4 697.3L854.1 697.6L854.8 698.5L855.5 697.3L856.2 698.2L856.9 699.7L857.6 698.1L858.3 698.2L859 699.1L859.7 698.4L860.4 698.9L861.1 698.7L861.8 698.5L862.5 699.9L863.2 699L863.9 698.6L864.6 699.1L865.3 699.2L866 699.6L866.7 700L867.4 700.7L868.1 698.3L868.8 699.1L869.5 697.8L870.2 699.4L870.9 699.6L871.6 698.6L872.3 698.4L873 698.3L873.7 697.9L874.4 699.5L875.1 700.4L875.8 698.1L876.5 700.2L877.2 698.8L877.9 697.9L878.6 699.3L879.3 699.5L880 699.2L880.7 698.7L881.4 700.1L882.1 698.7L882.8 699.4L883.5 699.4L884.2 698.2L884.9 697.5L885.6 697.6L886.3 698.7L887 699.2L887.7 697.6L888.4 698.5L889.1 700.2L889.8 697.7L890.5 699.4L891.2 699.4L891.9 699.7L892.6 698L893.3 699.4L894 698.1L894.7 700.2L895.4 698.5L896.1 699.4L896.8 698.6L897.5 699.3L898.2 698L898.9 699.4L899.6 699.7L900.3 699.3L901 700.5L901.7 699.6L902.4 700L903.1 699.8L903.8 700.9L904.5 699L905.2 699.3L905.9 699.4L906.6 700.1L907.3 699.9L908 700.4L908.7 700L909.4 699.5L910.1 700L910.8 700.5L911.5 698.6L912.2 701.5L912.9 700.2L913.6 700.5L914.3 701.2L915 701L915.7 700.2L916.4 701.3L917.1 702.7L917.8 702.6L918.5 702.9L919.2 701.6L919.9 702L920.6 703L921.3 703.4L922 702.3L922.7 701.6L923.4 700.8L924.1 703.3L924.8 701L925.5 702.5L926.2 702.7L926.9 704.5L927.6 702L928.3 701.6L929 701.9L929.7 701.8L930.4 702.3L931.1 701.6L931.8 700.3L932.5 699.1L933.2 700.8L933.9 699.9L934.6 701.4L935.3 699.1L936 700.2L936.7 699.3L937.4 699.1L938.1 700.9L938.8 699.6L939.5 699.2L940.2 699.7L940.9 698.4L941.6 698.6L942.3 698.3L943 700.3L943.7 698.9L944.4 699.1L945.1 699.5L945.8 698.5L946.5 698.5L947.2 697.4L947.9 699.1L948.6 698.9L949.3 698.5L950 699.8L950.7 697.5L951.4 699.3L952.1 697.9L952.8 698.1L953.5 698.9L954.2 700.1L954.9 698.2L955.6 698.3L956.3 698.2L957 700.7L957.7 699.5L958.4 699.4L959.1 700.7L959.8 699.2L960.5 697.4L961.2 698.6L961.9 698L962.6 700.5L963.3 697.8L964 699.1L964.7 698.4L965.4 698.4L966.1 698.8L966.8 698.7L967.5 698.4L968.2 698L968.9 698.6L969.6 698.4L970.3 698.7L971 699.6L971.7 699.6L972.4 700.3L973.1 699.9L973.8 701.7L974.5 699.8L975.2 699.7L975.9 701.4L976.6 700.2L977.3 700.9L978 701.7L978.7 700.9L979.4 700.7L980.1 701.8L980.8 701.4L981.5 700.7L982.2 700.2L982.9 700.9L983.6 699.9L984.3 700.5L985 700.3L985.7 701.4L986.4 701.7L987.1 700.6L987.8 700.7L988.5 700.2L989.2 699.9L989.9 700.7L990.6 701.4L991.3 701.4L992 701.5L992.7 700.8L993.4 698.9L994.1 701.8L994.8 702.2L995.5 701.9L996.2 702L996.9 702.2L997.6 703.4L998.3 701.6L999 702.6L999.7 702.1L1000.4 702L1001.1 701.3L1001.8 701.2L1002.5 700.6L1003.2 701.9L1003.9 701.2L1004.6 700.5L1005.3 700.8L1006 700.4L1006.7 702.6L1007.4 701.1L1008.1 701.3L1008.8 700.2L1009.5 700.2L1010.2 701.7L1010.9 700.6L1011.6 700.8L1012.3 701.9L1013 701.9L1013.7 700.7L1014.4 700.3L1015.1 700L1015.8 699.4L1016.5 701.1L1017.2 698.5L1017.9 699.3L1018.6 697.8L1019.3 698.2" stroke="#d2cb1e" stroke-width="1.25" fill="none" stroke-linejoin="round"/>
<path d="M525.2 629.8h9l4.2 5l-4.2 5h-9z" fill="#050505" stroke="#3fb521" stroke-width=".8"/><text class="s" x="530.2" y="638.2" font-size="9.5" font-weight="700" fill="#3fb521" text-anchor="middle">4</text>
<path d="M525.2 663.4h9l4.2 5l-4.2 5h-9z" fill="#050505" stroke="#2bd0d0" stroke-width=".8"/><text class="s" x="530.2" y="671.8" font-size="9.5" font-weight="700" fill="#2bd0d0" text-anchor="middle">2</text>
<path d="M525.2 711.2h9l4.2 5l-4.2 5h-9z" fill="#e8e31a"/>
<text class="s" x="530.2" y="719.6" font-size="9.5" font-weight="700" fill="#111" text-anchor="middle">1</text>
<path d="M776.4 530.6h4.8v8l-2.4 3.8l-2.4-3.8z" fill="#e8981c"/>
<path d="M774.8 545h8v6.4l-4 3.6l-4-3.6z" fill="#f0a01e"/>
<text class="s" x="778.8" y="552" font-size="7" font-weight="700" fill="#503000" text-anchor="middle">T</text>
<path d="M1017.6 606.6v6l-4.4-3z" fill="#2fae22"/>
<text class="s" x="800" y="583.1" font-size="24.2" fill="#12e4ee">U2 output</text>
<text class="s" x="800" y="611.3" font-size="24.2" fill="#12e4ee">(~40mV)</text>
<text class="s" x="793.6" y="732" font-size="24.2" fill="#f2ec10">U1 output</text>
<text class="s" x="793.8" y="759.9" font-size="24.2" fill="#f2ec10">(~4mV)</text>
<rect x="538.6" y="776.4" width="204.9" height="23.6" rx="3.5" fill="#000" stroke="#737a9c" stroke-width="1.1"/>
<rect x="745.4" y="776.4" width="216.9" height="23.6" rx="3.5" fill="#000" stroke="#737a9c" stroke-width="1.1"/>
<rect x="963.6" y="776.4" width="72" height="23.6" rx="3.5" fill="#000" stroke="#737a9c" stroke-width="1.1"/>
<rect x="541.8" y="778.2" width="16.4" height="9.4" rx="4.7" fill="#f2ee12"/><text class="s" x="550" y="786" font-size="8.5" font-weight="700" fill="#000" text-anchor="middle">1</text>
<text class="s" x="568" y="786.2" font-size="9.2" fill="#a9a524" textLength="32" lengthAdjust="spacingAndGlyphs">2.00mV</text>
<text class="s" x="608.5" y="786.2" font-size="10" fill="#a9a524">∿</text>
<rect x="644" y="778.2" width="16.4" height="9.4" rx="4.7" fill="#1ed7dc"/><text class="s" x="652.2" y="786" font-size="8.5" font-weight="700" fill="#000" text-anchor="middle">2</text>
<text class="s" x="670.2" y="786.2" font-size="9.2" fill="#1f9296" textLength="32" lengthAdjust="spacingAndGlyphs">20.0mV</text>
<text class="s" x="711" y="786.2" font-size="10" fill="#1f9296">∿</text>
<rect x="541.8" y="789.7" width="16.4" height="9.4" rx="4.7" fill="#c010c4"/><text class="s" x="550" y="797.5" font-size="8.5" font-weight="700" fill="#600060" text-anchor="middle">3</text>
<text class="s" x="568" y="797.6" font-size="9.2" fill="#8c0b90" textLength="28.5" lengthAdjust="spacingAndGlyphs">2.00 V</text>
<rect x="644" y="789.7" width="16.4" height="9.4" rx="4.7" fill="#18b41c"/><text class="s" x="652.2" y="797.5" font-size="8.5" font-weight="700" fill="#063" text-anchor="middle">4</text>
<text class="s" x="671" y="797.6" font-size="9.2" fill="#1d8a1d" textLength="28" lengthAdjust="spacingAndGlyphs">1.00 V</text>
<text class="s" x="711.5" y="797.6" font-size="9" fill="#1d8a1d">Ω</text>
<text class="s" x="748.3" y="786.2" font-size="9.2" fill="#d4d4d4" textLength="27" lengthAdjust="spacingAndGlyphs">200μs</text>
<text class="s" x="837" y="786.2" font-size="9.2" fill="#cfcfcf" textLength="34.5" lengthAdjust="spacingAndGlyphs">500kS/s</text>
<rect x="905.2" y="778.2" width="16.4" height="9.4" rx="4.7" fill="#18b41c"/><text class="s" x="913.4" y="786" font-size="8.5" font-weight="700" fill="#063" text-anchor="middle">4</text>
<text class="s" x="931" y="786.2" font-size="10" fill="#d8d8d8">∕</text>
<rect x="748.2" y="790.2" width="8.6" height="8.4" rx="1.2" fill="#f0a01e"/>
<text class="s" x="752.5" y="797.4" font-size="7.5" fill="#503000" text-anchor="middle" font-weight="700">T</text>
<text class="s" x="757.2" y="797.6" font-size="9" fill="#d98d1c" textLength="55" lengthAdjust="spacingAndGlyphs">→▼0.00000 s</text>
<text class="s" x="837" y="797.6" font-size="9.2" fill="#cfcfcf" textLength="48" lengthAdjust="spacingAndGlyphs">1000 points</text>
<text class="s" x="914.5" y="797.6" font-size="9.2" fill="#cfcfcf" textLength="27.5" lengthAdjust="spacingAndGlyphs">780mV</text>
<text class="s" x="974.8" y="786.2" font-size="9.2" fill="#cfcfcf" textLength="23" lengthAdjust="spacingAndGlyphs">1 Mar</text>
<text class="s" x="1012.3" y="786.2" font-size="9.2" fill="#cfcfcf" textLength="20.5" lengthAdjust="spacingAndGlyphs">2021</text>
<text class="s" x="969" y="797.6" font-size="9.2" fill="#cfcfcf" textLength="44.5" lengthAdjust="spacingAndGlyphs">08: 12: 56</text>
<path d="M526 835.7V805.6Q526 801.6 530 801.6H593.6Q597.6 801.6 597.6 805.6V835.7z" fill="#5a8de4"/>
<path d="M599.9 835.7V805.6Q599.9 801.6 603.9 801.6H666.4Q670.4 801.6 670.4 805.6V835.7z" fill="#5a8de4"/>
<path d="M672.4 835.7V805.6Q672.4 801.6 676.4 801.6H738.9Q742.9 801.6 742.9 805.6V835.7z" fill="#5a8de4"/>
<path d="M745.2 835.7V805.6Q745.2 801.6 749.2 801.6H811.9Q815.9 801.6 815.9 805.6V835.7z" fill="#5a8de4"/>
<path d="M818.6 835.7V805.6Q818.6 801.6 822.6 801.6H885.4Q889.4 801.6 889.4 805.6V835.7z" fill="#5a8de4"/>
<path d="M891.4 835.7V805.6Q891.4 801.6 895.4 801.6H957.9Q961.9 801.6 961.9 805.6V835.7z" fill="#5a8de4"/>
<path d="M598.8 803V835.7M671.4 803V835.7M744 799V835.7M817.2 803V835.7M890.4 803V835.7M962.6 806V835.7" stroke="#2b3a8c" stroke-width="1.4" fill="none"/>
<path d="M745 833.4H962" stroke="#2f449a" stroke-width="1.6" fill="none"/>
<text class="s" x="562.2" y="816.4" font-size="9.6" fill="#1c2f78" textLength="33.5" lengthAdjust="spacingAndGlyphs" text-anchor="middle">Coupling</text>
<text class="s" x="537.8" y="833.6" font-size="9.2" fill="#1c2f78" text-anchor="middle">DC</text>
<rect x="553.8" y="825.6" width="16.4" height="9.6" rx="3" fill="#dfe6f6"/>
<text class="s" x="562" y="833.6" font-size="9.2" fill="#2a3a7a" text-anchor="middle">AC</text>
<path d="M586 826v5M580.6 835.2q0-4.4 5.4-4.4q5.4 0 5.4 4.4M583.4 835.2l2-3M586.6 835.2l2-3" stroke="#151c48" stroke-width="1.1" fill="none"/>
<text class="s" x="635.7" y="811.8" font-size="9.6" fill="#1c2f78" textLength="47" lengthAdjust="spacingAndGlyphs" text-anchor="middle">Termination</text>
<text class="s" x="635.7" y="822.6" font-size="9.6" fill="#1c2f78" textLength="22" lengthAdjust="spacingAndGlyphs" text-anchor="middle">( Ω )</text>
<rect x="602.4" y="825.6" width="17.4" height="9.6" rx="3" fill="#dfe6f6"/>
<text class="s" x="611.1" y="833.6" font-size="9.2" fill="#2a3a7a" text-anchor="middle">1M</text>
<text class="s" x="634.5" y="833.6" font-size="9.2" fill="#1c2f78" text-anchor="middle">75</text>
<text class="s" x="657.9" y="833.6" font-size="9.2" fill="#1c2f78" text-anchor="middle">50</text>
<text class="s" x="707.9" y="816.4" font-size="9.6" fill="#1c2f78" textLength="23.5" lengthAdjust="spacingAndGlyphs" text-anchor="middle">Invert</text>
<text class="s" x="690" y="833.6" font-size="9.2" fill="#1c2f78" text-anchor="middle">On</text>
<rect x="717.6" y="825.6" width="17" height="9.6" rx="3" fill="#dfe6f6"/>
<text class="s" x="726.1" y="833.6" font-size="9.2" fill="#2a3a7a" text-anchor="middle">Off</text>
<text class="s" x="781.4" y="816.8" font-size="9.6" fill="#1c2f78" textLength="42" lengthAdjust="spacingAndGlyphs" text-anchor="middle">Bandwidth</text>
<rect x="774.6" y="819.8" width="13.6" height="9.6" fill="#d5dcf0"/>
<text class="s" x="781.4" y="827.8" font-size="9.2" fill="#2a3a7a" text-anchor="middle">Full</text>
<rect x="834.4" y="814" width="16.4" height="9.4" rx="4.7" fill="#f2ee12"/><text class="s" x="842.6" y="821.8" font-size="8.5" font-weight="700" fill="#000" text-anchor="middle">1</text>
<text class="s" x="855" y="822" font-size="9.6" fill="#1c2f78" textLength="20.5" lengthAdjust="spacingAndGlyphs">Label</text>
<path d="M920.2 817.6l7.2-6.2l7.2 6.2z" fill="#e6ecfa"/>
<text class="s" x="927.4" y="826.4" font-size="9.8" fill="#1c2f78" textLength="21.5" lengthAdjust="spacingAndGlyphs" text-anchor="middle">More</text>
<text class="s n" x="779.7" y="517.1" font-size="33.2" text-anchor="middle">(c)</text>
</g>
<g id="pd">
<path d="M1242.9 62.6V609.5M1307.3 62.6V609.5M1371.6 62.6V609.5M1436 62.6V609.5M1500.3 62.6V609.5M1564.6 62.6V609.5M1629 62.6V609.5M1693.3 62.6V609.5M1178.6 140.7H1725M1178.6 218.9H1725M1178.6 297H1725M1178.6 375.1H1725M1178.6 453.2H1725M1178.6 531.4H1725" stroke="#111" stroke-width="1.5" stroke-dasharray="1.5 1.4" fill="none"/>
<path d="M1242.9 609.5v-11M1242.9 62.6v11M1307.3 609.5v-11M1307.3 62.6v11M1371.6 609.5v-11M1371.6 62.6v11M1436 609.5v-11M1436 62.6v11M1500.3 609.5v-11M1500.3 62.6v11M1564.6 609.5v-11M1564.6 62.6v11M1629 609.5v-11M1629 62.6v11M1693.3 609.5v-11M1693.3 62.6v11M1178.6 140.7h11M1725 140.7h-11M1178.6 218.9h11M1725 218.9h-11M1178.6 297h11M1725 297h-11M1178.6 375.1h11M1725 375.1h-11M1178.6 453.2h11M1725 453.2h-11M1178.6 531.4h11M1725 531.4h-11" stroke="#111" stroke-width="1.5" fill="none"/>
<rect x="1178.6" y="62.6" width="546.4" height="546.9" fill="none" stroke="#111" stroke-width="1.6"/>
<rect x="1198.4" y="78.9" width="281" height="117" fill="#fff" stroke="#111" stroke-width="1.5"/>
<path d="M1208.4 99.6H1262.2" stroke="#e8000c" stroke-width="2.6"/>
<path d="M1208.4 137.6H1262.2" stroke="#1414e6" stroke-width="2.6"/>
<path d="M1220.6 175.6H1260" stroke="#1d6b1d" stroke-width="2.6" stroke-dasharray="16 7.4"/>
<text transform="translate(1268 107) scale(1 1.09)" class="s" font-size="20.6" fill="#f2283c" textLength="201" lengthAdjust="spacingAndGlyphs">FEL in 2nd undulator</text>
<text transform="translate(1268 145) scale(1 1.09)" class="s" font-size="20.6" fill="#3a2ae6" textLength="193" lengthAdjust="spacingAndGlyphs">FEL in 1st undulator</text>
<text transform="translate(1269 181) scale(1 1.09)" class="j" font-size="20.6" fill="#2a9a2a" textLength="120" lengthAdjust="spacingAndGlyphs">NEDO goal</text>
<path d="M1188.6 210.8H1714" stroke="#14641a" stroke-width="2.8" stroke-dasharray="16.6 7.9" fill="none"/>
<path d="M1344 371L1432.4 287.4L1536.4 349.3" stroke="#111" stroke-width="1.1" stroke-dasharray="4 1.6" fill="none"/>
<path d="M1183.3 609.5L1183.3 608.3L1183.4 607.1L1183.1 605.9L1184.1 604.7L1184.1 603.5L1184 602.3L1184.4 601.1L1184.4 599.9L1184.4 598.7L1185 597.6L1184.9 596.4L1185.1 595.2L1185.2 594L1185.7 592.9L1185.8 591.7L1186.2 590.5L1186.2 589.3L1186.6 588.1L1186.7 587L1187.3 585.8L1187.5 584.6L1187.9 583.5L1188.2 582.3L1188.3 581.1L1189.1 580L1189.7 578.9L1189.3 577.7L1189.7 576.6L1190.2 575.5L1191.1 574.4L1191.4 573.3L1192.1 572.3L1192.6 571.2L1193 570.1L1193.6 569L1194.1 568L1195 567L1195.2 565.9L1196.1 564.9L1196.9 563.9L1197.9 562.9L1198.1 562L1198.7 561L1199.6 560.1L1200.6 559.2L1201.2 558.3L1202.3 557.4L1202.4 556.5L1203.9 555.7L1204.8 554.8L1205.1 553.9L1206.3 553.1L1207.5 552.3L1208.1 551.5L1209.2 550.7L1210.4 549.9L1210.9 549.1L1211.7 548.4L1212.5 547.6L1213.7 546.9L1214.5 546.2L1215.5 545.5L1216.5 544.8L1217.6 544.1L1218.2 543.4L1219.1 542.8L1219.9 542.1L1221.7 541.5L1222.5 540.8L1223.8 540.2L1224.5 539.5L1225.4 538.9L1226.7 538.2L1227.6 537.6L1228.3 536.9L1229.4 536.2L1231 535.6L1231.7 534.9L1232.7 534.2L1233.5 533.5L1234.4 532.9L1235.8 532.2L1236.5 531.5L1237.4 530.8L1238.5 530.1L1239.3 529.4L1240.5 528.7L1241.7 528L1242.2 527.2L1243.6 526.5L1244 525.7L1245.1 524.9L1245.7 524.1L1246.7 523.3L1247.6 522.4L1248.4 521.6L1249.2 520.7L1250 519.9L1250.8 519L1251.5 518.1L1252.6 517.2L1253.6 516.3L1254.5 515.4L1255.2 514.5L1256.4 513.6L1256.8 512.7L1257.4 511.8L1258.7 510.9L1258.8 510L1260 509L1260.4 508.1L1261.4 507.2L1261.7 506.3L1263 505.3L1263.5 504.4L1264.1 503.5L1265.4 502.5L1266 501.6L1266.5 500.6L1267.1 499.6L1267.9 498.7L1268.6 497.7L1269.5 496.7L1270.2 495.8L1270.6 494.8L1271.3 493.8L1272 492.8L1272.5 491.8L1273.3 490.8L1274.1 489.8L1275 488.8L1275.8 487.8L1276 486.8L1276.9 485.8L1277.4 484.8L1278.6 483.8L1278.7 482.8L1279.5 481.8L1279.8 480.8L1280.5 479.7L1281.4 478.7L1281.9 477.7L1282.6 476.7L1282.8 475.7L1283.9 474.6L1284.2 473.6L1285.4 472.6L1285.6 471.5L1286.5 470.5L1286.5 469.4L1287.5 468.4L1287.8 467.4L1288.5 466.3L1289.2 465.3L1289.7 464.2L1290.5 463.2L1291.2 462.1L1291.7 461.1L1292.2 460.1L1292.5 459L1293.2 458L1293.9 456.9L1294.1 455.9L1295.3 454.8L1295.7 453.8L1296.3 452.7L1297.2 451.7L1297.7 450.7L1298.2 449.6L1298.5 448.6L1299.4 447.6L1300.1 446.5L1300.4 445.5L1301.4 444.5L1301.9 443.4L1302 442.4L1303.1 441.4L1303.4 440.3L1304.5 439.3L1305.1 438.3L1305.3 437.2L1305.9 436.2L1306.7 435.2L1307.3 434.2L1308.3 433.1L1308.7 432.1L1309.1 431.1L1309.9 430L1310 429L1311.1 428L1311.8 426.9L1312.2 425.9L1312.7 424.9L1313.6 423.8L1314.5 422.8L1314.7 421.8L1315 420.7L1316.2 419.7L1316.1 418.7L1317.2 417.6L1317.6 416.6L1318.5 415.5L1318.7 414.5L1319.8 413.5L1320.2 412.4L1320.3 411.4L1320.9 410.3L1321.8 409.3L1322.8 408.3L1323.1 407.2L1323.7 406.2L1324.2 405.1L1325 404.1L1325.6 403.1L1326.1 402L1326.4 401L1327.5 399.9L1328.2 398.9L1328.2 397.8L1329.5 396.8L1329.8 395.8L1330.1 394.7L1330.4 393.7L1331.6 392.6L1332.1 391.6L1332.5 390.6L1332.8 389.5L1334.1 388.5L1334.3 387.4L1334.9 386.4L1336.2 385.4L1336.7 384.3L1337 383.3L1337.3 382.2L1338.2 381.2L1338.1 380.2L1339.2 379.1L1339.7 378.1L1340.1 377L1340.7 376L1341.8 375L1342.3 373.9L1342.9 372.9L1343.7 371.9L1343.9 370.9L1344.4 369.8L1344.9 368.8L1345.9 367.8L1346.7 366.7L1347.1 365.7L1347.9 364.7L1348.1 363.6L1348.9 362.6L1349.5 361.6L1350 360.6L1351.3 359.5L1351.7 358.5L1352 357.5L1352.6 356.5L1353.4 355.4L1353.7 354.4L1354.7 353.4L1355 352.4L1355.8 351.3L1356.3 350.3L1357 349.3L1357.5 348.3L1358 347.2L1358.8 346.2L1359.5 345.2L1360.2 344.2L1360.9 343.2L1361.9 342.1L1362.3 341.1L1362.7 340.1L1363.6 339.1L1363.9 338.1L1365 337L1365.5 336L1365.7 335L1366.8 334L1367.4 333L1367.3 332L1368.4 330.9L1369.1 329.9L1369.4 328.9L1370.2 327.9" stroke="#0a0ae0" stroke-width="4.4" fill="none" stroke-linejoin="round" stroke-linecap="butt"/>
<path d="M1520.6 609.5V471.4H1522.3V432H1523.8V420" stroke="#e8000c" stroke-width="3" fill="none" stroke-linejoin="miter"/>
<path d="M1523.6 422L1524 420.8L1524 419.6L1524.6 418.4L1524 417.2L1524.4 416L1524.2 414.8L1524.4 413.6L1524.1 412.4L1524 411.2L1524.4 410L1524.9 408.8L1525.2 407.6L1525.1 406.4L1525.2 405.3L1525 404.1L1525.7 402.9L1525.8 401.7L1525.5 400.5L1525.8 399.3L1525.7 398.1L1526.5 396.9L1526.4 395.7L1526.4 394.5L1526.7 393.3L1526.8 392.1L1526.7 391L1526.7 389.8L1526.8 388.6L1526.8 387.4L1527.5 386.2L1528.1 385L1527.3 383.8L1527.9 382.6L1528.1 381.4L1527.9 380.2L1528.4 379L1528.2 377.8L1529 376.6L1528.7 375.5L1529.1 374.3L1529.4 373.1L1529.3 371.9L1529.2 370.8L1529.7 369.6L1530.3 368.4L1530.4 367.2L1530.7 366.1L1530.7 364.9L1531.3 363.7L1531.7 362.5L1531.9 361.4L1532.7 360.2L1532.5 359L1532.6 357.9L1532.9 356.7L1533.9 355.6L1534 354.5L1534.7 353.4L1535 352.3L1535.7 351.2L1536.2 350.1L1536.3 349L1537 348L1537.8 346.9L1537.9 345.9L1539.2 344.9L1539.8 343.9L1540.4 342.9L1540.8 341.9L1541.6 340.9L1541.9 339.9L1542.9 339L1543.5 338L1544.4 337.1L1545.1 336.2L1546 335.3L1547.1 334.4L1547.2 333.4L1548.6 332.5L1548.7 331.6L1549.4 330.7L1550.8 329.8L1551.6 329L1552.5 328.1L1552.8 327.1L1554 326.2L1554.8 325.3L1555.9 324.4L1556.3 323.5L1557.2 322.5L1557.6 321.6L1558.5 320.6L1559.1 319.7L1560.1 318.7L1560.3 317.7L1561 316.7L1562 315.7L1562.9 314.7L1563.2 313.7L1563.8 312.6L1564.2 311.6L1565.2 310.6L1565.7 309.5L1566.6 308.5L1566.8 307.4L1567.1 306.4L1567.7 305.3L1568.2 304.3L1568.8 303.2L1570 302.2L1570.5 301.1L1570.5 300.1L1571.9 299L1572.1 298L1572.4 297L1573.4 295.9L1573.9 294.9L1574.3 293.9L1574.6 292.8L1575.8 291.8L1576.4 290.8L1576.3 289.8L1577.7 288.7L1578.4 287.7L1578.7 286.7L1579.5 285.6L1580 284.6L1580.5 283.6L1581.2 282.6L1582.3 281.5L1582.2 280.5L1583.2 279.5L1583.8 278.4L1584.2 277.4L1584.9 276.4L1585.3 275.4L1586.1 274.3L1586.9 273.3L1587.6 272.3L1587.9 271.3L1589.5 270.2L1589.3 269.2L1590.1 268.2L1590.6 267.2L1591.2 266.1L1592.2 265.1L1592.4 264.1L1593.5 263.1L1594.1 262.1L1594.2 261L1595.3 260L1595.5 259L1597 258L1596.9 257L1597.4 255.9L1597.7 254.9L1598.5 253.9L1599.4 252.9L1599.9 251.9L1600.5 250.9L1601.2 249.8L1602 248.8L1603.1 247.8L1602.9 246.8L1603.8 245.8L1604.4 244.8L1604.9 243.8L1605.6 242.7L1606.3 241.7L1607.4 240.7L1607.8 239.7L1608.3 238.7L1609.3 237.7L1609.8 236.6L1610.3 235.6L1611.1 234.6L1611.5 233.6L1612.5 232.6L1613.1 231.6L1613.5 230.6L1614 229.5L1615.3 228.5L1615.6 227.5L1617 226.5L1616.7 225.5L1617.8 224.5L1618.1 223.5L1619 222.5L1619.8 221.5L1620 220.5L1620.9 219.5L1621.6 218.5L1622.3 217.6L1623.1 216.6L1623.9 215.6L1624.5 214.6L1625.1 213.6L1625.6 212.7L1626.1 211.7L1626.9 210.7L1627.7 209.8L1628.7 208.8L1629.2 207.9L1629.7 206.9L1630.9 206L1631.3 205L1632 204.1L1632.9 203.2L1633.8 202.2L1633.9 201.3L1634.9 200.4L1636 199.4L1636.7 198.5L1637.3 197.6L1638.2 196.7L1639.4 195.8L1639.7 194.8L1640.8 193.9L1641.6 193L1642.1 192.1L1643.1 191.2L1643.6 190.3L1644.4 189.4L1645 188.5L1646.3 187.5L1646.8 186.6L1647.6 185.7L1648.2 184.8L1649.7 183.9L1650.2 183L1650.8 182.1L1651.5 181.2L1652 180.3L1653.3 179.4L1654.1 178.5L1654.4 177.5L1655.8 176.6L1656.5 175.7L1656.9 174.8L1657.7 173.9L1658.5 173L1659.5 172L1660.2 171.1L1660.6 170.2L1662.1 169.3L1662.6 168.3L1663.6 167.4L1664.3 166.5L1664.7 165.6L1665.6 164.6L1666.5 163.7L1667.3 162.8L1667.8 161.8L1668.4 160.9L1669.4 160L1669.9 159L1670.7 158.1L1671.1 157.2L1672.4 156.3L1672.9 155.3L1673.8 154.4L1674.7 153.5L1675.6 152.6L1676.7 151.6L1677.1 150.7L1677.5 149.8L1678.6 148.9L1679.2 148L1680.3 147.1L1680.8 146.2L1681.6 145.3L1682.4 144.4L1683.2 143.5L1683.7 142.6L1684.8 141.7L1685.8 140.8L1686.9 140L1687.3 139.1L1688.1 138.2L1689.2 137.4L1690 136.5L1691.1 135.7L1691.7 134.8L1692.4 134L1693.7 133.2L1694.6 132.4L1695 131.6L1696 130.7L1696.5 129.9L1697.7 129.1L1698.4 128.3L1699.5 127.5L1700.3 126.7L1701.3 125.9L1702.2 125.1L1703.2 124.3L1704 123.5L1704.7 122.7L1705.4 121.8L1706.9 121L1707.9 120.2L1708.3 119.4L1709.4 118.6L1709.8 117.8" stroke="#e8000c" stroke-width="4.3" fill="none" stroke-linejoin="round" stroke-linecap="butt"/>
<circle cx="1371.8" cy="315.9" r="9" fill="#ff0000" stroke="#2a1010" stroke-width="1.3"/>
<circle cx="1710.1" cy="243.9" r="9" fill="#ff0000" stroke="#2a1010" stroke-width="1.3"/>
<path d="M1709.5 262L1723.2 275.6H1716.9V305.8H1702.6V275.6H1696.2z" fill="#4472c4" stroke="#2f528f" stroke-width="1.2" stroke-linejoin="miter"/>
<text transform="translate(1300.5 244.2) scale(1 1.09)" class="s" font-size="23" textLength="214" lengthAdjust="spacingAndGlyphs">Simulation result for</text>
<text transform="translate(1300.5 272.8) scale(1 1.09)" class="s" font-size="23" textLength="257" lengthAdjust="spacingAndGlyphs">target beam parameters</text>
<text transform="translate(1586 331.6) scale(1 1.09)" class="s" font-size="24.5" font-weight="700" stroke="#000" stroke-width=".5" textLength="200" lengthAdjust="spacingAndGlyphs">Measured value</text>
<text transform="translate(1249.5 322.8) scale(1 1.09)" class="s" font-size="24.6" fill="#f00000" textLength="101.5" lengthAdjust="spacingAndGlyphs">~0.72 nJ</text>
<text transform="translate(1731 250.4) scale(1 1.09)" class="s" font-size="24.6" fill="#f00000" textLength="87" lengthAdjust="spacingAndGlyphs">~5.8 nJ</text>
<text transform="translate(1725.8 218.4) scale(1 1.09)" class="s" font-size="24.6" fill="#1a7a1a" textLength="81" lengthAdjust="spacingAndGlyphs">~12 nJ</text>
<text transform="translate(1583.6 190.6) scale(1 1.09)" class="s" font-size="30.4" fill="#f00000">U2</text>
<text transform="translate(1259.3 410.4) scale(1 1.09)" class="s" font-size="30.4" fill="#1010e8">U1</text>
<text class="s n" x="1451.6" y="45.8" font-size="33.4" text-anchor="middle">(d)</text>
<text transform="translate(1178.6 637.3) scale(1 1.09)" class="s" font-size="23.6" text-anchor="middle" fill="#111">0</text>
<text transform="translate(1242.9 637.3) scale(1 1.09)" class="s" font-size="23.6" text-anchor="middle" fill="#111">1</text>
<text transform="translate(1307.3 637.3) scale(1 1.09)" class="s" font-size="23.6" text-anchor="middle" fill="#111">2</text>
<text transform="translate(1371.6 637.3) scale(1 1.09)" class="s" font-size="23.6" text-anchor="middle" fill="#111">3</text>
<text transform="translate(1436 637.3) scale(1 1.09)" class="s" font-size="23.6" text-anchor="middle" fill="#111">4</text>
<text transform="translate(1500.3 637.3) scale(1 1.09)" class="s" font-size="23.6" text-anchor="middle" fill="#111">5</text>
<text transform="translate(1564.6 637.3) scale(1 1.09)" class="s" font-size="23.6" text-anchor="middle" fill="#111">6</text>
<text transform="translate(1629 637.3) scale(1 1.09)" class="s" font-size="23.6" text-anchor="middle" fill="#111">7</text>
<text transform="translate(1693.3 637.3) scale(1 1.09)" class="s" font-size="23.6" text-anchor="middle" fill="#111">8</text>
<text transform="translate(1164 66.4) scale(1 1.09)" class="s" font-size="25.4" fill="#111" text-anchor="end">10<tspan font-size="18.4" dy="-12.2">0</tspan></text>
<text transform="translate(1164 144.5) scale(1 1.09)" class="s" font-size="25.4" fill="#111" text-anchor="end">10<tspan font-size="18.4" dy="-12.2">-1</tspan></text>
<text transform="translate(1164 222.7) scale(1 1.09)" class="s" font-size="25.4" fill="#111" text-anchor="end">10<tspan font-size="18.4" dy="-12.2">-2</tspan></text>
<text transform="translate(1164 300.8) scale(1 1.09)" class="s" font-size="25.4" fill="#111" text-anchor="end">10<tspan font-size="18.4" dy="-12.2">-3</tspan></text>
<text transform="translate(1164 378.9) scale(1 1.09)" class="s" font-size="25.4" fill="#111" text-anchor="end">10<tspan font-size="18.4" dy="-12.2">-4</tspan></text>
<text transform="translate(1164 457.1) scale(1 1.09)" class="s" font-size="25.4" fill="#111" text-anchor="end">10<tspan font-size="18.4" dy="-12.2">-5</tspan></text>
<text transform="translate(1164 535.2) scale(1 1.09)" class="s" font-size="25.4" fill="#111" text-anchor="end">10<tspan font-size="18.4" dy="-12.2">-6</tspan></text>
<text transform="translate(1164 613.3) scale(1 1.09)" class="s" font-size="25.4" fill="#111" text-anchor="end">10<tspan font-size="18.4" dy="-12.2">-7</tspan></text>
<text transform="translate(1477.4 670.6) scale(1 1.09)" class="s" font-size="28.2" text-anchor="middle">z[m]</text>
<text class="s" transform="translate(1100 327.4) rotate(-90) scale(1 1.09)" font-size="27.6" text-anchor="middle" textLength="486" lengthAdjust="spacingAndGlyphs" style="white-space:pre">FEL Pulse energy/bunch @ 20μm  [μJ]</text>
</g>
<g id="pe">
<rect x="1371.2" y="763.2" width="49.4" height="45.8" fill="#f2caa2" stroke="#8a7d78" stroke-width="1"/>
<rect x="1750" y="763.2" width="49.5" height="45.8" fill="#f2caa2" stroke="#8a7d78" stroke-width="1"/>
<rect x="1419.6" y="738.8" width="94" height="19.2" rx="1.5" fill="#ecd2b4" stroke="#3a2e28" stroke-width="1"/>
<path d="M1425.3 740.2h9.6l-2 3v10l2 3h-9.6l2-3v-10z" fill="#22150f"/>
<ellipse cx="1430.1" cy="748.4" rx="3.5" ry="7.2" fill="#f2323f"/>
<path d="M1437.9 740.2h9.6l-2 3v10l2 3h-9.6l2-3v-10z" fill="#22150f"/>
<ellipse cx="1442.7" cy="748.4" rx="3.5" ry="7.2" fill="#f2323f"/>
<path d="M1450.7 740.2h9.6l-2 3v10l2 3h-9.6l2-3v-10z" fill="#22150f"/>
<ellipse cx="1455.5" cy="748.4" rx="3.5" ry="7.2" fill="#f2323f"/>
<path d="M1463.3 740.2h9.6l-2 3v10l2 3h-9.6l2-3v-10z" fill="#22150f"/>
<ellipse cx="1468.1" cy="748.4" rx="3.5" ry="7.2" fill="#f2323f"/>
<rect x="1478.4" y="739.4" width="34.6" height="18" fill="#3a2a22"/>
<rect x="1479.4" y="741.4" width="32.6" height="14" fill="#e8c8a8"/>
<rect x="1482.4" y="742.6" width="5.2" height="11.8" rx="1.2" fill="#f2323f" stroke="#2a1a14" stroke-width=".8"/>
<rect x="1491.3" y="742.6" width="9.4" height="11.8" rx="1.2" fill="#f2323f" stroke="#2a1a14" stroke-width=".8"/>
<rect x="1503.6" y="742.6" width="4.8" height="11.8" rx="1.2" fill="#f2323f" stroke="#2a1a14" stroke-width=".8"/>
<rect x="1174.1" y="710.4" width="194.6" height="51.2" fill="#2f4ba6"/>
<rect x="1174.1" y="739.2" width="194.6" height="19.4" fill="#0f9a55"/>
<rect x="1174.1" y="742.6" width="194.6" height="12.4" fill="#1f5a3c"/>
<path d="M1178.1 744.6H1366.7M1178.1 753H1366.7" stroke="#102a1c" stroke-width="1.2" stroke-dasharray="3 2" fill="none"/>
<rect x="1174.1" y="747.2" width="194.6" height="3.4" fill="#a8786a"/>
<path d="M1159.7 759.4h30.6v10.8h-31.4z" fill="#f2caa2" stroke="#6a5a50" stroke-width="1"/><path d="M1162.9 770.2L1175.7 757.6" stroke="#151515" stroke-width="2.4" fill="none"/><rect x="1181.9" y="755.6" width="5" height="10.6" fill="#1a1a1a"/><path d="M1184.4 757v8" stroke="#f4f4f4" stroke-width="1.6" stroke-dasharray="1.5 1.2" fill="none"/>
<path d="M1246.7 759.4h30.6v10.8h-31.4z" fill="#f2caa2" stroke="#6a5a50" stroke-width="1"/><path d="M1249.9 770.2L1262.7 757.6" stroke="#151515" stroke-width="2.4" fill="none"/><rect x="1268.9" y="755.6" width="5" height="10.6" fill="#1a1a1a"/><path d="M1271.4 757v8" stroke="#f4f4f4" stroke-width="1.6" stroke-dasharray="1.5 1.2" fill="none"/>
<path d="M1334.5 759.4h30.6v10.8h-31.4z" fill="#f2caa2" stroke="#6a5a50" stroke-width="1"/><path d="M1337.7 770.2L1350.5 757.6" stroke="#151515" stroke-width="2.4" fill="none"/><rect x="1356.7" y="755.6" width="5" height="10.6" fill="#1a1a1a"/><path d="M1359.2 757v8" stroke="#f4f4f4" stroke-width="1.6" stroke-dasharray="1.5 1.2" fill="none"/>
<path d="M1212.4 710.6V731H1228.6V710.6M1320.1 710.6V731H1336.3V710.6M1228.6 731.4H1320.1" stroke="#e4e8f6" stroke-width="2" fill="none"/>
<path d="M1244.7 759.4V732.4H1298.1V759.4M1248.7 759V736H1294.5V759M1238.6 748.9H1304.7M1250.1 759H1292.1" stroke="#eef2fa" stroke-width="1.3" fill="none"/>
<g fill="#111"><circle cx="1212.7" cy="731" r="2.7"/><circle cx="1228.5" cy="731" r="2.7"/><circle cx="1320.1" cy="731" r="2.7"/><circle cx="1336.3" cy="731" r="2.7"/><circle cx="1256.9" cy="733" r="2.6"/><circle cx="1285.9" cy="733" r="2.6"/><circle cx="1246.7" cy="758.4" r="2.7"/><circle cx="1296.1" cy="758.4" r="2.7"/><circle cx="1217.9" cy="712.8" r="2.6"/><circle cx="1325.7" cy="712.8" r="2.6"/><path d="M1271.3 745.4l4.4 9.4h-8.8z"/></g>
<g fill="#fff"><circle cx="1217.9" cy="722.8" r="2.9"/><circle cx="1325.7" cy="722.8" r="2.9"/><circle cx="1263.1" cy="753.6" r="2.9"/><circle cx="1279.5" cy="753.6" r="2.9"/></g>
<text transform="translate(1274.3 725.4) scale(1 1.09)" class="s" font-size="5.6" fill="#1d2f7c" text-anchor="middle" textLength="37" lengthAdjust="spacingAndGlyphs">Undulator 1</text>
<rect x="1169.5" y="744.4" width="5" height="9" fill="#111"/>
<rect x="1516.2" y="710.4" width="194.6" height="51.2" fill="#2f4ba6"/>
<rect x="1516.2" y="739.2" width="194.6" height="19.4" fill="#0f9a55"/>
<rect x="1516.2" y="742.6" width="194.6" height="12.4" fill="#1f5a3c"/>
<path d="M1520.2 744.6H1708.8M1520.2 753H1708.8" stroke="#102a1c" stroke-width="1.2" stroke-dasharray="3 2" fill="none"/>
<rect x="1516.2" y="747.2" width="194.6" height="3.4" fill="#a8786a"/>
<path d="M1501.8 759.4h30.6v10.8h-31.4z" fill="#f2caa2" stroke="#6a5a50" stroke-width="1"/><path d="M1505 770.2L1517.8 757.6" stroke="#151515" stroke-width="2.4" fill="none"/><rect x="1524" y="755.6" width="5" height="10.6" fill="#1a1a1a"/><path d="M1526.5 757v8" stroke="#f4f4f4" stroke-width="1.6" stroke-dasharray="1.5 1.2" fill="none"/>
<path d="M1588.8 759.4h30.6v10.8h-31.4z" fill="#f2caa2" stroke="#6a5a50" stroke-width="1"/><path d="M1592 770.2L1604.8 757.6" stroke="#151515" stroke-width="2.4" fill="none"/><rect x="1611" y="755.6" width="5" height="10.6" fill="#1a1a1a"/><path d="M1613.5 757v8" stroke="#f4f4f4" stroke-width="1.6" stroke-dasharray="1.5 1.2" fill="none"/>
<path d="M1676.6 759.4h30.6v10.8h-31.4z" fill="#f2caa2" stroke="#6a5a50" stroke-width="1"/><path d="M1679.8 770.2L1692.6 757.6" stroke="#151515" stroke-width="2.4" fill="none"/><rect x="1698.8" y="755.6" width="5" height="10.6" fill="#1a1a1a"/><path d="M1701.3 757v8" stroke="#f4f4f4" stroke-width="1.6" stroke-dasharray="1.5 1.2" fill="none"/>
<path d="M1554.5 710.6V731H1570.7V710.6M1662.2 710.6V731H1678.4V710.6M1570.7 731.4H1662.2" stroke="#e4e8f6" stroke-width="2" fill="none"/>
<path d="M1586.8 759.4V732.4H1640.2V759.4M1590.8 759V736H1636.6V759M1580.7 748.9H1646.8M1592.2 759H1634.2" stroke="#eef2fa" stroke-width="1.3" fill="none"/>
<g fill="#111"><circle cx="1554.8" cy="731" r="2.7"/><circle cx="1570.6" cy="731" r="2.7"/><circle cx="1662.2" cy="731" r="2.7"/><circle cx="1678.4" cy="731" r="2.7"/><circle cx="1599" cy="733" r="2.6"/><circle cx="1628" cy="733" r="2.6"/><circle cx="1588.8" cy="758.4" r="2.7"/><circle cx="1638.2" cy="758.4" r="2.7"/><circle cx="1560" cy="712.8" r="2.6"/><circle cx="1667.8" cy="712.8" r="2.6"/><path d="M1613.4 745.4l4.4 9.4h-8.8z"/></g>
<g fill="#fff"><circle cx="1560" cy="722.8" r="2.9"/><circle cx="1667.8" cy="722.8" r="2.9"/><circle cx="1605.2" cy="753.6" r="2.9"/><circle cx="1621.6" cy="753.6" r="2.9"/></g>
<text transform="translate(1616.4 725.4) scale(1 1.09)" class="s" font-size="5.6" fill="#1d2f7c" text-anchor="middle" textLength="37" lengthAdjust="spacingAndGlyphs">Undulator 2</text>
<rect x="1511.6" y="744.4" width="5" height="9" fill="#111"/>
<rect x="1158.6" y="747.2" width="8" height="3.6" fill="#cf5a28"/>
<rect x="1166.2" y="737.4" width="3.6" height="21.8" fill="#8f9c46" stroke="#6a6a3a" stroke-width=".5"/>
<rect x="1368.6" y="744" width="4" height="9.4" fill="#111"/>
<rect x="1372.5" y="737.4" width="4.4" height="22.2" fill="#8f9c46" stroke="#5e5a34" stroke-width=".6"/>
<rect x="1382" y="750" width="12" height="3.4" rx="1.6" fill="#b8d4e0"/>
<rect x="1399" y="741.6" width="15" height="15.6" rx="1.5" fill="#1c1c24"/>
<rect x="1400.4" y="725.8" width="12.2" height="16.6" rx="1" fill="#2f55b4"/>
<rect x="1400.4" y="735" width="12.2" height="2.2" fill="#24408c"/>
<rect x="1407.6" y="756.6" width="5.6" height="4" fill="#f0f0f0" stroke="#555" stroke-width=".6"/>
<rect x="1413.6" y="744.4" width="6" height="8" fill="#8ec4d2"/>
<path d="M1373.2 744.2H1406.8V772.2H1415.2L1403.9 784.4L1392.6 772.2H1401V750.2H1373.2z" fill="#ff0000"/>
<rect x="1710.6" y="744" width="4.2" height="9.4" fill="#111"/>
<rect x="1714.6" y="737.4" width="4.2" height="22.4" fill="#8f9c46" stroke="#5e5a34" stroke-width=".6"/>
<path d="M1729.6 739V725.6H1747.8V729.4" stroke="#444" stroke-width="1.2" fill="none"/>
<rect x="1733" y="732.4" width="15" height="32.4" rx="2.5" fill="#f03a44" stroke="#8a2a2a" stroke-width=".8"/>
<rect x="1718.8" y="739.4" width="31.6" height="18.4" rx="1.5" fill="#ecd2b4" stroke="#3a2e28" stroke-width="1"/>
<path d="M1721.3 740.6h10l-2 3v9.6l2 3h-10l2-3v-9.6z" fill="#22150f"/>
<ellipse cx="1726.3" cy="748.6" rx="3.5" ry="7" fill="#f2323f"/>
<path d="M1734.2 740.6h10l-2 3v9.6l2 3h-10l2-3v-9.6z" fill="#22150f"/>
<ellipse cx="1739.2" cy="748.6" rx="3.5" ry="7" fill="#f2323f"/>
<rect x="1758.8" y="742.2" width="6.8" height="12.8" rx="1.5" fill="#e070c4"/>
<rect x="1771" y="741.6" width="15.2" height="15.6" rx="1.5" fill="#1c1c24"/>
<rect x="1773" y="725.8" width="11.8" height="16.6" rx="1" fill="#2f55b4"/>
<rect x="1773" y="735" width="11.8" height="2.2" fill="#24408c"/>
<rect x="1773" y="756.6" width="5.4" height="4" fill="#f0f0f0" stroke="#555" stroke-width=".6"/>
<rect x="1785.2" y="744.2" width="11" height="9.4" rx="2" fill="#8a62d2"/>
<rect x="1796" y="746.6" width="6.2" height="5" fill="#c44a44"/>
<path d="M1750.6 746.2H1784.6V774.2H1793L1781.7 786.4L1770.4 774.2H1778.8V752.2H1750.6z" fill="#ff0000"/>
<text transform="translate(1254.4 701.2) scale(1 1.09)" class="s" font-size="30.4">U1</text>
<text transform="translate(1592 702.6) scale(1 1.09)" class="s" font-size="30.4">U2</text>
<text transform="translate(1219.6 841.4) scale(1 1.09)" class="s" font-size="23.4" textLength="208.4" lengthAdjust="spacingAndGlyphs">FEL monitor port #1</text>
<text transform="translate(1599 841.4) scale(1 1.09)" class="s" font-size="23.4" textLength="210.4" lengthAdjust="spacingAndGlyphs">FEL monitor port #2</text>
</g>
</svg>
</body></html>
